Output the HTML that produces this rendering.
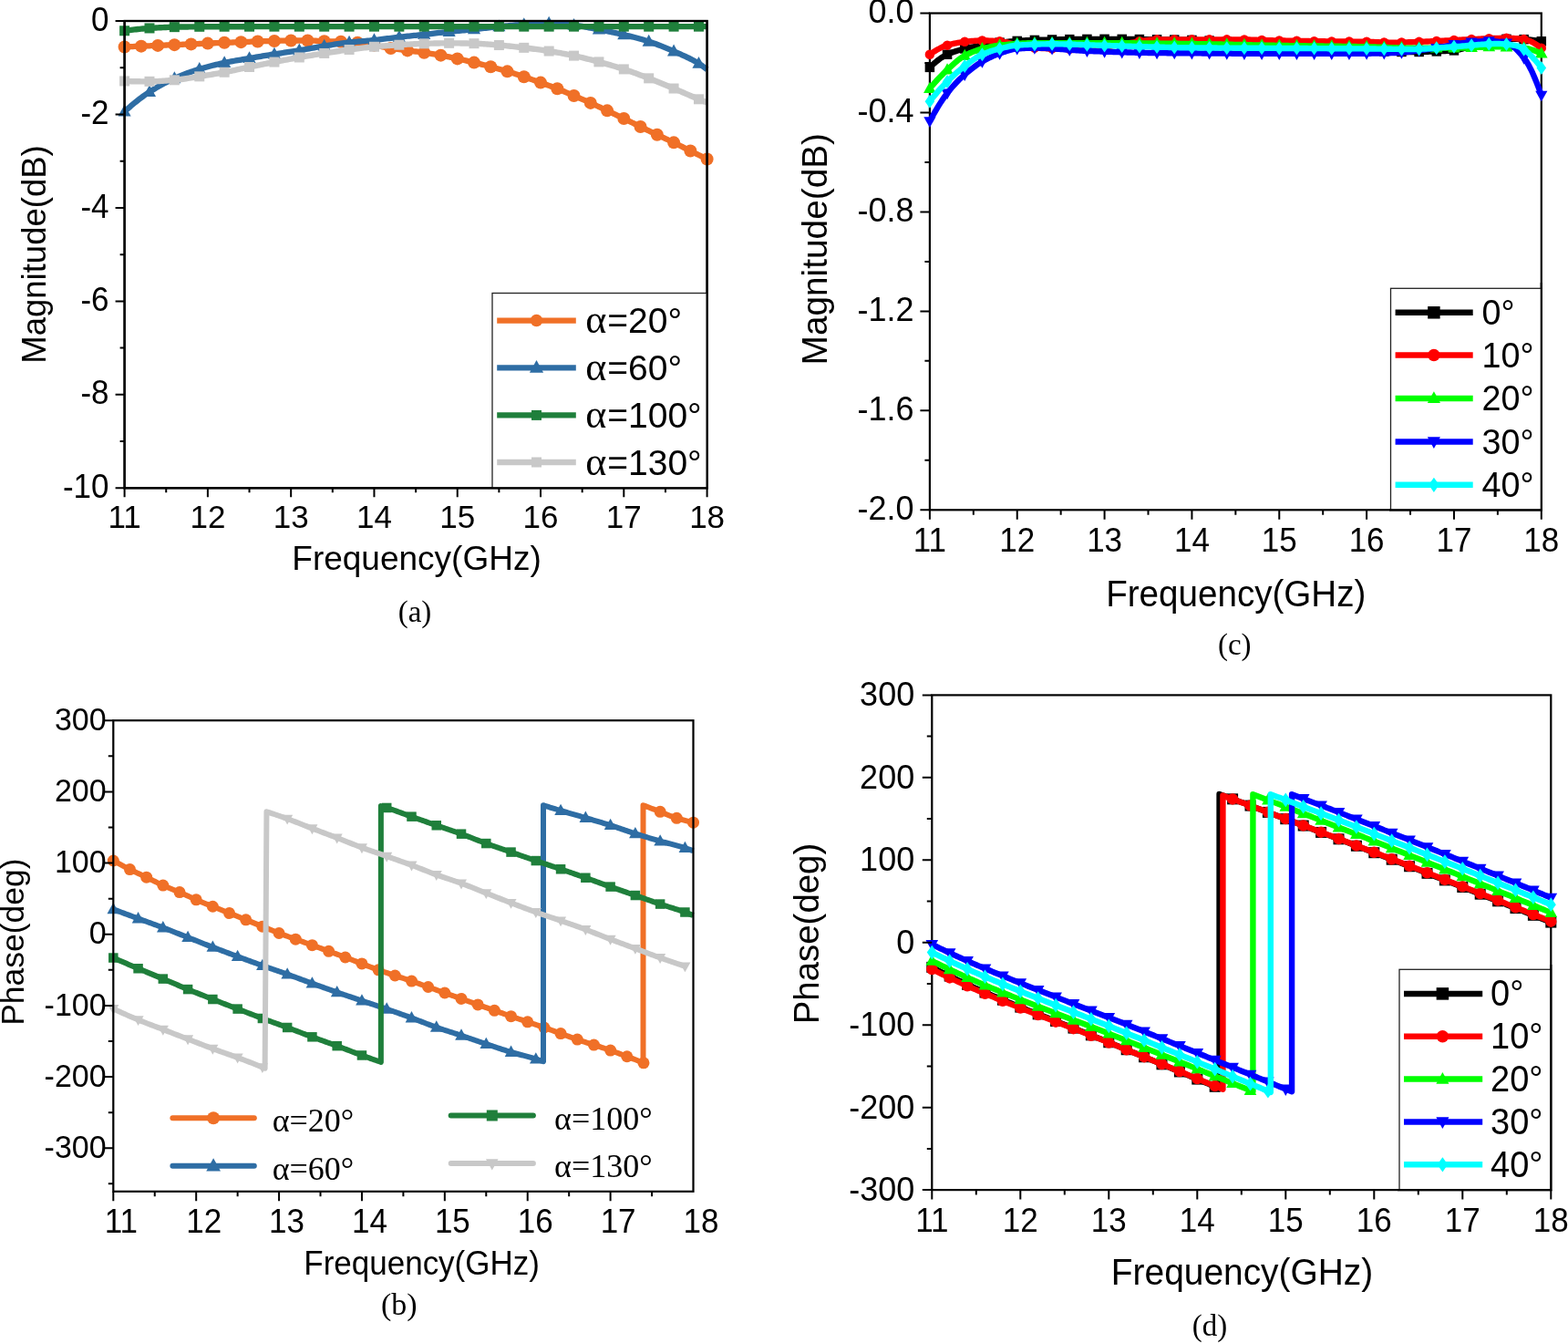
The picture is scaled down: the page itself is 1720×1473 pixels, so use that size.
<!DOCTYPE html>
<html><head><meta charset="utf-8"><title>Figure</title><style>html,body{margin:0;padding:0;background:#fff;}svg{display:block;}</style></head><body>
<svg width="1720" height="1473" viewBox="0 0 1720 1473">
<rect width="1720" height="1473" fill="#fff"/>
<path d="M136.6 51.43L138.43 51.36L140.25 51.28L142.08 51.2L143.9 51.13L145.73 51.05L147.55 50.97L149.38 50.89L151.21 50.82L153.03 50.74L154.86 50.66L156.68 50.59L158.51 50.51L160.33 50.43L162.16 50.36L163.99 50.28L165.81 50.2L167.64 50.13L169.46 50.05L171.29 49.97L173.11 49.9L174.94 49.82L176.77 49.74L178.59 49.66L180.42 49.59L182.24 49.51L184.07 49.43L185.89 49.35L187.72 49.28L189.55 49.2L191.37 49.13L193.2 49.05L195.02 48.98L196.85 48.91L198.67 48.84L200.5 48.77L202.33 48.7L204.15 48.63L205.98 48.56L207.8 48.49L209.63 48.41L211.45 48.33L213.28 48.25L215.11 48.17L216.93 48.09L218.76 48L220.58 47.92L222.41 47.84L224.23 47.75L226.06 47.67L227.89 47.59L229.71 47.51L231.54 47.43L233.36 47.35L235.19 47.27L237.01 47.2L238.84 47.12L240.67 47.04L242.49 46.97L244.32 46.89L246.14 46.82L247.97 46.75L249.79 46.68L251.62 46.62L253.45 46.55L255.27 46.49L257.1 46.42L258.92 46.36L260.75 46.29L262.57 46.22L264.4 46.16L266.23 46.09L268.05 46.01L269.88 45.94L271.7 45.86L273.53 45.79L275.35 45.71L277.18 45.64L279.01 45.57L280.83 45.5L282.66 45.44L284.48 45.38L286.31 45.32L288.13 45.27L289.96 45.22L291.79 45.16L293.61 45.11L295.44 45.07L297.26 45.02L299.09 44.97L300.91 44.93L302.74 44.88L304.57 44.83L306.39 44.77L308.22 44.72L310.04 44.66L311.87 44.62L313.69 44.58L315.52 44.54L317.35 44.52L319.17 44.52L321 44.52L322.82 44.52L324.65 44.52L326.47 44.52L328.3 44.52L330.13 44.52L331.95 44.52L333.78 44.52L335.6 44.52L337.43 44.52L339.25 44.53L341.08 44.56L342.91 44.61L344.73 44.68L346.56 44.75L348.38 44.83L350.21 44.91L352.03 44.99L353.86 45.07L355.69 45.13L357.51 45.19L359.34 45.24L361.16 45.29L362.99 45.34L364.81 45.39L366.64 45.44L368.47 45.5L370.29 45.56L372.12 45.62L373.94 45.69L375.77 45.77L377.59 45.86L379.42 45.95L381.25 46.05L383.07 46.15L384.9 46.27L386.72 46.39L388.55 46.52L390.37 46.67L392.2 46.82L394.03 47L395.85 47.22L397.68 47.47L399.5 47.75L401.33 48.05L403.15 48.36L404.98 48.68L406.81 49.01L408.63 49.33L410.46 49.64L412.28 49.95L414.11 50.29L415.93 50.63L417.76 50.98L419.59 51.34L421.41 51.69L423.24 52.03L425.06 52.36L426.89 52.68L428.71 52.97L430.54 53.24L432.37 53.5L434.19 53.75L436.02 53.99L437.84 54.23L439.67 54.46L441.49 54.69L443.32 54.91L445.15 55.14L446.97 55.38L448.8 55.61L450.62 55.84L452.45 56.06L454.27 56.28L456.1 56.5L457.93 56.72L459.75 56.95L461.58 57.19L463.4 57.43L465.23 57.68L467.05 57.95L468.88 58.22L470.71 58.5L472.53 58.78L474.36 59.08L476.18 59.38L478.01 59.69L479.83 60L481.66 60.33L483.49 60.65L485.31 60.99L487.14 61.34L488.96 61.7L490.79 62.07L492.61 62.44L494.44 62.83L496.27 63.21L498.09 63.6L499.92 64L501.74 64.39L503.57 64.79L505.39 65.2L507.22 65.61L509.05 66.02L510.87 66.44L512.7 66.86L514.52 67.29L516.35 67.72L518.17 68.16L520 68.59L521.83 69.04L523.65 69.48L525.48 69.93L527.3 70.38L529.13 70.84L530.95 71.31L532.78 71.77L534.61 72.25L536.43 72.72L538.26 73.21L540.08 73.69L541.91 74.18L543.73 74.68L545.56 75.18L547.39 75.69L549.21 76.2L551.04 76.72L552.86 77.25L554.69 77.78L556.51 78.33L558.34 78.88L560.17 79.45L561.99 80.02L563.82 80.6L565.64 81.19L567.47 81.79L569.29 82.39L571.12 83L572.95 83.61L574.77 84.22L576.6 84.84L578.42 85.46L580.25 86.09L582.07 86.73L583.9 87.37L585.73 88.02L587.55 88.67L589.38 89.32L591.2 89.97L593.03 90.62L594.85 91.27L596.68 91.92L598.51 92.57L600.33 93.22L602.16 93.88L603.98 94.54L605.81 95.21L607.63 95.89L609.46 96.58L611.29 97.28L613.11 98.01L614.94 98.75L616.76 99.5L618.59 100.27L620.41 101.04L622.24 101.82L624.07 102.61L625.89 103.4L627.72 104.18L629.54 104.97L631.37 105.75L633.19 106.53L635.02 107.32L636.85 108.1L638.67 108.89L640.5 109.68L642.32 110.48L644.15 111.28L645.97 112.09L647.8 112.91L649.63 113.73L651.45 114.56L653.28 115.4L655.1 116.24L656.93 117.09L658.75 117.94L660.58 118.79L662.41 119.65L664.23 120.5L666.06 121.36L667.88 122.22L669.71 123.08L671.53 123.95L673.36 124.81L675.19 125.68L677.01 126.56L678.84 127.43L680.66 128.31L682.49 129.19L684.31 130.07L686.14 130.96L687.97 131.85L689.79 132.75L691.62 133.65L693.44 134.55L695.27 135.45L697.09 136.35L698.92 137.25L700.75 138.15L702.57 139.04L704.4 139.92L706.22 140.8L708.05 141.69L709.87 142.56L711.7 143.44L713.53 144.32L715.35 145.19L717.18 146.06L719 146.93L720.83 147.8L722.65 148.66L724.48 149.51L726.31 150.36L728.13 151.2L729.96 152.05L731.78 152.9L733.61 153.75L735.43 154.61L737.26 155.47L739.09 156.35L740.91 157.24L742.74 158.15L744.56 159.06L746.39 159.99L748.21 160.91L750.04 161.84L751.87 162.77L753.69 163.69L755.52 164.61L757.34 165.52L759.17 166.42L760.99 167.32L762.82 168.22L764.65 169.12L766.47 170.01L768.3 170.9L770.12 171.79L771.95 172.67L773.77 173.56L775.6 174.44" fill="none" stroke="#f07027" stroke-width="6.3" stroke-linejoin="round" stroke-linecap="butt"/>
<circle cx="136.6" cy="51.43" r="7" fill="#f07027"/><circle cx="154.86" cy="50.66" r="7" fill="#f07027"/><circle cx="173.11" cy="49.9" r="7" fill="#f07027"/><circle cx="191.37" cy="49.13" r="7" fill="#f07027"/><circle cx="209.63" cy="48.41" r="7" fill="#f07027"/><circle cx="227.89" cy="47.59" r="7" fill="#f07027"/><circle cx="246.14" cy="46.82" r="7" fill="#f07027"/><circle cx="264.4" cy="46.16" r="7" fill="#f07027"/><circle cx="282.66" cy="45.44" r="7" fill="#f07027"/><circle cx="300.91" cy="44.93" r="7" fill="#f07027"/><circle cx="319.17" cy="44.52" r="7" fill="#f07027"/><circle cx="337.43" cy="44.52" r="7" fill="#f07027"/><circle cx="355.69" cy="45.13" r="7" fill="#f07027"/><circle cx="373.94" cy="45.69" r="7" fill="#f07027"/><circle cx="392.2" cy="46.82" r="7" fill="#f07027"/><circle cx="410.46" cy="49.64" r="7" fill="#f07027"/><circle cx="428.71" cy="52.97" r="7" fill="#f07027"/><circle cx="446.97" cy="55.38" r="7" fill="#f07027"/><circle cx="465.23" cy="57.68" r="7" fill="#f07027"/><circle cx="483.49" cy="60.65" r="7" fill="#f07027"/><circle cx="501.74" cy="64.39" r="7" fill="#f07027"/><circle cx="520" cy="68.59" r="7" fill="#f07027"/><circle cx="538.26" cy="73.21" r="7" fill="#f07027"/><circle cx="556.51" cy="78.33" r="7" fill="#f07027"/><circle cx="574.77" cy="84.22" r="7" fill="#f07027"/><circle cx="593.03" cy="90.62" r="7" fill="#f07027"/><circle cx="611.29" cy="97.28" r="7" fill="#f07027"/><circle cx="629.54" cy="104.97" r="7" fill="#f07027"/><circle cx="647.8" cy="112.91" r="7" fill="#f07027"/><circle cx="666.06" cy="121.36" r="7" fill="#f07027"/><circle cx="684.31" cy="130.07" r="7" fill="#f07027"/><circle cx="702.57" cy="139.04" r="7" fill="#f07027"/><circle cx="720.83" cy="147.8" r="7" fill="#f07027"/><circle cx="739.09" cy="156.35" r="7" fill="#f07027"/><circle cx="757.34" cy="165.52" r="7" fill="#f07027"/><circle cx="775.6" cy="174.44" r="7" fill="#f07027"/>
<path d="M136.6 122.39L138.43 120.74L140.25 119.12L142.08 117.53L143.9 115.97L145.73 114.43L147.55 112.92L149.38 111.45L151.21 110L153.03 108.59L154.86 107.21L156.68 105.87L158.51 104.56L160.33 103.29L162.16 102.06L163.99 100.87L165.81 99.71L167.64 98.57L169.46 97.46L171.29 96.38L173.11 95.31L174.94 94.27L176.77 93.26L178.59 92.27L180.42 91.3L182.24 90.36L184.07 89.44L185.89 88.55L187.72 87.68L189.55 86.83L191.37 86.01L193.2 85.21L195.02 84.43L196.85 83.66L198.67 82.91L200.5 82.17L202.33 81.45L204.15 80.75L205.98 80.07L207.8 79.4L209.63 78.75L211.45 78.12L213.28 77.5L215.11 76.9L216.93 76.33L218.76 75.77L220.58 75.22L222.41 74.69L224.23 74.17L226.06 73.67L227.89 73.17L229.71 72.69L231.54 72.22L233.36 71.76L235.19 71.32L237.01 70.88L238.84 70.45L240.67 70.04L242.49 69.63L244.32 69.24L246.14 68.85L247.97 68.48L249.79 68.12L251.62 67.76L253.45 67.42L255.27 67.09L257.1 66.77L258.92 66.45L260.75 66.14L262.57 65.83L264.4 65.52L266.23 65.22L268.05 64.91L269.88 64.61L271.7 64.3L273.53 63.98L275.35 63.67L277.18 63.35L279.01 63.04L280.83 62.72L282.66 62.41L284.48 62.1L286.31 61.78L288.13 61.47L289.96 61.17L291.79 60.86L293.61 60.56L295.44 60.26L297.26 59.96L299.09 59.66L300.91 59.37L302.74 59.09L304.57 58.81L306.39 58.53L308.22 58.26L310.04 58L311.87 57.73L313.69 57.47L315.52 57.21L317.35 56.94L319.17 56.68L321 56.41L322.82 56.13L324.65 55.85L326.47 55.57L328.3 55.27L330.13 54.97L331.95 54.66L333.78 54.34L335.6 54.01L337.43 53.67L339.25 53.33L341.08 52.99L342.91 52.65L344.73 52.31L346.56 51.98L348.38 51.65L350.21 51.32L352.03 51.01L353.86 50.7L355.69 50.41L357.51 50.12L359.34 49.84L361.16 49.56L362.99 49.28L364.81 49L366.64 48.73L368.47 48.47L370.29 48.2L372.12 47.95L373.94 47.7L375.77 47.46L377.59 47.22L379.42 46.99L381.25 46.78L383.07 46.57L384.9 46.37L386.72 46.18L388.55 46L390.37 45.83L392.2 45.66L394.03 45.5L395.85 45.34L397.68 45.18L399.5 45.03L401.33 44.87L403.15 44.71L404.98 44.54L406.81 44.37L408.63 44.19L410.46 44L412.28 43.81L414.11 43.6L415.93 43.39L417.76 43.16L419.59 42.94L421.41 42.71L423.24 42.48L425.06 42.24L426.89 42.01L428.71 41.78L430.54 41.55L432.37 41.32L434.19 41.1L436.02 40.88L437.84 40.67L439.67 40.47L441.49 40.28L443.32 40.08L445.15 39.9L446.97 39.71L448.8 39.53L450.62 39.34L452.45 39.16L454.27 38.98L456.1 38.8L457.93 38.61L459.75 38.43L461.58 38.24L463.4 38.05L465.23 37.86L467.05 37.66L468.88 37.46L470.71 37.25L472.53 37.04L474.36 36.83L476.18 36.62L478.01 36.41L479.83 36.2L481.66 35.99L483.49 35.78L485.31 35.57L487.14 35.37L488.96 35.17L490.79 34.97L492.61 34.78L494.44 34.6L496.27 34.42L498.09 34.25L499.92 34.08L501.74 33.91L503.57 33.75L505.39 33.58L507.22 33.42L509.05 33.26L510.87 33.09L512.7 32.93L514.52 32.76L516.35 32.58L518.17 32.4L520 32.22L521.83 32.03L523.65 31.83L525.48 31.63L527.3 31.42L529.13 31.21L530.95 30.99L532.78 30.77L534.61 30.56L536.43 30.34L538.26 30.13L540.08 29.92L541.91 29.72L543.73 29.52L545.56 29.33L547.39 29.15L549.21 28.97L551.04 28.8L552.86 28.62L554.69 28.45L556.51 28.28L558.34 28.11L560.17 27.95L561.99 27.79L563.82 27.64L565.64 27.49L567.47 27.35L569.29 27.21L571.12 27.08L572.95 26.96L574.77 26.84L576.6 26.73L578.42 26.62L580.25 26.5L582.07 26.38L583.9 26.27L585.73 26.15L587.55 26.05L589.38 25.95L591.2 25.85L593.03 25.77L594.85 25.7L596.68 25.64L598.51 25.6L600.33 25.57L602.16 25.56L603.98 25.58L605.81 25.62L607.63 25.68L609.46 25.77L611.29 25.88L613.11 26.01L614.94 26.15L616.76 26.31L618.59 26.47L620.41 26.65L622.24 26.84L624.07 27.03L625.89 27.22L627.72 27.42L629.54 27.61L631.37 27.82L633.19 28.06L635.02 28.32L636.85 28.61L638.67 28.91L640.5 29.24L642.32 29.58L644.15 29.93L645.97 30.29L647.8 30.66L649.63 31.03L651.45 31.4L653.28 31.76L655.1 32.12L656.93 32.48L658.75 32.83L660.58 33.18L662.41 33.53L664.23 33.88L666.06 34.24L667.88 34.6L669.71 34.96L671.53 35.33L673.36 35.71L675.19 36.09L677.01 36.48L678.84 36.87L680.66 37.28L682.49 37.69L684.31 38.11L686.14 38.54L687.97 38.98L689.79 39.42L691.62 39.88L693.44 40.34L695.27 40.81L697.09 41.29L698.92 41.78L700.75 42.28L702.57 42.79L704.4 43.31L706.22 43.85L708.05 44.4L709.87 44.96L711.7 45.54L713.53 46.14L715.35 46.76L717.18 47.4L719 48.07L720.83 48.75L722.65 49.45L724.48 50.17L726.31 50.9L728.13 51.64L729.96 52.4L731.78 53.16L733.61 53.94L735.43 54.72L737.26 55.51L739.09 56.3L740.91 57.09L742.74 57.88L744.56 58.68L746.39 59.48L748.21 60.29L750.04 61.11L751.87 61.95L753.69 62.81L755.52 63.69L757.34 64.6L759.17 65.53L760.99 66.5L762.82 67.5L764.65 68.54L766.47 69.62L768.3 70.79L770.12 72.06L771.95 73.43L773.77 74.84L775.6 76.28" fill="none" stroke="#2e6da4" stroke-width="6.3" stroke-linejoin="round" stroke-linecap="butt"/>
<path d="M136.6 114.69L143.69 127.52L129.51 127.52Z" fill="#2e6da4"/><path d="M163.99 93.17L171.07 106L156.9 106Z" fill="#2e6da4"/><path d="M191.37 78.32L198.46 91.14L184.28 91.14Z" fill="#2e6da4"/><path d="M218.76 68.07L225.84 80.9L211.67 80.9Z" fill="#2e6da4"/><path d="M246.14 61.16L253.23 73.98L239.06 73.98Z" fill="#2e6da4"/><path d="M273.53 56.29L280.62 69.11L266.44 69.11Z" fill="#2e6da4"/><path d="M300.91 51.68L308 64.5L293.83 64.5Z" fill="#2e6da4"/><path d="M328.3 47.58L335.39 60.4L321.21 60.4Z" fill="#2e6da4"/><path d="M355.69 42.71L362.77 55.54L348.6 55.54Z" fill="#2e6da4"/><path d="M383.07 38.87L390.16 51.7L375.98 51.7Z" fill="#2e6da4"/><path d="M410.46 36.31L417.54 49.13L403.37 49.13Z" fill="#2e6da4"/><path d="M437.84 32.98L444.93 45.8L430.76 45.8Z" fill="#2e6da4"/><path d="M465.23 30.16L472.32 42.99L458.14 42.99Z" fill="#2e6da4"/><path d="M492.61 27.09L499.7 39.91L485.53 39.91Z" fill="#2e6da4"/><path d="M520 24.53L527.09 37.35L512.91 37.35Z" fill="#2e6da4"/><path d="M547.39 21.45L554.47 34.28L540.3 34.28Z" fill="#2e6da4"/><path d="M574.77 19.15L581.86 31.97L567.68 31.97Z" fill="#2e6da4"/><path d="M602.16 17.87L609.24 30.69L595.07 30.69Z" fill="#2e6da4"/><path d="M629.54 19.92L636.63 32.74L622.46 32.74Z" fill="#2e6da4"/><path d="M656.93 24.78L664.02 37.61L649.84 37.61Z" fill="#2e6da4"/><path d="M684.31 30.42L691.4 43.24L677.23 43.24Z" fill="#2e6da4"/><path d="M711.7 37.85L718.79 50.67L704.61 50.67Z" fill="#2e6da4"/><path d="M739.09 48.6L746.17 61.43L732 61.43Z" fill="#2e6da4"/><path d="M766.47 61.92L773.56 74.75L759.38 74.75Z" fill="#2e6da4"/>
<path d="M136.6 33.76L138.43 33.52L140.25 33.29L142.08 33.06L143.9 32.84L145.73 32.63L147.55 32.42L149.38 32.22L151.21 32.03L153.03 31.84L154.86 31.67L156.68 31.5L158.51 31.34L160.33 31.2L162.16 31.06L163.99 30.94L165.81 30.82L167.64 30.71L169.46 30.6L171.29 30.49L173.11 30.39L174.94 30.29L176.77 30.19L178.59 30.1L180.42 30.02L182.24 29.94L184.07 29.87L185.89 29.8L187.72 29.75L189.55 29.7L191.37 29.66L193.2 29.63L195.02 29.59L196.85 29.56L198.67 29.53L200.5 29.5L202.33 29.48L204.15 29.45L205.98 29.43L207.8 29.4L209.63 29.38L211.45 29.36L213.28 29.34L215.11 29.32L216.93 29.31L218.76 29.29L220.58 29.28L222.41 29.27L224.23 29.26L226.06 29.26L227.89 29.25L229.71 29.25L231.54 29.24L233.36 29.24L235.19 29.23L237.01 29.23L238.84 29.23L240.67 29.22L242.49 29.22L244.32 29.22L246.14 29.21L247.97 29.21L249.79 29.21L251.62 29.2L253.45 29.2L255.27 29.2L257.1 29.19L258.92 29.19L260.75 29.19L262.57 29.19L264.4 29.18L266.23 29.18L268.05 29.18L269.88 29.18L271.7 29.17L273.53 29.17L275.35 29.17L277.18 29.17L279.01 29.17L280.83 29.17L282.66 29.16L284.48 29.16L286.31 29.16L288.13 29.16L289.96 29.16L291.79 29.16L293.61 29.16L295.44 29.15L297.26 29.15L299.09 29.15L300.91 29.15L302.74 29.15L304.57 29.15L306.39 29.15L308.22 29.15L310.04 29.15L311.87 29.15L313.69 29.15L315.52 29.15L317.35 29.15L319.17 29.15L321 29.15L322.82 29.15L324.65 29.15L326.47 29.15L328.3 29.15L330.13 29.15L331.95 29.15L333.78 29.15L335.6 29.15L337.43 29.15L339.25 29.15L341.08 29.15L342.91 29.15L344.73 29.15L346.56 29.15L348.38 29.15L350.21 29.15L352.03 29.15L353.86 29.15L355.69 29.15L357.51 29.15L359.34 29.15L361.16 29.15L362.99 29.15L364.81 29.15L366.64 29.15L368.47 29.15L370.29 29.15L372.12 29.15L373.94 29.15L375.77 29.15L377.59 29.15L379.42 29.15L381.25 29.15L383.07 29.15L384.9 29.15L386.72 29.15L388.55 29.15L390.37 29.15L392.2 29.15L394.03 29.15L395.85 29.15L397.68 29.15L399.5 29.15L401.33 29.15L403.15 29.15L404.98 29.15L406.81 29.15L408.63 29.15L410.46 29.15L412.28 29.15L414.11 29.15L415.93 29.15L417.76 29.15L419.59 29.15L421.41 29.15L423.24 29.15L425.06 29.15L426.89 29.15L428.71 29.15L430.54 29.15L432.37 29.15L434.19 29.15L436.02 29.15L437.84 29.15L439.67 29.15L441.49 29.15L443.32 29.15L445.15 29.15L446.97 29.15L448.8 29.15L450.62 29.15L452.45 29.15L454.27 29.15L456.1 29.15L457.93 29.15L459.75 29.15L461.58 29.15L463.4 29.15L465.23 29.15L467.05 29.15L468.88 29.15L470.71 29.15L472.53 29.15L474.36 29.15L476.18 29.15L478.01 29.15L479.83 29.15L481.66 29.15L483.49 29.15L485.31 29.15L487.14 29.15L488.96 29.15L490.79 29.15L492.61 29.15L494.44 29.15L496.27 29.15L498.09 29.15L499.92 29.15L501.74 29.15L503.57 29.15L505.39 29.15L507.22 29.15L509.05 29.15L510.87 29.15L512.7 29.15L514.52 29.15L516.35 29.15L518.17 29.15L520 29.15L521.83 29.15L523.65 29.15L525.48 29.15L527.3 29.15L529.13 29.15L530.95 29.15L532.78 29.15L534.61 29.15L536.43 29.15L538.26 29.15L540.08 29.15L541.91 29.15L543.73 29.15L545.56 29.15L547.39 29.15L549.21 29.15L551.04 29.15L552.86 29.15L554.69 29.15L556.51 29.15L558.34 29.15L560.17 29.15L561.99 29.15L563.82 29.15L565.64 29.15L567.47 29.15L569.29 29.15L571.12 29.15L572.95 29.15L574.77 29.15L576.6 29.15L578.42 29.15L580.25 29.15L582.07 29.15L583.9 29.15L585.73 29.15L587.55 29.15L589.38 29.15L591.2 29.15L593.03 29.15L594.85 29.15L596.68 29.15L598.51 29.15L600.33 29.15L602.16 29.15L603.98 29.15L605.81 29.15L607.63 29.15L609.46 29.15L611.29 29.15L613.11 29.15L614.94 29.15L616.76 29.15L618.59 29.15L620.41 29.15L622.24 29.15L624.07 29.15L625.89 29.15L627.72 29.15L629.54 29.15L631.37 29.15L633.19 29.15L635.02 29.15L636.85 29.15L638.67 29.15L640.5 29.15L642.32 29.15L644.15 29.15L645.97 29.15L647.8 29.15L649.63 29.15L651.45 29.15L653.28 29.15L655.1 29.15L656.93 29.15L658.75 29.15L660.58 29.15L662.41 29.15L664.23 29.15L666.06 29.15L667.88 29.15L669.71 29.15L671.53 29.15L673.36 29.15L675.19 29.15L677.01 29.15L678.84 29.15L680.66 29.15L682.49 29.15L684.31 29.15L686.14 29.15L687.97 29.15L689.79 29.15L691.62 29.15L693.44 29.15L695.27 29.15L697.09 29.15L698.92 29.15L700.75 29.15L702.57 29.15L704.4 29.15L706.22 29.15L708.05 29.15L709.87 29.15L711.7 29.15L713.53 29.15L715.35 29.15L717.18 29.15L719 29.15L720.83 29.15L722.65 29.15L724.48 29.15L726.31 29.15L728.13 29.15L729.96 29.15L731.78 29.15L733.61 29.15L735.43 29.15L737.26 29.15L739.09 29.15L740.91 29.15L742.74 29.15L744.56 29.15L746.39 29.15L748.21 29.15L750.04 29.15L751.87 29.15L753.69 29.15L755.52 29.15L757.34 29.15L759.17 29.15L760.99 29.15L762.82 29.15L764.65 29.15L766.47 29.15L768.3 29.15L770.12 29.15L771.95 29.15L773.77 29.15L775.6 29.15" fill="none" stroke="#1f7f3b" stroke-width="6.4" stroke-linejoin="round" stroke-linecap="butt"/>
<rect x="131.1" y="28.26" width="11" height="11" fill="#1f7f3b"/><rect x="158.49" y="25.44" width="11" height="11" fill="#1f7f3b"/><rect x="185.87" y="24.16" width="11" height="11" fill="#1f7f3b"/><rect x="213.26" y="23.79" width="11" height="11" fill="#1f7f3b"/><rect x="240.64" y="23.71" width="11" height="11" fill="#1f7f3b"/><rect x="268.03" y="23.67" width="11" height="11" fill="#1f7f3b"/><rect x="295.41" y="23.65" width="11" height="11" fill="#1f7f3b"/><rect x="322.8" y="23.65" width="11" height="11" fill="#1f7f3b"/><rect x="350.19" y="23.65" width="11" height="11" fill="#1f7f3b"/><rect x="377.57" y="23.65" width="11" height="11" fill="#1f7f3b"/><rect x="404.96" y="23.65" width="11" height="11" fill="#1f7f3b"/><rect x="432.34" y="23.65" width="11" height="11" fill="#1f7f3b"/><rect x="459.73" y="23.65" width="11" height="11" fill="#1f7f3b"/><rect x="487.11" y="23.65" width="11" height="11" fill="#1f7f3b"/><rect x="514.5" y="23.65" width="11" height="11" fill="#1f7f3b"/><rect x="541.89" y="23.65" width="11" height="11" fill="#1f7f3b"/><rect x="569.27" y="23.65" width="11" height="11" fill="#1f7f3b"/><rect x="596.66" y="23.65" width="11" height="11" fill="#1f7f3b"/><rect x="624.04" y="23.65" width="11" height="11" fill="#1f7f3b"/><rect x="651.43" y="23.65" width="11" height="11" fill="#1f7f3b"/><rect x="678.81" y="23.65" width="11" height="11" fill="#1f7f3b"/><rect x="706.2" y="23.65" width="11" height="11" fill="#1f7f3b"/><rect x="733.59" y="23.65" width="11" height="11" fill="#1f7f3b"/><rect x="760.97" y="23.65" width="11" height="11" fill="#1f7f3b"/>
<path d="M136.6 88.93L138.43 89.01L140.25 89.08L142.08 89.13L143.9 89.18L145.73 89.22L147.55 89.25L149.38 89.28L151.21 89.3L153.03 89.32L154.86 89.33L156.68 89.34L158.51 89.34L160.33 89.34L162.16 89.34L163.99 89.34L165.81 89.33L167.64 89.3L169.46 89.25L171.29 89.19L173.11 89.11L174.94 89.01L176.77 88.91L178.59 88.79L180.42 88.67L182.24 88.53L184.07 88.39L185.89 88.25L187.72 88.1L189.55 87.95L191.37 87.81L193.2 87.64L195.02 87.46L196.85 87.25L198.67 87.02L200.5 86.77L202.33 86.51L204.15 86.23L205.98 85.94L207.8 85.65L209.63 85.35L211.45 85.05L213.28 84.74L215.11 84.44L216.93 84.15L218.76 83.86L220.58 83.58L222.41 83.29L224.23 83L226.06 82.71L227.89 82.41L229.71 82.12L231.54 81.82L233.36 81.51L235.19 81.2L237.01 80.89L238.84 80.57L240.67 80.25L242.49 79.92L244.32 79.59L246.14 79.25L247.97 78.9L249.79 78.55L251.62 78.18L253.45 77.8L255.27 77.42L257.1 77.03L258.92 76.64L260.75 76.24L262.57 75.85L264.4 75.45L266.23 75.05L268.05 74.66L269.88 74.27L271.7 73.89L273.53 73.51L275.35 73.14L277.18 72.77L279.01 72.4L280.83 72.03L282.66 71.67L284.48 71.3L286.31 70.94L288.13 70.58L289.96 70.22L291.79 69.86L293.61 69.5L295.44 69.14L297.26 68.79L299.09 68.43L300.91 68.08L302.74 67.73L304.57 67.38L306.39 67.03L308.22 66.68L310.04 66.33L311.87 65.98L313.69 65.63L315.52 65.29L317.35 64.95L319.17 64.61L321 64.27L322.82 63.94L324.65 63.61L326.47 63.28L328.3 62.96L330.13 62.64L331.95 62.33L333.78 62.01L335.6 61.7L337.43 61.39L339.25 61.09L341.08 60.79L342.91 60.49L344.73 60.19L346.56 59.89L348.38 59.6L350.21 59.31L352.03 59.02L353.86 58.73L355.69 58.45L357.51 58.17L359.34 57.89L361.16 57.61L362.99 57.33L364.81 57.05L366.64 56.77L368.47 56.5L370.29 56.23L372.12 55.96L373.94 55.7L375.77 55.44L377.59 55.19L379.42 54.94L381.25 54.69L383.07 54.46L384.9 54.22L386.72 53.98L388.55 53.75L390.37 53.52L392.2 53.29L394.03 53.07L395.85 52.85L397.68 52.63L399.5 52.42L401.33 52.21L403.15 52.01L404.98 51.81L406.81 51.63L408.63 51.45L410.46 51.28L412.28 51.12L414.11 50.96L415.93 50.8L417.76 50.65L419.59 50.5L421.41 50.36L423.24 50.22L425.06 50.08L426.89 49.95L428.71 49.82L430.54 49.7L432.37 49.57L434.19 49.46L436.02 49.34L437.84 49.23L439.67 49.12L441.49 49.01L443.32 48.9L445.15 48.79L446.97 48.68L448.8 48.58L450.62 48.47L452.45 48.38L454.27 48.28L456.1 48.19L457.93 48.11L459.75 48.03L461.58 47.96L463.4 47.9L465.23 47.85L467.05 47.8L468.88 47.75L470.71 47.7L472.53 47.65L474.36 47.6L476.18 47.56L478.01 47.52L479.83 47.48L481.66 47.44L483.49 47.41L485.31 47.39L487.14 47.36L488.96 47.35L490.79 47.34L492.61 47.33L494.44 47.34L496.27 47.34L498.09 47.35L499.92 47.37L501.74 47.38L503.57 47.4L505.39 47.43L507.22 47.45L509.05 47.48L510.87 47.51L512.7 47.54L514.52 47.58L516.35 47.62L518.17 47.65L520 47.69L521.83 47.74L523.65 47.81L525.48 47.89L527.3 47.99L529.13 48.09L530.95 48.21L532.78 48.34L534.61 48.48L536.43 48.62L538.26 48.77L540.08 48.93L541.91 49.08L543.73 49.23L545.56 49.39L547.39 49.54L549.21 49.69L551.04 49.85L552.86 50.01L554.69 50.18L556.51 50.36L558.34 50.54L560.17 50.73L561.99 50.92L563.82 51.12L565.64 51.32L567.47 51.52L569.29 51.72L571.12 51.93L572.95 52.14L574.77 52.35L576.6 52.57L578.42 52.79L580.25 53.01L582.07 53.24L583.9 53.47L585.73 53.7L587.55 53.94L589.38 54.19L591.2 54.44L593.03 54.69L594.85 54.95L596.68 55.22L598.51 55.49L600.33 55.76L602.16 56.04L603.98 56.33L605.81 56.63L607.63 56.93L609.46 57.24L611.29 57.56L613.11 57.89L614.94 58.22L616.76 58.56L618.59 58.91L620.41 59.26L622.24 59.62L624.07 59.98L625.89 60.35L627.72 60.73L629.54 61.12L631.37 61.51L633.19 61.91L635.02 62.33L636.85 62.75L638.67 63.18L640.5 63.62L642.32 64.07L644.15 64.53L645.97 65L647.8 65.47L649.63 65.94L651.45 66.42L653.28 66.9L655.1 67.39L656.93 67.88L658.75 68.37L660.58 68.87L662.41 69.37L664.23 69.88L666.06 70.39L667.88 70.91L669.71 71.44L671.53 71.97L673.36 72.51L675.19 73.06L677.01 73.62L678.84 74.18L680.66 74.75L682.49 75.33L684.31 75.92L686.14 76.52L687.97 77.13L689.79 77.76L691.62 78.39L693.44 79.04L695.27 79.69L697.09 80.35L698.92 81.02L700.75 81.7L702.57 82.38L704.4 83.07L706.22 83.76L708.05 84.46L709.87 85.16L711.7 85.86L713.53 86.56L715.35 87.28L717.18 88L719 88.73L720.83 89.46L722.65 90.2L724.48 90.95L726.31 91.7L728.13 92.45L729.96 93.21L731.78 93.97L733.61 94.73L735.43 95.5L737.26 96.26L739.09 97.03L740.91 97.8L742.74 98.58L744.56 99.36L746.39 100.16L748.21 100.95L750.04 101.75L751.87 102.56L753.69 103.36L755.52 104.16L757.34 104.95L759.17 105.74L760.99 106.52L762.82 107.3L764.65 108.06L766.47 108.81L768.3 109.55L770.12 110.27L771.95 110.99L773.77 111.69L775.6 112.4" fill="none" stroke="#c8c8c8" stroke-width="6.4" stroke-linejoin="round" stroke-linecap="butt"/>
<rect x="131.1" y="83.43" width="11" height="11" fill="#c8c8c8"/><rect x="158.49" y="83.84" width="11" height="11" fill="#c8c8c8"/><rect x="185.87" y="82.31" width="11" height="11" fill="#c8c8c8"/><rect x="213.26" y="78.36" width="11" height="11" fill="#c8c8c8"/><rect x="240.64" y="73.75" width="11" height="11" fill="#c8c8c8"/><rect x="268.03" y="68.01" width="11" height="11" fill="#c8c8c8"/><rect x="295.41" y="62.58" width="11" height="11" fill="#c8c8c8"/><rect x="322.8" y="57.46" width="11" height="11" fill="#c8c8c8"/><rect x="350.19" y="52.95" width="11" height="11" fill="#c8c8c8"/><rect x="377.57" y="48.96" width="11" height="11" fill="#c8c8c8"/><rect x="404.96" y="45.78" width="11" height="11" fill="#c8c8c8"/><rect x="432.34" y="43.73" width="11" height="11" fill="#c8c8c8"/><rect x="459.73" y="42.35" width="11" height="11" fill="#c8c8c8"/><rect x="487.11" y="41.83" width="11" height="11" fill="#c8c8c8"/><rect x="514.5" y="42.19" width="11" height="11" fill="#c8c8c8"/><rect x="541.89" y="44.04" width="11" height="11" fill="#c8c8c8"/><rect x="569.27" y="46.85" width="11" height="11" fill="#c8c8c8"/><rect x="596.66" y="50.54" width="11" height="11" fill="#c8c8c8"/><rect x="624.04" y="55.62" width="11" height="11" fill="#c8c8c8"/><rect x="651.43" y="62.38" width="11" height="11" fill="#c8c8c8"/><rect x="678.81" y="70.42" width="11" height="11" fill="#c8c8c8"/><rect x="706.2" y="80.36" width="11" height="11" fill="#c8c8c8"/><rect x="733.59" y="91.53" width="11" height="11" fill="#c8c8c8"/><rect x="760.97" y="103.31" width="11" height="11" fill="#c8c8c8"/>
<rect x="136.6" y="23" width="639" height="512.3" fill="none" stroke="#000" stroke-width="2.2"/>
<path d="M136.6 535.3v10M227.89 535.3v10M319.17 535.3v10M410.46 535.3v10M501.74 535.3v10M593.03 535.3v10M684.31 535.3v10M775.6 535.3v10M182.24 535.3v5M273.53 535.3v5M364.81 535.3v5M456.1 535.3v5M547.39 535.3v5M638.67 535.3v5M729.96 535.3v5M136.6 535.3h-10M136.6 432.84h-10M136.6 330.38h-10M136.6 227.92h-10M136.6 125.46h-10M136.6 23h-10M136.6 484.07h-5M136.6 381.61h-5M136.6 279.15h-5M136.6 176.69h-5M136.6 74.23h-5" stroke="#000" stroke-width="2.0" fill="none"/>
<text transform="translate(119.5 33.6) scale(1 1.03)" font-family="'Liberation Sans', Arial, sans-serif" font-size="35" text-anchor="end" >0</text>
<text transform="translate(119.5 136.06) scale(1 1.03)" font-family="'Liberation Sans', Arial, sans-serif" font-size="35" text-anchor="end" >-2</text>
<text transform="translate(119.5 238.52) scale(1 1.03)" font-family="'Liberation Sans', Arial, sans-serif" font-size="35" text-anchor="end" >-4</text>
<text transform="translate(119.5 340.98) scale(1 1.03)" font-family="'Liberation Sans', Arial, sans-serif" font-size="35" text-anchor="end" >-6</text>
<text transform="translate(119.5 443.44) scale(1 1.03)" font-family="'Liberation Sans', Arial, sans-serif" font-size="35" text-anchor="end" >-8</text>
<text transform="translate(119.5 545.9) scale(1 1.03)" font-family="'Liberation Sans', Arial, sans-serif" font-size="35" text-anchor="end" >-10</text>
<text transform="translate(136.6 579.3) scale(1 1.02)" font-family="'Liberation Sans', Arial, sans-serif" font-size="35" text-anchor="middle" >11</text>
<text transform="translate(227.89 579.3) scale(1 1.02)" font-family="'Liberation Sans', Arial, sans-serif" font-size="35" text-anchor="middle" >12</text>
<text transform="translate(319.17 579.3) scale(1 1.02)" font-family="'Liberation Sans', Arial, sans-serif" font-size="35" text-anchor="middle" >13</text>
<text transform="translate(410.46 579.3) scale(1 1.02)" font-family="'Liberation Sans', Arial, sans-serif" font-size="35" text-anchor="middle" >14</text>
<text transform="translate(501.74 579.3) scale(1 1.02)" font-family="'Liberation Sans', Arial, sans-serif" font-size="35" text-anchor="middle" >15</text>
<text transform="translate(593.03 579.3) scale(1 1.02)" font-family="'Liberation Sans', Arial, sans-serif" font-size="35" text-anchor="middle" >16</text>
<text transform="translate(684.31 579.3) scale(1 1.02)" font-family="'Liberation Sans', Arial, sans-serif" font-size="35" text-anchor="middle" >17</text>
<text transform="translate(775.6 579.3) scale(1 1.02)" font-family="'Liberation Sans', Arial, sans-serif" font-size="35" text-anchor="middle" >18</text>
<text transform="translate(457 625.3)" font-family="'Liberation Sans', Arial, sans-serif" font-size="37" text-anchor="middle" >Frequency(GHz)</text>
<text transform="translate(50.4 279) rotate(-90)" font-family="'Liberation Sans', Arial, sans-serif" font-size="36.5" text-anchor="middle">Magnitude(dB)</text>
<text transform="translate(455 682)" font-family="'Liberation Serif', 'Times New Roman', serif" font-size="33" text-anchor="middle" >(a)</text>
<rect x="540" y="321.5" width="235.6" height="213.8" fill="#fff" stroke="#222" stroke-width="1.3"/>
<path d="M545.2 351.6H631.8" stroke="#f07027" stroke-width="6.3"/>
<circle cx="588.5" cy="351.6" r="6.75" fill="#f07027"/>
<text transform="translate(642.2 365.1)" font-family="'Liberation Sans', Arial, sans-serif" font-size="39"><tspan font-family="'Liberation Serif', 'Times New Roman', serif" font-size="44">α</tspan><tspan dx="1">=20°</tspan></text>
<path d="M545.2 403.3H631.8" stroke="#2e6da4" stroke-width="6.3"/>
<path d="M588.5 395.04L596.11 408.81L580.89 408.81Z" fill="#2e6da4"/>
<text transform="translate(642.2 416.8)" font-family="'Liberation Sans', Arial, sans-serif" font-size="39"><tspan font-family="'Liberation Serif', 'Times New Roman', serif" font-size="44">α</tspan><tspan dx="1">=60°</tspan></text>
<path d="M545.2 455.4H631.8" stroke="#1f7f3b" stroke-width="6.3"/>
<rect x="583" y="449.9" width="11" height="11" fill="#1f7f3b"/>
<text transform="translate(642.2 468.9)" font-family="'Liberation Sans', Arial, sans-serif" font-size="39"><tspan font-family="'Liberation Serif', 'Times New Roman', serif" font-size="44">α</tspan><tspan dx="1">=100°</tspan></text>
<path d="M545.2 507H631.8" stroke="#c8c8c8" stroke-width="6.3"/>
<rect x="583" y="501.5" width="11" height="11" fill="#c8c8c8"/>
<text transform="translate(642.2 520.5)" font-family="'Liberation Sans', Arial, sans-serif" font-size="39"><tspan font-family="'Liberation Serif', 'Times New Roman', serif" font-size="44">α</tspan><tspan dx="1">=130°</tspan></text>
<rect x="136.6" y="23" width="639" height="512.3" fill="none" stroke="#000" stroke-width="2.2"/>
<path d="M124.3 943.98L126.12 944.99L127.94 945.99L129.77 946.98L131.59 947.96L133.41 948.93L135.23 949.89L137.05 950.83L138.88 951.77L140.7 952.7L142.52 953.61L144.34 954.51L146.16 955.39L147.99 956.26L149.81 957.11L151.63 957.96L153.45 958.81L155.27 959.65L157.1 960.5L158.92 961.36L160.74 962.23L162.56 963.12L164.38 964.03L166.21 964.94L168.03 965.86L169.85 966.78L171.67 967.69L173.49 968.59L175.32 969.47L177.14 970.33L178.96 971.16L180.78 971.96L182.6 972.73L184.43 973.49L186.25 974.22L188.07 974.95L189.89 975.68L191.71 976.41L193.54 977.15L195.36 977.91L197.18 978.68L199 979.48L200.82 980.3L202.65 981.13L204.47 981.97L206.29 982.81L208.11 983.65L209.93 984.48L211.76 985.31L213.58 986.12L215.4 986.91L217.22 987.68L219.04 988.45L220.87 989.2L222.69 989.94L224.51 990.68L226.33 991.42L228.15 992.15L229.98 992.88L231.8 993.61L233.62 994.35L235.44 995.08L237.26 995.82L239.09 996.55L240.91 997.28L242.73 998.01L244.55 998.74L246.37 999.47L248.2 1000.19L250.02 1000.92L251.84 1001.65L253.66 1002.37L255.48 1003.1L257.31 1003.82L259.13 1004.55L260.95 1005.28L262.77 1006L264.59 1006.73L266.42 1007.46L268.24 1008.19L270.06 1008.92L271.88 1009.66L273.7 1010.4L275.52 1011.14L277.35 1011.89L279.17 1012.63L280.99 1013.38L282.81 1014.13L284.63 1014.88L286.46 1015.63L288.28 1016.38L290.1 1017.13L291.92 1017.87L293.74 1018.61L295.57 1019.35L297.39 1020.08L299.21 1020.8L301.03 1021.53L302.85 1022.24L304.68 1022.95L306.5 1023.65L308.32 1024.34L310.14 1025.02L311.96 1025.7L313.79 1026.38L315.61 1027.05L317.43 1027.71L319.25 1028.37L321.07 1029.03L322.9 1029.69L324.72 1030.34L326.54 1030.99L328.36 1031.64L330.18 1032.29L332.01 1032.94L333.83 1033.6L335.65 1034.25L337.47 1034.9L339.29 1035.56L341.12 1036.22L342.94 1036.88L344.76 1037.55L346.58 1038.21L348.4 1038.87L350.23 1039.53L352.05 1040.19L353.87 1040.86L355.69 1041.52L357.51 1042.18L359.34 1042.84L361.16 1043.5L362.98 1044.17L364.8 1044.83L366.62 1045.5L368.45 1046.17L370.27 1046.84L372.09 1047.51L373.91 1048.18L375.73 1048.85L377.56 1049.53L379.38 1050.21L381.2 1050.89L383.02 1051.58L384.84 1052.28L386.67 1052.98L388.49 1053.68L390.31 1054.39L392.13 1055.1L393.95 1055.81L395.78 1056.51L397.6 1057.22L399.42 1057.93L401.24 1058.63L403.06 1059.33L404.89 1060.03L406.71 1060.72L408.53 1061.4L410.35 1062.08L412.17 1062.75L414 1063.41L415.82 1064.07L417.64 1064.71L419.46 1065.35L421.28 1065.98L423.11 1066.6L424.93 1067.21L426.75 1067.83L428.57 1068.44L430.39 1069.04L432.22 1069.64L434.04 1070.25L435.86 1070.85L437.68 1071.45L439.5 1072.05L441.33 1072.65L443.15 1073.26L444.97 1073.87L446.79 1074.49L448.61 1075.11L450.44 1075.73L452.26 1076.37L454.08 1077L455.9 1077.64L457.72 1078.28L459.55 1078.92L461.37 1079.56L463.19 1080.21L465.01 1080.86L466.83 1081.51L468.66 1082.16L470.48 1082.81L472.3 1083.46L474.12 1084.11L475.94 1084.76L477.77 1085.42L479.59 1086.07L481.41 1086.72L483.23 1087.37L485.05 1088.02L486.88 1088.66L488.7 1089.31L490.52 1089.96L492.34 1090.6L494.16 1091.25L495.99 1091.9L497.81 1092.54L499.63 1093.19L501.45 1093.84L503.27 1094.49L505.1 1095.13L506.92 1095.78L508.74 1096.43L510.56 1097.07L512.38 1097.72L514.21 1098.36L516.03 1099.01L517.85 1099.65L519.67 1100.3L521.49 1100.94L523.32 1101.58L525.14 1102.23L526.96 1102.87L528.78 1103.51L530.6 1104.16L532.43 1104.8L534.25 1105.44L536.07 1106.08L537.89 1106.73L539.71 1107.37L541.54 1108.01L543.36 1108.65L545.18 1109.29L547 1109.93L548.82 1110.57L550.65 1111.2L552.47 1111.84L554.29 1112.47L556.11 1113.11L557.93 1113.74L559.76 1114.37L561.58 1114.99L563.4 1115.61L565.22 1116.23L567.04 1116.85L568.87 1117.47L570.69 1118.08L572.51 1118.69L574.33 1119.31L576.15 1119.92L577.97 1120.53L579.8 1121.14L581.62 1121.75L583.44 1122.37L585.26 1122.99L587.08 1123.6L588.91 1124.23L590.73 1124.85L592.55 1125.48L594.37 1126.11L596.19 1126.74L598.02 1127.38L599.84 1128.03L601.66 1128.68L603.48 1129.34L605.3 1130L607.13 1130.67L608.95 1131.33L610.77 1132L612.59 1132.68L614.41 1133.35L616.24 1134.02L618.06 1134.69L619.88 1135.36L621.7 1136.02L623.52 1136.68L625.35 1137.34L627.17 1137.99L628.99 1138.64L630.81 1139.28L632.63 1139.91L634.46 1140.53L636.28 1141.15L638.1 1141.75L639.92 1142.35L641.74 1142.95L643.57 1143.54L645.39 1144.12L647.21 1144.71L649.03 1145.29L650.85 1145.87L652.68 1146.46L654.5 1147.04L656.32 1147.63L658.14 1148.22L659.96 1148.81L661.79 1149.41L663.61 1150.02L665.43 1150.64L667.25 1151.26L669.07 1151.9L670.9 1152.54L672.72 1153.19L674.54 1153.84L676.36 1154.5L678.18 1155.16L680.01 1155.83L681.83 1156.51L683.65 1157.19L685.47 1157.87L687.29 1158.56L689.12 1159.25L690.94 1159.95L692.76 1160.65L694.58 1161.36L696.4 1162.07L698.23 1162.78L700.05 1163.5L701.87 1164.23L703.69 1164.96L705.51 1165.69L705.51 883.23L707.35 883.92L709.18 884.6L711.01 885.29L712.85 885.98L714.68 886.68L716.51 887.37L718.34 888.07L720.18 888.78L722.01 889.48L723.84 890.19L725.68 890.92L727.51 891.68L729.34 892.44L731.17 893.21L733.01 893.96L734.84 894.7L736.67 895.41L738.51 896.08L740.34 896.7L742.17 897.29L744 897.86L745.84 898.41L747.67 898.95L749.5 899.47L751.34 899.98L753.17 900.46L755 900.92L756.83 901.35L758.67 901.76L760.5 902.15" fill="none" stroke="#f07027" stroke-width="6" stroke-linejoin="round" stroke-linecap="butt"/>
<circle cx="124.3" cy="943.98" r="6.5" fill="#f07027"/><circle cx="142.48" cy="953.59" r="6.5" fill="#f07027"/><circle cx="160.65" cy="962.19" r="6.5" fill="#f07027"/><circle cx="178.83" cy="971.1" r="6.5" fill="#f07027"/><circle cx="197.01" cy="978.61" r="6.5" fill="#f07027"/><circle cx="215.19" cy="986.82" r="6.5" fill="#f07027"/><circle cx="233.36" cy="994.24" r="6.5" fill="#f07027"/><circle cx="251.54" cy="1001.53" r="6.5" fill="#f07027"/><circle cx="269.72" cy="1008.79" r="6.5" fill="#f07027"/><circle cx="287.89" cy="1016.22" r="6.5" fill="#f07027"/><circle cx="306.07" cy="1023.48" r="6.5" fill="#f07027"/><circle cx="324.25" cy="1030.17" r="6.5" fill="#f07027"/><circle cx="342.43" cy="1036.7" r="6.5" fill="#f07027"/><circle cx="360.6" cy="1043.3" r="6.5" fill="#f07027"/><circle cx="378.78" cy="1049.99" r="6.5" fill="#f07027"/><circle cx="396.96" cy="1056.97" r="6.5" fill="#f07027"/><circle cx="415.13" cy="1063.82" r="6.5" fill="#f07027"/><circle cx="433.31" cy="1070.01" r="6.5" fill="#f07027"/><circle cx="451.49" cy="1076.1" r="6.5" fill="#f07027"/><circle cx="469.67" cy="1082.52" r="6.5" fill="#f07027"/><circle cx="487.84" cy="1089.01" r="6.5" fill="#f07027"/><circle cx="506.02" cy="1095.46" r="6.5" fill="#f07027"/><circle cx="524.2" cy="1101.9" r="6.5" fill="#f07027"/><circle cx="542.37" cy="1108.31" r="6.5" fill="#f07027"/><circle cx="560.55" cy="1114.64" r="6.5" fill="#f07027"/><circle cx="578.73" cy="1120.78" r="6.5" fill="#f07027"/><circle cx="596.91" cy="1126.99" r="6.5" fill="#f07027"/><circle cx="615.08" cy="1133.59" r="6.5" fill="#f07027"/><circle cx="633.26" cy="1140.12" r="6.5" fill="#f07027"/><circle cx="651.44" cy="1146.06" r="6.5" fill="#f07027"/><circle cx="669.61" cy="1152.09" r="6.5" fill="#f07027"/><circle cx="687.79" cy="1158.75" r="6.5" fill="#f07027"/><circle cx="705.97" cy="1165.87" r="6.5" fill="#f07027"/><circle cx="724.15" cy="890.31" r="6.5" fill="#f07027"/><circle cx="742.32" cy="897.33" r="6.5" fill="#f07027"/><circle cx="760.5" cy="902.15" r="6.5" fill="#f07027"/>
<path d="M124.3 997.29L126.12 997.98L127.94 998.66L129.76 999.34L131.58 1000.02L133.41 1000.71L135.23 1001.39L137.05 1002.06L138.87 1002.74L140.69 1003.42L142.51 1004.1L144.33 1004.78L146.15 1005.45L147.98 1006.13L149.8 1006.8L151.62 1007.48L153.44 1008.15L155.26 1008.82L157.08 1009.48L158.9 1010.14L160.72 1010.8L162.55 1011.46L164.37 1012.13L166.19 1012.79L168.01 1013.45L169.83 1014.12L171.65 1014.78L173.47 1015.46L175.29 1016.13L177.12 1016.82L178.94 1017.5L180.76 1018.2L182.58 1018.9L184.4 1019.6L186.22 1020.31L188.04 1021.03L189.86 1021.74L191.69 1022.46L193.51 1023.19L195.33 1023.91L197.15 1024.63L198.97 1025.36L200.79 1026.08L202.61 1026.8L204.43 1027.52L206.26 1028.24L208.08 1028.95L209.9 1029.67L211.72 1030.39L213.54 1031.11L215.36 1031.83L217.18 1032.55L219 1033.27L220.82 1033.99L222.65 1034.71L224.47 1035.43L226.29 1036.14L228.11 1036.85L229.93 1037.56L231.75 1038.26L233.57 1038.96L235.39 1039.66L237.22 1040.36L239.04 1041.05L240.86 1041.74L242.68 1042.43L244.5 1043.12L246.32 1043.8L248.14 1044.48L249.96 1045.16L251.79 1045.84L253.61 1046.52L255.43 1047.2L257.25 1047.87L259.07 1048.55L260.89 1049.22L262.71 1049.9L264.53 1050.57L266.36 1051.24L268.18 1051.91L270 1052.58L271.82 1053.24L273.64 1053.91L275.46 1054.57L277.28 1055.23L279.1 1055.89L280.93 1056.55L282.75 1057.21L284.57 1057.86L286.39 1058.52L288.21 1059.17L290.03 1059.81L291.85 1060.45L293.67 1061.09L295.49 1061.73L297.32 1062.36L299.14 1062.99L300.96 1063.62L302.78 1064.25L304.6 1064.88L306.42 1065.51L308.24 1066.15L310.06 1066.79L311.89 1067.43L313.71 1068.07L315.53 1068.72L317.35 1069.38L319.17 1070.04L320.99 1070.71L322.81 1071.37L324.63 1072.05L326.46 1072.72L328.28 1073.39L330.1 1074.07L331.92 1074.74L333.74 1075.42L335.56 1076.09L337.38 1076.76L339.2 1077.43L341.03 1078.09L342.85 1078.75L344.67 1079.41L346.49 1080.06L348.31 1080.72L350.13 1081.37L351.95 1082.02L353.77 1082.68L355.6 1083.32L357.42 1083.97L359.24 1084.62L361.06 1085.26L362.88 1085.91L364.7 1086.55L366.52 1087.19L368.34 1087.82L370.17 1088.46L371.99 1089.09L373.81 1089.72L375.63 1090.35L377.45 1090.97L379.27 1091.6L381.09 1092.22L382.91 1092.84L384.73 1093.46L386.56 1094.08L388.38 1094.69L390.2 1095.31L392.02 1095.93L393.84 1096.54L395.66 1097.16L397.48 1097.77L399.3 1098.39L401.13 1099L402.95 1099.61L404.77 1100.21L406.59 1100.82L408.41 1101.42L410.23 1102.03L412.05 1102.63L413.87 1103.24L415.7 1103.85L417.52 1104.46L419.34 1105.07L421.16 1105.69L422.98 1106.31L424.8 1106.94L426.62 1107.57L428.44 1108.21L430.27 1108.84L432.09 1109.48L433.91 1110.12L435.73 1110.76L437.55 1111.41L439.37 1112.06L441.19 1112.71L443.01 1113.36L444.84 1114.02L446.66 1114.68L448.48 1115.34L450.3 1116L452.12 1116.67L453.94 1117.35L455.76 1118.03L457.58 1118.73L459.41 1119.43L461.23 1120.13L463.05 1120.84L464.87 1121.55L466.69 1122.25L468.51 1122.95L470.33 1123.65L472.15 1124.34L473.97 1125.02L475.8 1125.69L477.62 1126.35L479.44 1127L481.26 1127.63L483.08 1128.25L484.9 1128.86L486.72 1129.47L488.54 1130.06L490.37 1130.66L492.19 1131.24L494.01 1131.83L495.83 1132.42L497.65 1133L499.47 1133.59L501.29 1134.19L503.11 1134.78L504.94 1135.38L506.76 1135.99L508.58 1136.61L510.4 1137.23L512.22 1137.85L514.04 1138.47L515.86 1139.1L517.68 1139.73L519.51 1140.35L521.33 1140.98L523.15 1141.61L524.97 1142.23L526.79 1142.85L528.61 1143.47L530.43 1144.09L532.25 1144.7L534.08 1145.31L535.9 1145.92L537.72 1146.54L539.54 1147.15L541.36 1147.76L543.18 1148.37L545 1148.98L546.82 1149.59L548.65 1150.19L550.47 1150.79L552.29 1151.38L554.11 1151.96L555.93 1152.54L557.75 1153.11L559.57 1153.67L561.39 1154.21L563.21 1154.74L565.04 1155.26L566.86 1155.76L568.68 1156.26L570.5 1156.75L572.32 1157.23L574.14 1157.71L575.96 1158.2L577.78 1158.68L579.61 1159.18L581.43 1159.68L583.25 1160.19L585.07 1160.72L586.89 1161.26L588.71 1161.83L590.53 1162.41L592.35 1163.03L594.18 1163.65L596 1164.28L596 883.23L597.82 883.8L599.65 884.38L601.48 884.95L603.31 885.51L605.14 886.08L606.96 886.64L608.79 887.2L610.62 887.75L612.45 888.3L614.27 888.85L616.1 889.39L617.93 889.93L619.76 890.47L621.59 891L623.41 891.53L625.24 892.06L627.07 892.59L628.9 893.12L630.73 893.64L632.55 894.17L634.38 894.7L636.21 895.23L638.04 895.76L639.86 896.29L641.69 896.83L643.52 897.37L645.35 897.9L647.18 898.44L649 898.97L650.83 899.51L652.66 900.04L654.49 900.58L656.31 901.12L658.14 901.66L659.97 902.2L661.8 902.76L663.63 903.31L665.45 903.87L667.28 904.44L669.11 905.01L670.94 905.6L672.76 906.2L674.59 906.81L676.42 907.42L678.25 908.04L680.08 908.67L681.9 909.3L683.73 909.93L685.56 910.56L687.39 911.18L689.22 911.81L691.04 912.42L692.87 913.03L694.7 913.63L696.53 914.21L698.35 914.79L700.18 915.37L702.01 915.94L703.84 916.51L705.67 917.08L707.49 917.64L709.32 918.2L711.15 918.75L712.98 919.3L714.8 919.85L716.63 920.39L718.46 920.93L720.29 921.47L722.12 922L723.94 922.52L725.77 923.03L727.6 923.53L729.43 924.02L731.25 924.5L733.08 924.97L734.91 925.44L736.74 925.91L738.57 926.39L740.39 926.87L742.22 927.35L744.05 927.85L745.88 928.37L747.71 928.9L749.53 929.45L751.36 930.02L753.19 930.63L755.02 931.26L756.84 931.92L758.67 932.59L760.5 933.27" fill="none" stroke="#2e6da4" stroke-width="6" stroke-linejoin="round" stroke-linecap="butt"/>
<path d="M124.3 989.88L131.12 1002.23L117.47 1002.23Z" fill="#2e6da4"/><path d="M151.57 1000.05L158.39 1012.4L144.74 1012.4Z" fill="#2e6da4"/><path d="M178.83 1010.05L185.66 1022.4L172.01 1022.4Z" fill="#2e6da4"/><path d="M206.1 1020.76L212.92 1033.11L199.27 1033.11Z" fill="#2e6da4"/><path d="M233.36 1031.47L240.19 1043.82L226.54 1043.82Z" fill="#2e6da4"/><path d="M260.63 1041.72L267.45 1054.07L253.8 1054.07Z" fill="#2e6da4"/><path d="M287.89 1051.64L294.72 1063.99L281.07 1063.99Z" fill="#2e6da4"/><path d="M315.16 1061.18L321.98 1073.53L308.33 1073.53Z" fill="#2e6da4"/><path d="M342.43 1071.19L349.25 1083.54L335.6 1083.54Z" fill="#2e6da4"/><path d="M369.69 1080.88L376.52 1093.23L362.87 1093.23Z" fill="#2e6da4"/><path d="M396.96 1090.19L403.78 1102.54L390.13 1102.54Z" fill="#2e6da4"/><path d="M424.22 1099.33L431.05 1111.68L417.4 1111.68Z" fill="#2e6da4"/><path d="M451.49 1109.03L458.31 1121.38L444.66 1121.38Z" fill="#2e6da4"/><path d="M478.75 1119.35L485.58 1131.7L471.93 1131.7Z" fill="#2e6da4"/><path d="M506.02 1128.34L512.85 1140.69L499.19 1140.69Z" fill="#2e6da4"/><path d="M533.29 1137.64L540.11 1149.99L526.46 1149.99Z" fill="#2e6da4"/><path d="M560.55 1146.55L567.38 1158.9L553.73 1158.9Z" fill="#2e6da4"/><path d="M587.82 1154.14L594.64 1166.49L580.99 1166.49Z" fill="#2e6da4"/><path d="M615.08 881.68L621.91 894.03L608.26 894.03Z" fill="#2e6da4"/><path d="M642.35 889.61L649.17 901.96L635.52 901.96Z" fill="#2e6da4"/><path d="M669.61 897.77L676.44 910.12L662.79 910.12Z" fill="#2e6da4"/><path d="M696.88 906.91L703.71 919.26L690.06 919.26Z" fill="#2e6da4"/><path d="M724.15 915.17L730.97 927.52L717.32 927.52Z" fill="#2e6da4"/><path d="M751.41 922.63L758.24 934.98L744.59 934.98Z" fill="#2e6da4"/>
<path d="M124.3 1050.53L126.12 1051.33L127.95 1052.12L129.77 1052.92L131.59 1053.71L133.42 1054.5L135.24 1055.29L137.06 1056.07L138.89 1056.86L140.71 1057.64L142.53 1058.42L144.36 1059.2L146.18 1059.97L148 1060.75L149.83 1061.52L151.65 1062.3L153.47 1063.06L155.3 1063.83L157.12 1064.59L158.94 1065.35L160.77 1066.11L162.59 1066.86L164.41 1067.62L166.24 1068.37L168.06 1069.12L169.88 1069.88L171.71 1070.63L173.53 1071.39L175.35 1072.14L177.18 1072.9L179 1073.67L180.82 1074.43L182.65 1075.2L184.47 1075.97L186.29 1076.74L188.12 1077.52L189.94 1078.29L191.76 1079.07L193.59 1079.84L195.41 1080.62L197.23 1081.39L199.06 1082.16L200.88 1082.92L202.7 1083.68L204.53 1084.44L206.35 1085.19L208.17 1085.94L210 1086.68L211.82 1087.43L213.64 1088.17L215.47 1088.9L217.29 1089.64L219.11 1090.37L220.94 1091.1L222.76 1091.83L224.58 1092.56L226.41 1093.28L228.23 1094L230.05 1094.73L231.88 1095.45L233.7 1096.17L235.52 1096.88L237.35 1097.6L239.17 1098.31L240.99 1099.02L242.82 1099.73L244.64 1100.43L246.47 1101.14L248.29 1101.84L250.11 1102.54L251.94 1103.25L253.76 1103.95L255.58 1104.65L257.41 1105.35L259.23 1106.05L261.05 1106.75L262.88 1107.45L264.7 1108.15L266.52 1108.85L268.35 1109.55L270.17 1110.25L271.99 1110.95L273.82 1111.65L275.64 1112.35L277.46 1113.04L279.29 1113.74L281.11 1114.43L282.93 1115.12L284.76 1115.81L286.58 1116.49L288.4 1117.17L290.23 1117.85L292.05 1118.53L293.87 1119.2L295.7 1119.87L297.52 1120.53L299.34 1121.2L301.17 1121.86L302.99 1122.52L304.81 1123.19L306.64 1123.85L308.46 1124.52L310.28 1125.19L312.11 1125.86L313.93 1126.53L315.75 1127.21L317.58 1127.9L319.4 1128.58L321.22 1129.27L323.05 1129.97L324.87 1130.66L326.69 1131.36L328.52 1132.05L330.34 1132.75L332.16 1133.45L333.99 1134.14L335.81 1134.83L337.63 1135.52L339.46 1136.21L341.28 1136.89L343.1 1137.56L344.93 1138.23L346.75 1138.89L348.57 1139.55L350.4 1140.21L352.22 1140.86L354.04 1141.52L355.87 1142.17L357.69 1142.82L359.51 1143.47L361.34 1144.12L363.16 1144.78L364.98 1145.44L366.81 1146.1L368.63 1146.77L370.45 1147.44L372.28 1148.12L374.1 1148.81L375.92 1149.5L377.75 1150.2L379.57 1150.89L381.39 1151.59L383.22 1152.29L385.04 1152.99L386.86 1153.69L388.69 1154.38L390.51 1155.08L392.33 1155.76L394.16 1156.45L395.98 1157.12L397.8 1157.79L399.63 1158.45L401.45 1159.11L403.27 1159.77L405.1 1160.42L406.92 1161.07L408.74 1161.72L410.57 1162.36L412.39 1163L414.21 1163.64L416.04 1164.28L417.86 1164.91L417.86 884.01L419.68 884.56L421.51 885.11L423.33 885.68L425.15 886.27L426.97 886.88L428.8 887.5L430.62 888.13L432.44 888.78L434.26 889.43L436.09 890.08L437.91 890.75L439.73 891.41L441.55 892.08L443.38 892.75L445.2 893.41L447.02 894.07L448.84 894.73L450.67 895.38L452.49 896.03L454.31 896.67L456.13 897.32L457.96 897.96L459.78 898.61L461.6 899.25L463.42 899.9L465.25 900.54L467.07 901.19L468.89 901.83L470.71 902.47L472.54 903.11L474.36 903.75L476.18 904.39L478 905.02L479.83 905.65L481.65 906.28L483.47 906.9L485.3 907.52L487.12 908.14L488.94 908.75L490.76 909.37L492.59 909.99L494.41 910.6L496.23 911.23L498.05 911.86L499.88 912.49L501.7 913.13L503.52 913.77L505.34 914.43L507.17 915.1L508.99 915.78L510.81 916.47L512.63 917.16L514.46 917.87L516.28 918.57L518.1 919.28L519.92 920L521.75 920.71L523.57 921.41L525.39 922.12L527.21 922.82L529.04 923.51L530.86 924.19L532.68 924.86L534.5 925.52L536.33 926.17L538.15 926.82L539.97 927.46L541.79 928.1L543.62 928.74L545.44 929.37L547.26 930L549.08 930.63L550.91 931.26L552.73 931.89L554.55 932.52L556.37 933.15L558.2 933.78L560.02 934.41L561.84 935.05L563.66 935.68L565.49 936.32L567.31 936.95L569.13 937.59L570.95 938.22L572.78 938.86L574.6 939.49L576.42 940.12L578.25 940.76L580.07 941.39L581.89 942.02L583.71 942.64L585.54 943.27L587.36 943.9L589.18 944.52L591 945.14L592.83 945.75L594.65 946.37L596.47 946.98L598.29 947.6L600.12 948.21L601.94 948.82L603.76 949.44L605.58 950.05L607.41 950.67L609.23 951.28L611.05 951.9L612.87 952.52L614.7 953.15L616.52 953.77L618.34 954.4L620.16 955.02L621.99 955.65L623.81 956.28L625.63 956.91L627.45 957.54L629.28 958.17L631.1 958.8L632.92 959.43L634.74 960.07L636.57 960.71L638.39 961.35L640.21 961.99L642.03 962.64L643.86 963.29L645.68 963.94L647.5 964.6L649.32 965.26L651.15 965.92L652.97 966.58L654.79 967.25L656.61 967.91L658.44 968.58L660.26 969.24L662.08 969.9L663.9 970.56L665.73 971.22L667.55 971.87L669.37 972.51L671.2 973.15L673.02 973.79L674.84 974.43L676.66 975.06L678.49 975.69L680.31 976.32L682.13 976.95L683.95 977.58L685.78 978.21L687.6 978.84L689.42 979.47L691.24 980.1L693.07 980.73L694.89 981.36L696.71 981.99L698.53 982.63L700.36 983.27L702.18 983.91L704 984.56L705.82 985.2L707.65 985.85L709.47 986.49L711.29 987.13L713.11 987.78L714.94 988.41L716.76 989.05L718.58 989.68L720.4 990.31L722.23 990.93L724.05 991.55L725.87 992.15L727.69 992.75L729.52 993.33L731.34 993.91L733.16 994.49L734.98 995.06L736.81 995.63L738.63 996.21L740.45 996.79L742.27 997.38L744.1 997.97L745.92 998.58L747.74 999.2L749.56 999.84L751.39 1000.49L753.21 1001.17L755.03 1001.88L756.85 1002.6L758.68 1003.35L760.5 1004.09" fill="none" stroke="#1f7f3b" stroke-width="6" stroke-linejoin="round" stroke-linecap="butt"/>
<rect x="119.05" y="1045.28" width="10.5" height="10.5" fill="#1f7f3b"/><rect x="146.32" y="1057.01" width="10.5" height="10.5" fill="#1f7f3b"/><rect x="173.58" y="1068.35" width="10.5" height="10.5" fill="#1f7f3b"/><rect x="200.85" y="1079.84" width="10.5" height="10.5" fill="#1f7f3b"/><rect x="228.11" y="1090.78" width="10.5" height="10.5" fill="#1f7f3b"/><rect x="255.38" y="1101.34" width="10.5" height="10.5" fill="#1f7f3b"/><rect x="282.64" y="1111.73" width="10.5" height="10.5" fill="#1f7f3b"/><rect x="309.91" y="1121.74" width="10.5" height="10.5" fill="#1f7f3b"/><rect x="337.18" y="1132.06" width="10.5" height="10.5" fill="#1f7f3b"/><rect x="364.44" y="1141.91" width="10.5" height="10.5" fill="#1f7f3b"/><rect x="391.71" y="1152.23" width="10.5" height="10.5" fill="#1f7f3b"/><rect x="418.97" y="880.72" width="10.5" height="10.5" fill="#1f7f3b"/><rect x="446.24" y="890.42" width="10.5" height="10.5" fill="#1f7f3b"/><rect x="473.5" y="900.03" width="10.5" height="10.5" fill="#1f7f3b"/><rect x="500.77" y="909.43" width="10.5" height="10.5" fill="#1f7f3b"/><rect x="528.04" y="919.83" width="10.5" height="10.5" fill="#1f7f3b"/><rect x="555.3" y="929.35" width="10.5" height="10.5" fill="#1f7f3b"/><rect x="582.57" y="938.8" width="10.5" height="10.5" fill="#1f7f3b"/><rect x="609.83" y="948.03" width="10.5" height="10.5" fill="#1f7f3b"/><rect x="637.1" y="957.5" width="10.5" height="10.5" fill="#1f7f3b"/><rect x="664.36" y="967.35" width="10.5" height="10.5" fill="#1f7f3b"/><rect x="691.63" y="976.8" width="10.5" height="10.5" fill="#1f7f3b"/><rect x="718.9" y="986.33" width="10.5" height="10.5" fill="#1f7f3b"/><rect x="746.16" y="995.25" width="10.5" height="10.5" fill="#1f7f3b"/>
<path d="M124.3 1106.43L126.13 1107.29L127.96 1108.15L129.78 1108.99L131.61 1109.84L133.44 1110.67L135.27 1111.5L137.09 1112.32L138.92 1113.13L140.75 1113.94L142.58 1114.73L144.4 1115.52L146.23 1116.31L148.06 1117.08L149.89 1117.85L151.72 1118.61L153.54 1119.36L155.37 1120.1L157.2 1120.82L159.03 1121.54L160.85 1122.25L162.68 1122.95L164.51 1123.65L166.34 1124.35L168.16 1125.04L169.99 1125.73L171.82 1126.42L173.65 1127.12L175.48 1127.81L177.3 1128.51L179.13 1129.22L180.96 1129.92L182.79 1130.63L184.61 1131.34L186.44 1132.05L188.27 1132.75L190.1 1133.46L191.92 1134.17L193.75 1134.88L195.58 1135.58L197.41 1136.29L199.24 1137L201.06 1137.71L202.89 1138.41L204.72 1139.12L206.55 1139.83L208.37 1140.54L210.2 1141.25L212.03 1141.97L213.86 1142.68L215.69 1143.4L217.51 1144.12L219.34 1144.83L221.17 1145.54L223 1146.26L224.82 1146.96L226.65 1147.67L228.48 1148.37L230.31 1149.06L232.13 1149.75L233.96 1150.43L235.79 1151.1L237.62 1151.77L239.45 1152.43L241.27 1153.08L243.1 1153.72L244.93 1154.37L246.76 1155.01L248.58 1155.65L250.41 1156.3L252.24 1156.94L254.07 1157.59L255.89 1158.25L257.72 1158.91L259.55 1159.58L261.38 1160.26L263.21 1160.94L265.03 1161.62L266.86 1162.31L268.69 1163L270.52 1163.69L272.34 1164.38L274.17 1165.08L276 1165.79L277.83 1166.5L279.65 1167.21L281.48 1167.94L283.31 1168.67L285.14 1169.41L286.97 1170.15L288.79 1170.91L290.62 1171.71L292.44 890.27L294.26 890.85L296.08 891.45L297.9 892.04L299.72 892.65L301.55 893.26L303.37 893.88L305.19 894.5L307.01 895.13L308.83 895.76L310.65 896.41L312.47 897.06L314.29 897.71L316.12 898.38L317.94 899.05L319.76 899.74L321.58 900.44L323.4 901.14L325.22 901.85L327.04 902.57L328.86 903.28L330.69 904L332.51 904.72L334.33 905.44L336.15 906.16L337.97 906.88L339.79 907.58L341.61 908.29L343.44 908.98L345.26 909.68L347.08 910.37L348.9 911.06L350.72 911.75L352.54 912.44L354.36 913.13L356.18 913.82L358.01 914.51L359.83 915.2L361.65 915.89L363.47 916.58L365.29 917.27L367.11 917.97L368.93 918.67L370.76 919.37L372.58 920.08L374.4 920.79L376.22 921.51L378.04 922.23L379.86 922.96L381.68 923.68L383.5 924.4L385.33 925.12L387.15 925.84L388.97 926.55L390.79 927.26L392.61 927.96L394.43 928.65L396.25 929.33L398.08 930L399.9 930.66L401.72 931.32L403.54 931.96L405.36 932.6L407.18 933.23L409 933.86L410.82 934.49L412.65 935.12L414.47 935.74L416.29 936.37L418.11 937L419.93 937.63L421.75 938.26L423.57 938.9L425.39 939.54L427.22 940.19L429.04 940.83L430.86 941.47L432.68 942.12L434.5 942.76L436.32 943.41L438.14 944.06L439.97 944.71L441.79 945.36L443.61 946.01L445.43 946.67L447.25 947.34L449.07 948.01L450.89 948.68L452.71 949.36L454.54 950.05L456.36 950.75L458.18 951.46L460 952.18L461.82 952.9L463.64 953.62L465.46 954.34L467.29 955.06L469.11 955.78L470.93 956.49L472.75 957.2L474.57 957.9L476.39 958.58L478.21 959.26L480.03 959.92L481.86 960.56L483.68 961.2L485.5 961.82L487.32 962.44L489.14 963.05L490.96 963.66L492.78 964.27L494.61 964.88L496.43 965.49L498.25 966.1L500.07 966.73L501.89 967.36L503.71 968L505.53 968.66L507.35 969.33L509.18 970.01L511 970.7L512.82 971.41L514.64 972.12L516.46 972.83L518.28 973.55L520.1 974.28L521.92 975.01L523.75 975.74L525.57 976.47L527.39 977.2L529.21 977.93L531.03 978.66L532.85 979.38L534.67 980.09L536.5 980.82L538.32 981.54L540.14 982.26L541.96 982.99L543.78 983.71L545.6 984.44L547.42 985.16L549.24 985.88L551.07 986.6L552.89 987.32L554.71 988.03L556.53 988.74L558.35 989.45L560.17 990.15L561.99 990.84L563.82 991.54L565.64 992.23L567.46 992.92L569.28 993.61L571.1 994.3L572.92 994.98L574.74 995.66L576.56 996.34L578.39 997.01L580.21 997.68L582.03 998.35L583.85 999.01L585.67 999.66L587.49 1000.32L589.31 1000.96L591.14 1001.6L592.96 1002.23L594.78 1002.86L596.6 1003.49L598.42 1004.11L600.24 1004.73L602.06 1005.35L603.88 1005.97L605.71 1006.58L607.53 1007.2L609.35 1007.82L611.17 1008.45L612.99 1009.08L614.81 1009.71L616.63 1010.34L618.46 1010.97L620.28 1011.61L622.1 1012.24L623.92 1012.87L625.74 1013.5L627.56 1014.13L629.38 1014.77L631.2 1015.41L633.03 1016.05L634.85 1016.7L636.67 1017.36L638.49 1018.02L640.31 1018.69L642.13 1019.36L643.95 1020.05L645.77 1020.75L647.6 1021.46L649.42 1022.17L651.24 1022.89L653.06 1023.62L654.88 1024.35L656.7 1025.08L658.52 1025.81L660.35 1026.54L662.17 1027.26L663.99 1027.98L665.81 1028.7L667.63 1029.4L669.45 1030.1L671.27 1030.79L673.09 1031.48L674.92 1032.17L676.74 1032.85L678.56 1033.53L680.38 1034.2L682.2 1034.88L684.02 1035.55L685.84 1036.23L687.67 1036.9L689.49 1037.57L691.31 1038.25L693.13 1038.92L694.95 1039.6L696.77 1040.28L698.59 1040.96L700.41 1041.64L702.24 1042.33L704.06 1043.02L705.88 1043.71L707.7 1044.4L709.52 1045.08L711.34 1045.77L713.16 1046.45L714.99 1047.13L716.81 1047.81L718.63 1048.48L720.45 1049.14L722.27 1049.8L724.09 1050.45L725.91 1051.09L727.73 1051.73L729.56 1052.37L731.38 1053.01L733.2 1053.64L735.02 1054.27L736.84 1054.89L738.66 1055.52L740.48 1056.13L742.3 1056.75L744.13 1057.36L745.95 1057.96L747.77 1058.56L749.59 1059.16L751.41 1059.76" fill="none" stroke="#c8c8c8" stroke-width="6" stroke-linejoin="round" stroke-linecap="butt"/>
<path d="M124.3 1112.98L130.34 1102.06L118.26 1102.06Z" fill="#c8c8c8"/><path d="M151.57 1125.1L157.6 1114.18L145.53 1114.18Z" fill="#c8c8c8"/><path d="M178.83 1135.66L184.87 1124.73L172.79 1124.73Z" fill="#c8c8c8"/><path d="M206.1 1146.21L212.13 1135.29L200.06 1135.29Z" fill="#c8c8c8"/><path d="M233.36 1156.76L239.4 1145.84L227.33 1145.84Z" fill="#c8c8c8"/><path d="M260.63 1166.54L266.67 1155.61L254.59 1155.61Z" fill="#c8c8c8"/><path d="M287.89 1177.09L293.93 1166.17L281.86 1166.17Z" fill="#c8c8c8"/><path d="M315.16 904.58L321.2 893.65L309.12 893.65Z" fill="#c8c8c8"/><path d="M342.43 915.15L348.46 904.23L336.39 904.23Z" fill="#c8c8c8"/><path d="M369.69 925.51L375.73 914.59L363.65 914.59Z" fill="#c8c8c8"/><path d="M396.96 936.15L402.99 925.22L390.92 925.22Z" fill="#c8c8c8"/><path d="M424.22 945.68L430.26 934.76L418.19 934.76Z" fill="#c8c8c8"/><path d="M451.49 955.46L457.53 944.53L445.45 944.53Z" fill="#c8c8c8"/><path d="M478.75 966.01L484.79 955.09L472.72 955.09Z" fill="#c8c8c8"/><path d="M506.02 975.39L512.06 964.47L499.98 964.47Z" fill="#c8c8c8"/><path d="M533.29 986.1L539.32 975.18L527.25 975.18Z" fill="#c8c8c8"/><path d="M560.55 996.85L566.59 985.92L554.51 985.92Z" fill="#c8c8c8"/><path d="M587.82 1006.99L593.85 996.06L581.78 996.06Z" fill="#c8c8c8"/><path d="M615.08 1016.36L621.12 1005.44L609.05 1005.44Z" fill="#c8c8c8"/><path d="M642.35 1026L648.39 1015.07L636.31 1015.07Z" fill="#c8c8c8"/><path d="M669.61 1036.72L675.65 1025.79L663.58 1025.79Z" fill="#c8c8c8"/><path d="M696.88 1046.87L702.92 1035.95L690.84 1035.95Z" fill="#c8c8c8"/><path d="M724.15 1057.02L730.18 1046.1L718.11 1046.1Z" fill="#c8c8c8"/><path d="M751.41 1066.31L757.45 1055.39L745.37 1055.39Z" fill="#c8c8c8"/>
<rect x="124.3" y="790.2" width="636.2" height="516.6" fill="none" stroke="#000" stroke-width="2.2"/>
<path d="M124.3 1306.8v10.5M215.19 1306.8v10.5M306.07 1306.8v10.5M396.96 1306.8v10.5M487.84 1306.8v10.5M578.73 1306.8v10.5M669.61 1306.8v10.5M169.74 1306.8v5.5M260.63 1306.8v5.5M351.51 1306.8v5.5M442.4 1306.8v5.5M533.29 1306.8v5.5M624.17 1306.8v5.5M715.06 1306.8v5.5M124.3 1259.27h-10.5M124.3 1181.09h-10.5M124.3 1102.91h-10.5M124.3 1024.73h-10.5M124.3 946.56h-10.5M124.3 868.38h-10.5M124.3 790.2h-10.5M124.3 1298.36h-5.5M124.3 1220.18h-5.5M124.3 1142h-5.5M124.3 1063.82h-5.5M124.3 985.64h-5.5M124.3 907.47h-5.5M124.3 829.29h-5.5" stroke="#000" stroke-width="2.0" fill="none"/>
<text transform="translate(116.6 1269.87) scale(1 1.055)" font-family="'Liberation Sans', Arial, sans-serif" font-size="34" text-anchor="end" >-300</text>
<text transform="translate(116.6 1191.69) scale(1 1.055)" font-family="'Liberation Sans', Arial, sans-serif" font-size="34" text-anchor="end" >-200</text>
<text transform="translate(116.6 1113.51) scale(1 1.055)" font-family="'Liberation Sans', Arial, sans-serif" font-size="34" text-anchor="end" >-100</text>
<text transform="translate(116.6 1035.33) scale(1 1.055)" font-family="'Liberation Sans', Arial, sans-serif" font-size="34" text-anchor="end" >0</text>
<text transform="translate(116.6 957.16) scale(1 1.055)" font-family="'Liberation Sans', Arial, sans-serif" font-size="34" text-anchor="end" >100</text>
<text transform="translate(116.6 878.98) scale(1 1.055)" font-family="'Liberation Sans', Arial, sans-serif" font-size="34" text-anchor="end" >200</text>
<text transform="translate(116.6 800.8) scale(1 1.055)" font-family="'Liberation Sans', Arial, sans-serif" font-size="34" text-anchor="end" >300</text>
<text transform="translate(132.8 1351.9) scale(1 1.03)" font-family="'Liberation Sans', Arial, sans-serif" font-size="35" text-anchor="middle" >11</text>
<text transform="translate(223.69 1351.9) scale(1 1.03)" font-family="'Liberation Sans', Arial, sans-serif" font-size="35" text-anchor="middle" >12</text>
<text transform="translate(314.57 1351.9) scale(1 1.03)" font-family="'Liberation Sans', Arial, sans-serif" font-size="35" text-anchor="middle" >13</text>
<text transform="translate(405.46 1351.9) scale(1 1.03)" font-family="'Liberation Sans', Arial, sans-serif" font-size="35" text-anchor="middle" >14</text>
<text transform="translate(496.34 1351.9) scale(1 1.03)" font-family="'Liberation Sans', Arial, sans-serif" font-size="35" text-anchor="middle" >15</text>
<text transform="translate(587.23 1351.9) scale(1 1.03)" font-family="'Liberation Sans', Arial, sans-serif" font-size="35" text-anchor="middle" >16</text>
<text transform="translate(678.11 1351.9) scale(1 1.03)" font-family="'Liberation Sans', Arial, sans-serif" font-size="35" text-anchor="middle" >17</text>
<text transform="translate(769 1351.9) scale(1 1.03)" font-family="'Liberation Sans', Arial, sans-serif" font-size="35" text-anchor="middle" >18</text>
<text transform="translate(462.6 1398.1) scale(1 1.04)" font-family="'Liberation Sans', Arial, sans-serif" font-size="35" text-anchor="middle" >Frequency(GHz)</text>
<text transform="translate(25.7 1033.1) rotate(-90)" font-family="'Liberation Sans', Arial, sans-serif" font-size="35.5" text-anchor="middle">Phase(deg)</text>
<text transform="translate(437.8 1442)" font-family="'Liberation Serif', 'Times New Roman', serif" font-size="34" text-anchor="middle" >(b)</text>
<path d="M189.4 1226.2H278.8" stroke="#f07027" stroke-width="6" stroke-linecap="round"/>
<circle cx="234.1" cy="1226.2" r="7" fill="#f07027"/>
<text transform="translate(298.7 1241.2)" font-family="'Liberation Serif', 'Times New Roman', serif" font-size="36">α=20°</text>
<path d="M189.4 1278.8H278.8" stroke="#2e6da4" stroke-width="6" stroke-linecap="round"/>
<path d="M234.1 1270.25L241.98 1284.5L226.23 1284.5Z" fill="#2e6da4"/>
<text transform="translate(298.7 1293.8)" font-family="'Liberation Serif', 'Times New Roman', serif" font-size="36">α=60°</text>
<path d="M494.7 1223.5H584.9" stroke="#1f7f3b" stroke-width="6" stroke-linecap="round"/>
<rect x="533.8" y="1217.5" width="12" height="12" fill="#1f7f3b"/>
<text transform="translate(608.1 1238.5)" font-family="'Liberation Serif', 'Times New Roman', serif" font-size="36">α=100°</text>
<path d="M494.7 1276.1H584.9" stroke="#c8c8c8" stroke-width="6" stroke-linecap="round"/>
<path d="M539.8 1283.51L546.62 1271.16L532.97 1271.16Z" fill="#c8c8c8"/>
<text transform="translate(608.1 1291.1)" font-family="'Liberation Serif', 'Times New Roman', serif" font-size="36">α=130°</text>
<rect x="1019.9" y="14.5" width="670.9" height="544.8" fill="none" stroke="#000" stroke-width="2.2"/>
<path d="M1019.9 73.88L1021.82 72.1L1023.73 70.37L1025.65 68.71L1027.57 67.12L1029.48 65.62L1031.4 64.22L1033.32 62.91L1035.23 61.72L1037.15 60.66L1039.07 59.72L1040.99 58.88L1042.9 58.11L1044.82 57.39L1046.74 56.72L1048.65 56.09L1050.57 55.51L1052.49 54.96L1054.4 54.43L1056.32 53.93L1058.24 53.45L1060.15 52.99L1062.07 52.56L1063.99 52.14L1065.9 51.75L1067.82 51.37L1069.74 51.01L1071.66 50.66L1073.57 50.31L1075.49 49.98L1077.41 49.64L1079.32 49.3L1081.24 48.96L1083.16 48.62L1085.07 48.29L1086.99 47.97L1088.91 47.66L1090.82 47.37L1092.74 47.1L1094.66 46.86L1096.57 46.64L1098.49 46.45L1100.41 46.26L1102.32 46.07L1104.24 45.89L1106.16 45.71L1108.08 45.54L1109.99 45.38L1111.91 45.22L1113.83 45.06L1115.74 44.92L1117.66 44.78L1119.58 44.64L1121.49 44.52L1123.41 44.41L1125.33 44.3L1127.24 44.2L1129.16 44.12L1131.08 44.04L1132.99 43.97L1134.91 43.92L1136.83 43.87L1138.75 43.82L1140.66 43.78L1142.58 43.73L1144.5 43.68L1146.41 43.64L1148.33 43.6L1150.25 43.55L1152.16 43.51L1154.08 43.47L1156 43.43L1157.91 43.4L1159.83 43.36L1161.75 43.32L1163.66 43.29L1165.58 43.25L1167.5 43.22L1169.41 43.19L1171.33 43.16L1173.25 43.13L1175.17 43.1L1177.08 43.07L1179 43.05L1180.92 43.02L1182.83 43L1184.75 42.98L1186.67 42.96L1188.58 42.94L1190.5 42.92L1192.42 42.91L1194.33 42.89L1196.25 42.88L1198.17 42.87L1200.08 42.86L1202 42.85L1203.92 42.84L1205.84 42.84L1207.75 42.83L1209.67 42.83L1211.59 42.83L1213.5 42.83L1215.42 42.83L1217.34 42.83L1219.25 42.84L1221.17 42.84L1223.09 42.85L1225 42.86L1226.92 42.86L1228.84 42.87L1230.75 42.88L1232.67 42.89L1234.59 42.91L1236.5 42.92L1238.42 42.93L1240.34 42.95L1242.26 42.96L1244.17 42.98L1246.09 43L1248.01 43.02L1249.92 43.04L1251.84 43.06L1253.76 43.08L1255.67 43.1L1257.59 43.12L1259.51 43.14L1261.42 43.17L1263.34 43.19L1265.26 43.22L1267.17 43.24L1269.09 43.27L1271.01 43.3L1272.93 43.33L1274.84 43.35L1276.76 43.38L1278.68 43.41L1280.59 43.44L1282.51 43.47L1284.43 43.51L1286.34 43.54L1288.26 43.57L1290.18 43.6L1292.09 43.64L1294.01 43.67L1295.93 43.7L1297.84 43.74L1299.76 43.77L1301.68 43.81L1303.59 43.85L1305.51 43.88L1307.43 43.92L1309.35 43.96L1311.26 44.01L1313.18 44.06L1315.1 44.12L1317.01 44.18L1318.93 44.25L1320.85 44.33L1322.76 44.41L1324.68 44.5L1326.6 44.59L1328.51 44.68L1330.43 44.78L1332.35 44.89L1334.26 44.99L1336.18 45.11L1338.1 45.22L1340.02 45.34L1341.93 45.46L1343.85 45.59L1345.77 45.72L1347.68 45.85L1349.6 45.98L1351.52 46.12L1353.43 46.26L1355.35 46.4L1357.27 46.54L1359.18 46.68L1361.1 46.83L1363.02 46.97L1364.93 47.12L1366.85 47.26L1368.77 47.41L1370.68 47.56L1372.6 47.71L1374.52 47.85L1376.44 48L1378.35 48.15L1380.27 48.29L1382.19 48.44L1384.1 48.58L1386.02 48.72L1387.94 48.86L1389.85 49L1391.77 49.14L1393.69 49.28L1395.6 49.41L1397.52 49.54L1399.44 49.67L1401.35 49.79L1403.27 49.91L1405.19 50.03L1407.11 50.16L1409.02 50.28L1410.94 50.41L1412.86 50.54L1414.77 50.67L1416.69 50.8L1418.61 50.93L1420.52 51.07L1422.44 51.21L1424.36 51.34L1426.27 51.48L1428.19 51.62L1430.11 51.76L1432.02 51.9L1433.94 52.04L1435.86 52.17L1437.77 52.31L1439.69 52.45L1441.61 52.59L1443.53 52.73L1445.44 52.87L1447.36 53.01L1449.28 53.14L1451.19 53.28L1453.11 53.41L1455.03 53.54L1456.94 53.68L1458.86 53.81L1460.78 53.93L1462.69 54.06L1464.61 54.18L1466.53 54.3L1468.44 54.42L1470.36 54.54L1472.28 54.66L1474.2 54.77L1476.11 54.88L1478.03 54.98L1479.95 55.08L1481.86 55.18L1483.78 55.28L1485.7 55.37L1487.61 55.46L1489.53 55.54L1491.45 55.63L1493.36 55.7L1495.28 55.77L1497.2 55.84L1499.11 55.9L1501.03 55.97L1502.95 56.03L1504.86 56.09L1506.78 56.15L1508.7 56.21L1510.62 56.27L1512.53 56.33L1514.45 56.39L1516.37 56.45L1518.28 56.51L1520.2 56.56L1522.12 56.61L1524.03 56.66L1525.95 56.71L1527.87 56.76L1529.78 56.8L1531.7 56.84L1533.62 56.87L1535.53 56.9L1537.45 56.93L1539.37 56.95L1541.29 56.97L1543.2 56.98L1545.12 56.99L1547.04 56.99L1548.95 56.99L1550.87 56.98L1552.79 56.97L1554.7 56.95L1556.62 56.92L1558.54 56.89L1560.45 56.86L1562.37 56.82L1564.29 56.77L1566.2 56.72L1568.12 56.66L1570.04 56.6L1571.95 56.53L1573.87 56.46L1575.79 56.39L1577.71 56.3L1579.62 56.22L1581.54 56.13L1583.46 56.03L1585.37 55.93L1587.29 55.82L1589.21 55.72L1591.12 55.6L1593.04 55.48L1594.96 55.36L1596.87 55.17L1598.79 54.86L1600.71 54.45L1602.62 53.95L1604.54 53.38L1606.46 52.76L1608.38 52.09L1610.29 51.4L1612.21 50.7L1614.13 50.01L1616.04 49.34L1617.96 48.71L1619.88 48.13L1621.79 47.61L1623.71 47.19L1625.63 46.8L1627.54 46.41L1629.46 46.01L1631.38 45.61L1633.29 45.22L1635.21 44.84L1637.13 44.47L1639.04 44.13L1640.96 43.82L1642.88 43.54L1644.8 43.3L1646.71 43.1L1648.63 42.95L1650.55 42.86L1652.46 42.83L1654.38 42.83L1656.3 42.83L1658.21 42.84L1660.13 42.86L1662.05 42.88L1663.96 42.91L1665.88 42.95L1667.8 43L1669.71 43.07L1671.63 43.16L1673.55 43.26L1675.47 43.39L1677.38 43.53L1679.3 43.7L1681.22 43.89L1683.13 44.11L1685.05 44.35L1686.97 44.63L1688.88 44.94L1690.8 45.28" fill="none" stroke="#000000" stroke-width="6.4" stroke-linejoin="round" stroke-linecap="butt"/>
<rect x="1014.65" y="68.63" width="10.5" height="10.5" fill="#000000"/><rect x="1033.82" y="54.47" width="10.5" height="10.5" fill="#000000"/><rect x="1052.99" y="48.2" width="10.5" height="10.5" fill="#000000"/><rect x="1072.16" y="44.39" width="10.5" height="10.5" fill="#000000"/><rect x="1091.32" y="41.39" width="10.5" height="10.5" fill="#000000"/><rect x="1110.49" y="39.67" width="10.5" height="10.5" fill="#000000"/><rect x="1129.66" y="38.67" width="10.5" height="10.5" fill="#000000"/><rect x="1148.83" y="38.22" width="10.5" height="10.5" fill="#000000"/><rect x="1168" y="37.88" width="10.5" height="10.5" fill="#000000"/><rect x="1187.17" y="37.66" width="10.5" height="10.5" fill="#000000"/><rect x="1206.34" y="37.58" width="10.5" height="10.5" fill="#000000"/><rect x="1225.5" y="37.63" width="10.5" height="10.5" fill="#000000"/><rect x="1244.67" y="37.79" width="10.5" height="10.5" fill="#000000"/><rect x="1263.84" y="38.02" width="10.5" height="10.5" fill="#000000"/><rect x="1283.01" y="38.32" width="10.5" height="10.5" fill="#000000"/><rect x="1302.18" y="38.67" width="10.5" height="10.5" fill="#000000"/><rect x="1321.35" y="39.34" width="10.5" height="10.5" fill="#000000"/><rect x="1340.52" y="40.47" width="10.5" height="10.5" fill="#000000"/><rect x="1359.68" y="41.87" width="10.5" height="10.5" fill="#000000"/><rect x="1378.85" y="43.33" width="10.5" height="10.5" fill="#000000"/><rect x="1398.02" y="44.66" width="10.5" height="10.5" fill="#000000"/><rect x="1417.19" y="45.96" width="10.5" height="10.5" fill="#000000"/><rect x="1436.36" y="47.34" width="10.5" height="10.5" fill="#000000"/><rect x="1455.53" y="48.68" width="10.5" height="10.5" fill="#000000"/><rect x="1474.7" y="49.83" width="10.5" height="10.5" fill="#000000"/><rect x="1493.86" y="50.65" width="10.5" height="10.5" fill="#000000"/><rect x="1513.03" y="51.26" width="10.5" height="10.5" fill="#000000"/><rect x="1532.2" y="51.68" width="10.5" height="10.5" fill="#000000"/><rect x="1551.37" y="51.67" width="10.5" height="10.5" fill="#000000"/><rect x="1570.54" y="51.14" width="10.5" height="10.5" fill="#000000"/><rect x="1589.71" y="50.11" width="10.5" height="10.5" fill="#000000"/><rect x="1608.88" y="44.76" width="10.5" height="10.5" fill="#000000"/><rect x="1628.04" y="39.97" width="10.5" height="10.5" fill="#000000"/><rect x="1647.21" y="37.58" width="10.5" height="10.5" fill="#000000"/><rect x="1666.38" y="37.91" width="10.5" height="10.5" fill="#000000"/><rect x="1685.55" y="40.03" width="10.5" height="10.5" fill="#000000"/>
<path d="M1019.9 59.72L1021.82 58.42L1023.73 57.16L1025.65 55.95L1027.57 54.8L1029.48 53.72L1031.4 52.72L1033.32 51.8L1035.23 50.97L1037.15 50.25L1039.07 49.64L1040.99 49.1L1042.9 48.6L1044.82 48.13L1046.74 47.69L1048.65 47.29L1050.57 46.93L1052.49 46.6L1054.4 46.3L1056.32 46.05L1058.24 45.83L1060.15 45.63L1062.07 45.43L1063.99 45.24L1065.9 45.06L1067.82 44.89L1069.74 44.75L1071.66 44.63L1073.57 44.54L1075.49 44.48L1077.41 44.46L1079.32 44.47L1081.24 44.51L1083.16 44.56L1085.07 44.62L1086.99 44.7L1088.91 44.8L1090.82 44.91L1092.74 45.02L1094.66 45.15L1096.57 45.28L1098.49 45.46L1100.41 45.73L1102.32 46.07L1104.24 46.46L1106.16 46.9L1108.08 47.35L1109.99 47.82L1111.91 48.27L1113.83 48.7L1115.74 49.09L1117.66 49.48L1119.58 49.9L1121.49 50.34L1123.41 50.78L1125.33 51.21L1127.24 51.61L1129.16 51.97L1131.08 52.27L1132.99 52.5L1134.91 52.64L1136.83 52.73L1138.75 52.81L1140.66 52.9L1142.58 52.98L1144.5 53.06L1146.41 53.13L1148.33 53.2L1150.25 53.27L1152.16 53.34L1154.08 53.4L1156 53.46L1157.91 53.51L1159.83 53.57L1161.75 53.62L1163.66 53.66L1165.58 53.71L1167.5 53.75L1169.41 53.78L1171.33 53.82L1173.25 53.85L1175.17 53.88L1177.08 53.9L1179 53.93L1180.92 53.95L1182.83 53.96L1184.75 53.97L1186.67 53.98L1188.58 53.99L1190.5 54L1192.42 54L1194.33 53.97L1196.25 53.89L1198.17 53.77L1200.08 53.6L1202 53.4L1203.92 53.16L1205.84 52.89L1207.75 52.59L1209.67 52.27L1211.59 51.94L1213.5 51.59L1215.42 51.23L1217.34 50.87L1219.25 50.51L1221.17 50.15L1223.09 49.8L1225 49.46L1226.92 49.13L1228.84 48.83L1230.75 48.55L1232.67 48.27L1234.59 47.98L1236.5 47.66L1238.42 47.33L1240.34 46.99L1242.26 46.65L1244.17 46.31L1246.09 45.96L1248.01 45.63L1249.92 45.3L1251.84 44.98L1253.76 44.69L1255.67 44.41L1257.59 44.16L1259.51 43.93L1261.42 43.74L1263.34 43.59L1265.26 43.47L1267.17 43.4L1269.09 43.37L1271.01 43.37L1272.93 43.37L1274.84 43.37L1276.76 43.37L1278.68 43.37L1280.59 43.37L1282.51 43.37L1284.43 43.37L1286.34 43.37L1288.26 43.37L1290.18 43.37L1292.09 43.37L1294.01 43.37L1295.93 43.37L1297.84 43.37L1299.76 43.37L1301.68 43.37L1303.59 43.37L1305.51 43.37L1307.43 43.37L1309.35 43.37L1311.26 43.37L1313.18 43.37L1315.1 43.37L1317.01 43.37L1318.93 43.37L1320.85 43.37L1322.76 43.37L1324.68 43.37L1326.6 43.37L1328.51 43.37L1330.43 43.37L1332.35 43.37L1334.26 43.37L1336.18 43.37L1338.1 43.37L1340.02 43.37L1341.93 43.37L1343.85 43.37L1345.77 43.37L1347.68 43.37L1349.6 43.37L1351.52 43.37L1353.43 43.37L1355.35 43.37L1357.27 43.38L1359.18 43.39L1361.1 43.41L1363.02 43.43L1364.93 43.46L1366.85 43.49L1368.77 43.53L1370.68 43.57L1372.6 43.62L1374.52 43.67L1376.44 43.72L1378.35 43.77L1380.27 43.83L1382.19 43.89L1384.1 43.95L1386.02 44L1387.94 44.06L1389.85 44.12L1391.77 44.18L1393.69 44.23L1395.6 44.28L1397.52 44.33L1399.44 44.38L1401.35 44.42L1403.27 44.46L1405.19 44.5L1407.11 44.54L1409.02 44.57L1410.94 44.61L1412.86 44.65L1414.77 44.68L1416.69 44.72L1418.61 44.75L1420.52 44.79L1422.44 44.82L1424.36 44.86L1426.27 44.89L1428.19 44.92L1430.11 44.96L1432.02 44.99L1433.94 45.02L1435.86 45.05L1437.77 45.08L1439.69 45.11L1441.61 45.14L1443.53 45.17L1445.44 45.2L1447.36 45.23L1449.28 45.25L1451.19 45.28L1453.11 45.31L1455.03 45.33L1456.94 45.35L1458.86 45.38L1460.78 45.4L1462.69 45.42L1464.61 45.43L1466.53 45.45L1468.44 45.47L1470.36 45.49L1472.28 45.51L1474.2 45.53L1476.11 45.54L1478.03 45.56L1479.95 45.58L1481.86 45.6L1483.78 45.62L1485.7 45.64L1487.61 45.66L1489.53 45.69L1491.45 45.71L1493.36 45.74L1495.28 45.77L1497.2 45.79L1499.11 45.83L1501.03 45.86L1502.95 45.91L1504.86 45.97L1506.78 46.04L1508.7 46.11L1510.62 46.18L1512.53 46.26L1514.45 46.33L1516.37 46.4L1518.28 46.47L1520.2 46.53L1522.12 46.57L1524.03 46.61L1525.95 46.63L1527.87 46.64L1529.78 46.64L1531.7 46.62L1533.62 46.6L1535.53 46.57L1537.45 46.54L1539.37 46.49L1541.29 46.44L1543.2 46.38L1545.12 46.32L1547.04 46.26L1548.95 46.18L1550.87 46.11L1552.79 46.03L1554.7 45.95L1556.62 45.87L1558.54 45.78L1560.45 45.69L1562.37 45.6L1564.29 45.52L1566.2 45.43L1568.12 45.34L1570.04 45.26L1571.95 45.17L1573.87 45.09L1575.79 45.01L1577.71 44.93L1579.62 44.84L1581.54 44.75L1583.46 44.66L1585.37 44.57L1587.29 44.47L1589.21 44.37L1591.12 44.27L1593.04 44.16L1594.96 44.06L1596.87 43.96L1598.79 43.85L1600.71 43.75L1602.62 43.65L1604.54 43.55L1606.46 43.45L1608.38 43.36L1610.29 43.27L1612.21 43.18L1614.13 43.1L1616.04 43.02L1617.96 42.94L1619.88 42.85L1621.79 42.76L1623.71 42.67L1625.63 42.57L1627.54 42.48L1629.46 42.39L1631.38 42.31L1633.29 42.22L1635.21 42.14L1637.13 42.07L1639.04 42L1640.96 41.93L1642.88 41.88L1644.8 41.83L1646.71 41.79L1648.63 41.76L1650.55 41.75L1652.46 41.74L1654.38 41.76L1656.3 41.81L1658.21 41.88L1660.13 41.99L1662.05 42.12L1663.96 42.28L1665.88 42.46L1667.8 42.66L1669.71 42.87L1671.63 43.1L1673.55 43.44L1675.47 43.96L1677.38 44.65L1679.3 45.49L1681.22 46.46L1683.13 47.55L1685.05 48.72L1686.97 49.98L1688.88 51.29L1690.8 52.64" fill="none" stroke="#ff0000" stroke-width="6.4" stroke-linejoin="round" stroke-linecap="butt"/>
<circle cx="1019.9" cy="59.72" r="5.25" fill="#ff0000"/><circle cx="1039.07" cy="49.64" r="5.25" fill="#ff0000"/><circle cx="1058.24" cy="45.83" r="5.25" fill="#ff0000"/><circle cx="1077.41" cy="44.46" r="5.25" fill="#ff0000"/><circle cx="1096.57" cy="45.28" r="5.25" fill="#ff0000"/><circle cx="1115.74" cy="49.09" r="5.25" fill="#ff0000"/><circle cx="1134.91" cy="52.64" r="5.25" fill="#ff0000"/><circle cx="1154.08" cy="53.4" r="5.25" fill="#ff0000"/><circle cx="1173.25" cy="53.85" r="5.25" fill="#ff0000"/><circle cx="1192.42" cy="54" r="5.25" fill="#ff0000"/><circle cx="1211.59" cy="51.94" r="5.25" fill="#ff0000"/><circle cx="1230.75" cy="48.55" r="5.25" fill="#ff0000"/><circle cx="1249.92" cy="45.3" r="5.25" fill="#ff0000"/><circle cx="1269.09" cy="43.37" r="5.25" fill="#ff0000"/><circle cx="1288.26" cy="43.37" r="5.25" fill="#ff0000"/><circle cx="1307.43" cy="43.37" r="5.25" fill="#ff0000"/><circle cx="1326.6" cy="43.37" r="5.25" fill="#ff0000"/><circle cx="1345.77" cy="43.37" r="5.25" fill="#ff0000"/><circle cx="1364.93" cy="43.46" r="5.25" fill="#ff0000"/><circle cx="1384.1" cy="43.95" r="5.25" fill="#ff0000"/><circle cx="1403.27" cy="44.46" r="5.25" fill="#ff0000"/><circle cx="1422.44" cy="44.82" r="5.25" fill="#ff0000"/><circle cx="1441.61" cy="45.14" r="5.25" fill="#ff0000"/><circle cx="1460.78" cy="45.4" r="5.25" fill="#ff0000"/><circle cx="1479.95" cy="45.58" r="5.25" fill="#ff0000"/><circle cx="1499.11" cy="45.83" r="5.25" fill="#ff0000"/><circle cx="1518.28" cy="46.47" r="5.25" fill="#ff0000"/><circle cx="1537.45" cy="46.54" r="5.25" fill="#ff0000"/><circle cx="1556.62" cy="45.87" r="5.25" fill="#ff0000"/><circle cx="1575.79" cy="45.01" r="5.25" fill="#ff0000"/><circle cx="1594.96" cy="44.06" r="5.25" fill="#ff0000"/><circle cx="1614.13" cy="43.1" r="5.25" fill="#ff0000"/><circle cx="1633.29" cy="42.22" r="5.25" fill="#ff0000"/><circle cx="1652.46" cy="41.74" r="5.25" fill="#ff0000"/><circle cx="1671.63" cy="43.1" r="5.25" fill="#ff0000"/><circle cx="1690.8" cy="52.64" r="5.25" fill="#ff0000"/>
<path d="M1019.9 97.04L1021.82 94.77L1023.73 92.55L1025.65 90.37L1027.57 88.24L1029.48 86.17L1031.4 84.14L1033.32 82.17L1035.23 80.26L1037.15 78.4L1039.07 76.61L1040.99 74.84L1042.9 73.06L1044.82 71.3L1046.74 69.58L1048.65 67.92L1050.57 66.33L1052.49 64.83L1054.4 63.44L1056.32 62.18L1058.24 61.08L1060.15 60.08L1062.07 59.14L1063.99 58.25L1065.9 57.41L1067.82 56.62L1069.74 55.89L1071.66 55.2L1073.57 54.57L1075.49 53.99L1077.41 53.45L1079.32 52.95L1081.24 52.47L1083.16 52.01L1085.07 51.57L1086.99 51.16L1088.91 50.78L1090.82 50.43L1092.74 50.13L1094.66 49.86L1096.57 49.64L1098.49 49.44L1100.41 49.25L1102.32 49.06L1104.24 48.88L1106.16 48.7L1108.08 48.53L1109.99 48.37L1111.91 48.21L1113.83 48.06L1115.74 47.92L1117.66 47.79L1119.58 47.67L1121.49 47.57L1123.41 47.47L1125.33 47.39L1127.24 47.32L1129.16 47.26L1131.08 47.22L1132.99 47.2L1134.91 47.19L1136.83 47.19L1138.75 47.19L1140.66 47.19L1142.58 47.19L1144.5 47.19L1146.41 47.19L1148.33 47.19L1150.25 47.19L1152.16 47.19L1154.08 47.19L1156 47.19L1157.91 47.19L1159.83 47.19L1161.75 47.19L1163.66 47.19L1165.58 47.19L1167.5 47.19L1169.41 47.19L1171.33 47.19L1173.25 47.19L1175.17 47.19L1177.08 47.19L1179 47.19L1180.92 47.19L1182.83 47.19L1184.75 47.19L1186.67 47.19L1188.58 47.19L1190.5 47.19L1192.42 47.19L1194.33 47.19L1196.25 47.19L1198.17 47.19L1200.08 47.19L1202 47.19L1203.92 47.19L1205.84 47.19L1207.75 47.19L1209.67 47.19L1211.59 47.19L1213.5 47.19L1215.42 47.19L1217.34 47.19L1219.25 47.2L1221.17 47.2L1223.09 47.21L1225 47.21L1226.92 47.22L1228.84 47.23L1230.75 47.24L1232.67 47.25L1234.59 47.26L1236.5 47.27L1238.42 47.28L1240.34 47.29L1242.26 47.31L1244.17 47.32L1246.09 47.33L1248.01 47.35L1249.92 47.37L1251.84 47.38L1253.76 47.4L1255.67 47.42L1257.59 47.44L1259.51 47.45L1261.42 47.47L1263.34 47.49L1265.26 47.51L1267.17 47.53L1269.09 47.55L1271.01 47.57L1272.93 47.6L1274.84 47.62L1276.76 47.64L1278.68 47.66L1280.59 47.68L1282.51 47.71L1284.43 47.73L1286.34 47.75L1288.26 47.77L1290.18 47.8L1292.09 47.82L1294.01 47.84L1295.93 47.87L1297.84 47.89L1299.76 47.91L1301.68 47.94L1303.59 47.96L1305.51 47.98L1307.43 48.01L1309.35 48.03L1311.26 48.05L1313.18 48.08L1315.1 48.11L1317.01 48.14L1318.93 48.17L1320.85 48.2L1322.76 48.23L1324.68 48.26L1326.6 48.3L1328.51 48.33L1330.43 48.37L1332.35 48.41L1334.26 48.45L1336.18 48.49L1338.1 48.52L1340.02 48.56L1341.93 48.61L1343.85 48.65L1345.77 48.69L1347.68 48.73L1349.6 48.77L1351.52 48.82L1353.43 48.86L1355.35 48.9L1357.27 48.95L1359.18 48.99L1361.1 49.03L1363.02 49.08L1364.93 49.12L1366.85 49.17L1368.77 49.21L1370.68 49.25L1372.6 49.3L1374.52 49.34L1376.44 49.38L1378.35 49.42L1380.27 49.47L1382.19 49.51L1384.1 49.55L1386.02 49.59L1387.94 49.63L1389.85 49.67L1391.77 49.7L1393.69 49.74L1395.6 49.78L1397.52 49.81L1399.44 49.85L1401.35 49.88L1403.27 49.91L1405.19 49.94L1407.11 49.97L1409.02 50L1410.94 50.03L1412.86 50.06L1414.77 50.09L1416.69 50.12L1418.61 50.14L1420.52 50.17L1422.44 50.2L1424.36 50.22L1426.27 50.25L1428.19 50.27L1430.11 50.3L1432.02 50.32L1433.94 50.34L1435.86 50.37L1437.77 50.39L1439.69 50.42L1441.61 50.44L1443.53 50.46L1445.44 50.49L1447.36 50.51L1449.28 50.53L1451.19 50.56L1453.11 50.58L1455.03 50.6L1456.94 50.63L1458.86 50.65L1460.78 50.68L1462.69 50.7L1464.61 50.73L1466.53 50.75L1468.44 50.78L1470.36 50.8L1472.28 50.83L1474.2 50.86L1476.11 50.88L1478.03 50.91L1479.95 50.94L1481.86 50.97L1483.78 51L1485.7 51.03L1487.61 51.06L1489.53 51.1L1491.45 51.13L1493.36 51.17L1495.28 51.2L1497.2 51.24L1499.11 51.27L1501.03 51.32L1502.95 51.36L1504.86 51.42L1506.78 51.47L1508.7 51.54L1510.62 51.6L1512.53 51.67L1514.45 51.74L1516.37 51.82L1518.28 51.89L1520.2 51.96L1522.12 52.04L1524.03 52.11L1525.95 52.18L1527.87 52.25L1529.78 52.31L1531.7 52.37L1533.62 52.43L1535.53 52.48L1537.45 52.52L1539.37 52.56L1541.29 52.59L1543.2 52.62L1545.12 52.63L1547.04 52.64L1548.95 52.64L1550.87 52.64L1552.79 52.64L1554.7 52.64L1556.62 52.64L1558.54 52.64L1560.45 52.64L1562.37 52.64L1564.29 52.64L1566.2 52.64L1568.12 52.64L1570.04 52.64L1571.95 52.64L1573.87 52.64L1575.79 52.64L1577.71 52.64L1579.62 52.64L1581.54 52.64L1583.46 52.64L1585.37 52.64L1587.29 52.64L1589.21 52.64L1591.12 52.64L1593.04 52.64L1594.96 52.64L1596.87 52.63L1598.79 52.61L1600.71 52.58L1602.62 52.54L1604.54 52.49L1606.46 52.44L1608.38 52.38L1610.29 52.31L1612.21 52.23L1614.13 52.16L1616.04 52.08L1617.96 52L1619.88 51.91L1621.79 51.83L1623.71 51.75L1625.63 51.68L1627.54 51.6L1629.46 51.53L1631.38 51.47L1633.29 51.42L1635.21 51.37L1637.13 51.33L1639.04 51.3L1640.96 51.28L1642.88 51.27L1644.8 51.28L1646.71 51.3L1648.63 51.34L1650.55 51.38L1652.46 51.44L1654.38 51.51L1656.3 51.6L1658.21 51.69L1660.13 51.8L1662.05 51.91L1663.96 52.04L1665.88 52.18L1667.8 52.32L1669.71 52.47L1671.63 52.64L1673.55 52.87L1675.47 53.21L1677.38 53.67L1679.3 54.21L1681.22 54.84L1683.13 55.52L1685.05 56.26L1686.97 57.03L1688.88 57.83L1690.8 58.63" fill="none" stroke="#00ff00" stroke-width="6.4" stroke-linejoin="round" stroke-linecap="butt"/>
<path d="M1019.9 89.63L1026.72 101.98L1013.07 101.98Z" fill="#00ff00"/><path d="M1039.07 69.2L1045.89 81.55L1032.24 81.55Z" fill="#00ff00"/><path d="M1058.24 53.67L1065.06 66.02L1051.41 66.02Z" fill="#00ff00"/><path d="M1077.41 46.04L1084.23 58.39L1070.58 58.39Z" fill="#00ff00"/><path d="M1096.57 42.23L1103.4 54.58L1089.75 54.58Z" fill="#00ff00"/><path d="M1115.74 40.51L1122.57 52.86L1108.92 52.86Z" fill="#00ff00"/><path d="M1134.91 39.78L1141.74 52.13L1128.09 52.13Z" fill="#00ff00"/><path d="M1154.08 39.78L1160.9 52.13L1147.25 52.13Z" fill="#00ff00"/><path d="M1173.25 39.78L1180.07 52.13L1166.42 52.13Z" fill="#00ff00"/><path d="M1192.42 39.78L1199.24 52.13L1185.59 52.13Z" fill="#00ff00"/><path d="M1211.59 39.78L1218.41 52.13L1204.76 52.13Z" fill="#00ff00"/><path d="M1230.75 39.83L1237.58 52.18L1223.93 52.18Z" fill="#00ff00"/><path d="M1249.92 39.96L1256.75 52.31L1243.1 52.31Z" fill="#00ff00"/><path d="M1269.09 40.14L1275.92 52.49L1262.27 52.49Z" fill="#00ff00"/><path d="M1288.26 40.36L1295.09 52.71L1281.43 52.71Z" fill="#00ff00"/><path d="M1307.43 40.6L1314.25 52.95L1300.6 52.95Z" fill="#00ff00"/><path d="M1326.6 40.89L1333.42 53.24L1319.77 53.24Z" fill="#00ff00"/><path d="M1345.77 41.28L1352.59 53.63L1338.94 53.63Z" fill="#00ff00"/><path d="M1364.93 41.71L1371.76 54.06L1358.11 54.06Z" fill="#00ff00"/><path d="M1384.1 42.14L1390.93 54.49L1377.28 54.49Z" fill="#00ff00"/><path d="M1403.27 42.5L1410.1 54.85L1396.45 54.85Z" fill="#00ff00"/><path d="M1422.44 42.79L1429.26 55.14L1415.61 55.14Z" fill="#00ff00"/><path d="M1441.61 43.03L1448.43 55.38L1434.78 55.38Z" fill="#00ff00"/><path d="M1460.78 43.27L1467.6 55.62L1453.95 55.62Z" fill="#00ff00"/><path d="M1479.95 43.53L1486.77 55.88L1473.12 55.88Z" fill="#00ff00"/><path d="M1499.11 43.86L1505.94 56.21L1492.29 56.21Z" fill="#00ff00"/><path d="M1518.28 44.48L1525.11 56.83L1511.46 56.83Z" fill="#00ff00"/><path d="M1537.45 45.11L1544.28 57.46L1530.63 57.46Z" fill="#00ff00"/><path d="M1556.62 45.23L1563.45 57.58L1549.8 57.58Z" fill="#00ff00"/><path d="M1575.79 45.23L1582.61 57.58L1568.96 57.58Z" fill="#00ff00"/><path d="M1594.96 45.23L1601.78 57.58L1588.13 57.58Z" fill="#00ff00"/><path d="M1614.13 44.75L1620.95 57.1L1607.3 57.1Z" fill="#00ff00"/><path d="M1633.29 44.01L1640.12 56.36L1626.47 56.36Z" fill="#00ff00"/><path d="M1652.46 44.03L1659.29 56.38L1645.64 56.38Z" fill="#00ff00"/><path d="M1671.63 45.23L1678.46 57.58L1664.81 57.58Z" fill="#00ff00"/><path d="M1690.8 51.22L1697.62 63.57L1683.97 63.57Z" fill="#00ff00"/>
<path d="M1019.9 132.99L1021.82 129.44L1023.73 125.98L1025.65 122.61L1027.57 119.34L1029.48 116.18L1031.4 113.13L1033.32 110.21L1035.23 107.41L1037.15 104.74L1039.07 102.21L1040.99 99.8L1042.9 97.48L1044.82 95.24L1046.74 93.09L1048.65 91.02L1050.57 89.03L1052.49 87.11L1054.4 85.26L1056.32 83.49L1058.24 81.78L1060.15 80.13L1062.07 78.52L1063.99 76.96L1065.9 75.44L1067.82 73.98L1069.74 72.58L1071.66 71.24L1073.57 69.96L1075.49 68.75L1077.41 67.62L1079.32 66.53L1081.24 65.49L1083.16 64.47L1085.07 63.5L1086.99 62.57L1088.91 61.68L1090.82 60.84L1092.74 60.05L1094.66 59.31L1096.57 58.63L1098.49 57.96L1100.41 57.29L1102.32 56.63L1104.24 56L1106.16 55.4L1108.08 54.85L1109.99 54.36L1111.91 53.96L1113.83 53.65L1115.74 53.45L1117.66 53.32L1119.58 53.19L1121.49 53.07L1123.41 52.96L1125.33 52.87L1127.24 52.79L1129.16 52.72L1131.08 52.68L1132.99 52.65L1134.91 52.64L1136.83 52.64L1138.75 52.67L1140.66 52.71L1142.58 52.76L1144.5 52.83L1146.41 52.91L1148.33 52.99L1150.25 53.09L1152.16 53.2L1154.08 53.32L1156 53.44L1157.91 53.57L1159.83 53.71L1161.75 53.85L1163.66 53.99L1165.58 54.14L1167.5 54.29L1169.41 54.44L1171.33 54.58L1173.25 54.73L1175.17 54.87L1177.08 55.01L1179 55.15L1180.92 55.28L1182.83 55.41L1184.75 55.52L1186.67 55.63L1188.58 55.73L1190.5 55.83L1192.42 55.9L1194.33 55.98L1196.25 56.05L1198.17 56.12L1200.08 56.2L1202 56.27L1203.92 56.34L1205.84 56.41L1207.75 56.48L1209.67 56.55L1211.59 56.62L1213.5 56.69L1215.42 56.76L1217.34 56.82L1219.25 56.89L1221.17 56.95L1223.09 57.02L1225 57.08L1226.92 57.14L1228.84 57.2L1230.75 57.26L1232.67 57.32L1234.59 57.37L1236.5 57.43L1238.42 57.48L1240.34 57.53L1242.26 57.58L1244.17 57.63L1246.09 57.68L1248.01 57.72L1249.92 57.77L1251.84 57.81L1253.76 57.85L1255.67 57.88L1257.59 57.92L1259.51 57.95L1261.42 57.98L1263.34 58.01L1265.26 58.04L1267.17 58.06L1269.09 58.08L1271.01 58.1L1272.93 58.12L1274.84 58.14L1276.76 58.16L1278.68 58.17L1280.59 58.19L1282.51 58.2L1284.43 58.22L1286.34 58.23L1288.26 58.24L1290.18 58.25L1292.09 58.26L1294.01 58.28L1295.93 58.29L1297.84 58.3L1299.76 58.31L1301.68 58.32L1303.59 58.33L1305.51 58.34L1307.43 58.36L1309.35 58.37L1311.26 58.38L1313.18 58.39L1315.1 58.41L1317.01 58.42L1318.93 58.44L1320.85 58.45L1322.76 58.46L1324.68 58.48L1326.6 58.49L1328.51 58.51L1330.43 58.52L1332.35 58.54L1334.26 58.55L1336.18 58.56L1338.1 58.58L1340.02 58.59L1341.93 58.61L1343.85 58.62L1345.77 58.64L1347.68 58.65L1349.6 58.66L1351.52 58.68L1353.43 58.69L1355.35 58.71L1357.27 58.72L1359.18 58.73L1361.1 58.74L1363.02 58.76L1364.93 58.77L1366.85 58.78L1368.77 58.79L1370.68 58.8L1372.6 58.81L1374.52 58.82L1376.44 58.83L1378.35 58.84L1380.27 58.85L1382.19 58.86L1384.1 58.86L1386.02 58.87L1387.94 58.88L1389.85 58.88L1391.77 58.89L1393.69 58.89L1395.6 58.89L1397.52 58.9L1399.44 58.9L1401.35 58.9L1403.27 58.9L1405.19 58.9L1407.11 58.9L1409.02 58.9L1410.94 58.9L1412.86 58.9L1414.77 58.9L1416.69 58.9L1418.61 58.9L1420.52 58.9L1422.44 58.9L1424.36 58.9L1426.27 58.9L1428.19 58.9L1430.11 58.9L1432.02 58.9L1433.94 58.9L1435.86 58.9L1437.77 58.9L1439.69 58.9L1441.61 58.9L1443.53 58.9L1445.44 58.9L1447.36 58.9L1449.28 58.9L1451.19 58.9L1453.11 58.9L1455.03 58.9L1456.94 58.9L1458.86 58.9L1460.78 58.9L1462.69 58.9L1464.61 58.9L1466.53 58.9L1468.44 58.9L1470.36 58.9L1472.28 58.9L1474.2 58.9L1476.11 58.9L1478.03 58.9L1479.95 58.9L1481.86 58.9L1483.78 58.89L1485.7 58.89L1487.61 58.88L1489.53 58.86L1491.45 58.84L1493.36 58.83L1495.28 58.8L1497.2 58.78L1499.11 58.75L1501.03 58.72L1502.95 58.69L1504.86 58.65L1506.78 58.62L1508.7 58.58L1510.62 58.54L1512.53 58.49L1514.45 58.45L1516.37 58.4L1518.28 58.35L1520.2 58.3L1522.12 58.25L1524.03 58.2L1525.95 58.14L1527.87 58.08L1529.78 58.02L1531.7 57.93L1533.62 57.82L1535.53 57.7L1537.45 57.56L1539.37 57.4L1541.29 57.23L1543.2 57.04L1545.12 56.84L1547.04 56.63L1548.95 56.41L1550.87 56.17L1552.79 55.93L1554.7 55.68L1556.62 55.42L1558.54 55.15L1560.45 54.88L1562.37 54.61L1564.29 54.33L1566.2 54.05L1568.12 53.76L1570.04 53.48L1571.95 53.2L1573.87 52.92L1575.79 52.64L1577.71 52.34L1579.62 52L1581.54 51.63L1583.46 51.24L1585.37 50.84L1587.29 50.42L1589.21 49.99L1591.12 49.57L1593.04 49.15L1594.96 48.75L1596.87 48.37L1598.79 48.02L1600.71 47.7L1602.62 47.42L1604.54 47.19L1606.46 46.98L1608.38 46.77L1610.29 46.56L1612.21 46.36L1614.13 46.16L1616.04 45.97L1617.96 45.79L1619.88 45.63L1621.79 45.48L1623.71 45.34L1625.63 45.23L1627.54 45.14L1629.46 45.07L1631.38 45.02L1633.29 45.01L1635.21 45.04L1637.13 45.11L1639.04 45.24L1640.96 45.41L1642.88 45.62L1644.8 45.87L1646.71 46.15L1648.63 46.47L1650.55 46.82L1652.46 47.19L1654.38 47.75L1656.3 48.63L1658.21 49.81L1660.13 51.25L1662.05 52.92L1663.96 54.79L1665.88 56.81L1667.8 58.97L1669.71 61.22L1671.63 63.53L1673.55 66.09L1675.47 69.07L1677.38 72.44L1679.3 76.18L1681.22 80.24L1683.13 84.6L1685.05 89.23L1686.97 94.09L1688.88 99.16L1690.8 104.39" fill="none" stroke="#0000ff" stroke-width="6.4" stroke-linejoin="round" stroke-linecap="butt"/>
<path d="M1019.9 140.12L1026.46 128.24L1013.34 128.24Z" fill="#0000ff"/><path d="M1039.07 109.34L1045.63 97.46L1032.51 97.46Z" fill="#0000ff"/><path d="M1058.24 88.91L1064.8 77.03L1051.67 77.03Z" fill="#0000ff"/><path d="M1077.41 74.74L1083.97 62.87L1070.84 62.87Z" fill="#0000ff"/><path d="M1096.57 65.75L1103.14 53.88L1090.01 53.88Z" fill="#0000ff"/><path d="M1115.74 60.58L1122.31 48.7L1109.18 48.7Z" fill="#0000ff"/><path d="M1134.91 59.76L1141.47 47.89L1128.35 47.89Z" fill="#0000ff"/><path d="M1154.08 60.44L1160.64 48.57L1147.52 48.57Z" fill="#0000ff"/><path d="M1173.25 61.85L1179.81 49.98L1166.69 49.98Z" fill="#0000ff"/><path d="M1192.42 63.03L1198.98 51.15L1185.85 51.15Z" fill="#0000ff"/><path d="M1211.59 63.75L1218.15 51.87L1205.02 51.87Z" fill="#0000ff"/><path d="M1230.75 64.39L1237.32 52.51L1224.19 52.51Z" fill="#0000ff"/><path d="M1249.92 64.89L1256.49 53.02L1243.36 53.02Z" fill="#0000ff"/><path d="M1269.09 65.21L1275.65 53.33L1262.53 53.33Z" fill="#0000ff"/><path d="M1288.26 65.37L1294.82 53.49L1281.7 53.49Z" fill="#0000ff"/><path d="M1307.43 65.48L1313.99 53.61L1300.87 53.61Z" fill="#0000ff"/><path d="M1326.6 65.62L1333.16 53.74L1320.03 53.74Z" fill="#0000ff"/><path d="M1345.77 65.76L1352.33 53.89L1339.2 53.89Z" fill="#0000ff"/><path d="M1364.93 65.89L1371.5 54.02L1358.37 54.02Z" fill="#0000ff"/><path d="M1384.1 65.99L1390.67 54.11L1377.54 54.11Z" fill="#0000ff"/><path d="M1403.27 66.03L1409.83 54.15L1396.71 54.15Z" fill="#0000ff"/><path d="M1422.44 66.03L1429 54.15L1415.88 54.15Z" fill="#0000ff"/><path d="M1441.61 66.03L1448.17 54.15L1435.05 54.15Z" fill="#0000ff"/><path d="M1460.78 66.03L1467.34 54.15L1454.21 54.15Z" fill="#0000ff"/><path d="M1479.95 66.03L1486.51 54.15L1473.38 54.15Z" fill="#0000ff"/><path d="M1499.11 65.87L1505.68 54L1492.55 54Z" fill="#0000ff"/><path d="M1518.28 65.48L1524.85 53.6L1511.72 53.6Z" fill="#0000ff"/><path d="M1537.45 64.68L1544.01 52.81L1530.89 52.81Z" fill="#0000ff"/><path d="M1556.62 62.54L1563.18 50.67L1550.06 50.67Z" fill="#0000ff"/><path d="M1575.79 59.76L1582.35 47.89L1569.23 47.89Z" fill="#0000ff"/><path d="M1594.96 55.88L1601.52 44L1588.39 44Z" fill="#0000ff"/><path d="M1614.13 53.29L1620.69 41.41L1607.56 41.41Z" fill="#0000ff"/><path d="M1633.29 52.13L1639.86 40.26L1626.73 40.26Z" fill="#0000ff"/><path d="M1652.46 54.31L1659.03 42.44L1645.9 42.44Z" fill="#0000ff"/><path d="M1671.63 70.66L1678.19 58.78L1665.07 58.78Z" fill="#0000ff"/><path d="M1690.8 111.52L1697.36 99.64L1684.24 99.64Z" fill="#0000ff"/>
<path d="M1019.9 111.2L1021.82 108.8L1023.73 106.44L1025.65 104.13L1027.57 101.87L1029.48 99.65L1031.4 97.49L1033.32 95.39L1035.23 93.34L1037.15 91.34L1039.07 89.41L1040.99 87.53L1042.9 85.68L1044.82 83.88L1046.74 82.12L1048.65 80.41L1050.57 78.74L1052.49 77.11L1054.4 75.53L1056.32 74L1058.24 72.52L1060.15 71.06L1062.07 69.59L1063.99 68.14L1065.9 66.72L1067.82 65.35L1069.74 64.04L1071.66 62.8L1073.57 61.66L1075.49 60.63L1077.41 59.72L1079.32 58.9L1081.24 58.14L1083.16 57.43L1085.07 56.76L1086.99 56.13L1088.91 55.53L1090.82 54.97L1092.74 54.44L1094.66 53.94L1096.57 53.45L1098.49 52.97L1100.41 52.49L1102.32 52.01L1104.24 51.55L1106.16 51.11L1108.08 50.71L1109.99 50.35L1111.91 50.04L1113.83 49.81L1115.74 49.64L1117.66 49.52L1119.58 49.4L1121.49 49.29L1123.41 49.18L1125.33 49.07L1127.24 48.98L1129.16 48.89L1131.08 48.8L1132.99 48.72L1134.91 48.65L1136.83 48.58L1138.75 48.52L1140.66 48.46L1142.58 48.41L1144.5 48.37L1146.41 48.34L1148.33 48.31L1150.25 48.29L1152.16 48.28L1154.08 48.28L1156 48.28L1157.91 48.29L1159.83 48.31L1161.75 48.33L1163.66 48.36L1165.58 48.4L1167.5 48.44L1169.41 48.48L1171.33 48.53L1173.25 48.59L1175.17 48.64L1177.08 48.7L1179 48.77L1180.92 48.83L1182.83 48.9L1184.75 48.97L1186.67 49.04L1188.58 49.11L1190.5 49.19L1192.42 49.26L1194.33 49.33L1196.25 49.4L1198.17 49.47L1200.08 49.54L1202 49.61L1203.92 49.68L1205.84 49.74L1207.75 49.8L1209.67 49.86L1211.59 49.91L1213.5 49.96L1215.42 50.02L1217.34 50.07L1219.25 50.13L1221.17 50.18L1223.09 50.24L1225 50.3L1226.92 50.35L1228.84 50.41L1230.75 50.47L1232.67 50.53L1234.59 50.59L1236.5 50.65L1238.42 50.71L1240.34 50.77L1242.26 50.83L1244.17 50.89L1246.09 50.94L1248.01 51L1249.92 51.06L1251.84 51.12L1253.76 51.18L1255.67 51.24L1257.59 51.29L1259.51 51.35L1261.42 51.41L1263.34 51.46L1265.26 51.52L1267.17 51.57L1269.09 51.62L1271.01 51.67L1272.93 51.72L1274.84 51.77L1276.76 51.82L1278.68 51.87L1280.59 51.91L1282.51 51.96L1284.43 52L1286.34 52.04L1288.26 52.08L1290.18 52.11L1292.09 52.15L1294.01 52.18L1295.93 52.22L1297.84 52.25L1299.76 52.27L1301.68 52.3L1303.59 52.32L1305.51 52.34L1307.43 52.36L1309.35 52.38L1311.26 52.4L1313.18 52.41L1315.1 52.43L1317.01 52.45L1318.93 52.46L1320.85 52.48L1322.76 52.49L1324.68 52.5L1326.6 52.52L1328.51 52.53L1330.43 52.54L1332.35 52.55L1334.26 52.57L1336.18 52.58L1338.1 52.59L1340.02 52.6L1341.93 52.61L1343.85 52.62L1345.77 52.63L1347.68 52.64L1349.6 52.65L1351.52 52.66L1353.43 52.67L1355.35 52.68L1357.27 52.69L1359.18 52.7L1361.1 52.71L1363.02 52.72L1364.93 52.72L1366.85 52.73L1368.77 52.74L1370.68 52.75L1372.6 52.76L1374.52 52.77L1376.44 52.78L1378.35 52.78L1380.27 52.79L1382.19 52.8L1384.1 52.81L1386.02 52.82L1387.94 52.83L1389.85 52.84L1391.77 52.85L1393.69 52.86L1395.6 52.87L1397.52 52.88L1399.44 52.89L1401.35 52.9L1403.27 52.91L1405.19 52.92L1407.11 52.93L1409.02 52.94L1410.94 52.95L1412.86 52.96L1414.77 52.97L1416.69 52.98L1418.61 52.99L1420.52 53L1422.44 53.01L1424.36 53.02L1426.27 53.03L1428.19 53.04L1430.11 53.05L1432.02 53.06L1433.94 53.07L1435.86 53.08L1437.77 53.09L1439.69 53.1L1441.61 53.11L1443.53 53.12L1445.44 53.13L1447.36 53.14L1449.28 53.14L1451.19 53.15L1453.11 53.16L1455.03 53.17L1456.94 53.18L1458.86 53.19L1460.78 53.21L1462.69 53.22L1464.61 53.23L1466.53 53.24L1468.44 53.25L1470.36 53.26L1472.28 53.27L1474.2 53.28L1476.11 53.29L1478.03 53.31L1479.95 53.32L1481.86 53.33L1483.78 53.34L1485.7 53.36L1487.61 53.37L1489.53 53.38L1491.45 53.4L1493.36 53.41L1495.28 53.42L1497.2 53.44L1499.11 53.45L1501.03 53.47L1502.95 53.49L1504.86 53.51L1506.78 53.53L1508.7 53.56L1510.62 53.58L1512.53 53.61L1514.45 53.64L1516.37 53.67L1518.28 53.7L1520.2 53.73L1522.12 53.76L1524.03 53.79L1525.95 53.82L1527.87 53.84L1529.78 53.87L1531.7 53.89L1533.62 53.92L1535.53 53.94L1537.45 53.95L1539.37 53.97L1541.29 53.98L1543.2 53.99L1545.12 54L1547.04 54L1548.95 53.99L1550.87 53.97L1552.79 53.93L1554.7 53.88L1556.62 53.81L1558.54 53.73L1560.45 53.64L1562.37 53.55L1564.29 53.44L1566.2 53.32L1568.12 53.2L1570.04 53.07L1571.95 52.94L1573.87 52.8L1575.79 52.66L1577.71 52.52L1579.62 52.37L1581.54 52.23L1583.46 52.08L1585.37 51.94L1587.29 51.8L1589.21 51.66L1591.12 51.52L1593.04 51.4L1594.96 51.27L1596.87 51.15L1598.79 51.01L1600.71 50.87L1602.62 50.71L1604.54 50.55L1606.46 50.39L1608.38 50.22L1610.29 50.04L1612.21 49.87L1614.13 49.7L1616.04 49.52L1617.96 49.35L1619.88 49.19L1621.79 49.02L1623.71 48.87L1625.63 48.72L1627.54 48.59L1629.46 48.46L1631.38 48.35L1633.29 48.25L1635.21 48.17L1637.13 48.1L1639.04 48.05L1640.96 48.02L1642.88 48.01L1644.8 48.03L1646.71 48.1L1648.63 48.21L1650.55 48.36L1652.46 48.55L1654.38 48.77L1656.3 49.02L1658.21 49.3L1660.13 49.6L1662.05 49.91L1663.96 50.35L1665.88 51.01L1667.8 51.88L1669.71 52.95L1671.63 54.21L1673.55 55.64L1675.47 57.24L1677.38 58.98L1679.3 60.86L1681.22 62.88L1683.13 65L1685.05 67.23L1686.97 69.56L1688.88 71.96L1690.8 74.43" fill="none" stroke="#00ffff" stroke-width="6.4" stroke-linejoin="round" stroke-linecap="butt"/>
<path d="M1019.9 103.7L1025.21 111.2L1019.9 118.7L1014.59 111.2Z" fill="#00ffff"/><path d="M1039.07 81.91L1044.38 89.41L1039.07 96.91L1033.76 89.41Z" fill="#00ffff"/><path d="M1058.24 65.02L1063.55 72.52L1058.24 80.02L1052.92 72.52Z" fill="#00ffff"/><path d="M1077.41 52.22L1082.72 59.72L1077.41 67.22L1072.09 59.72Z" fill="#00ffff"/><path d="M1096.57 45.95L1101.89 53.45L1096.57 60.95L1091.26 53.45Z" fill="#00ffff"/><path d="M1115.74 42.14L1121.06 49.64L1115.74 57.14L1110.43 49.64Z" fill="#00ffff"/><path d="M1134.91 41.15L1140.22 48.65L1134.91 56.15L1129.6 48.65Z" fill="#00ffff"/><path d="M1154.08 40.78L1159.39 48.28L1154.08 55.78L1148.77 48.28Z" fill="#00ffff"/><path d="M1173.25 41.09L1178.56 48.59L1173.25 56.09L1167.94 48.59Z" fill="#00ffff"/><path d="M1192.42 41.76L1197.73 49.26L1192.42 56.76L1187.1 49.26Z" fill="#00ffff"/><path d="M1211.59 42.41L1216.9 49.91L1211.59 57.41L1206.27 49.91Z" fill="#00ffff"/><path d="M1230.75 42.97L1236.07 50.47L1230.75 57.97L1225.44 50.47Z" fill="#00ffff"/><path d="M1249.92 43.56L1255.24 51.06L1249.92 58.56L1244.61 51.06Z" fill="#00ffff"/><path d="M1269.09 44.12L1274.4 51.62L1269.09 59.12L1263.78 51.62Z" fill="#00ffff"/><path d="M1288.26 44.58L1293.57 52.08L1288.26 59.58L1282.95 52.08Z" fill="#00ffff"/><path d="M1307.43 44.86L1312.74 52.36L1307.43 59.86L1302.12 52.36Z" fill="#00ffff"/><path d="M1326.6 45.02L1331.91 52.52L1326.6 60.02L1321.28 52.52Z" fill="#00ffff"/><path d="M1345.77 45.13L1351.08 52.63L1345.77 60.13L1340.45 52.63Z" fill="#00ffff"/><path d="M1364.93 45.22L1370.25 52.72L1364.93 60.22L1359.62 52.72Z" fill="#00ffff"/><path d="M1384.1 45.31L1389.42 52.81L1384.1 60.31L1378.79 52.81Z" fill="#00ffff"/><path d="M1403.27 45.41L1408.58 52.91L1403.27 60.41L1397.96 52.91Z" fill="#00ffff"/><path d="M1422.44 45.51L1427.75 53.01L1422.44 60.51L1417.13 53.01Z" fill="#00ffff"/><path d="M1441.61 45.61L1446.92 53.11L1441.61 60.61L1436.3 53.11Z" fill="#00ffff"/><path d="M1460.78 45.71L1466.09 53.21L1460.78 60.71L1455.46 53.21Z" fill="#00ffff"/><path d="M1479.95 45.82L1485.26 53.32L1479.95 60.82L1474.63 53.32Z" fill="#00ffff"/><path d="M1499.11 45.95L1504.43 53.45L1499.11 60.95L1493.8 53.45Z" fill="#00ffff"/><path d="M1518.28 46.2L1523.6 53.7L1518.28 61.2L1512.97 53.7Z" fill="#00ffff"/><path d="M1537.45 46.45L1542.76 53.95L1537.45 61.45L1532.14 53.95Z" fill="#00ffff"/><path d="M1556.62 46.31L1561.93 53.81L1556.62 61.31L1551.31 53.81Z" fill="#00ffff"/><path d="M1575.79 45.16L1581.1 52.66L1575.79 60.16L1570.48 52.66Z" fill="#00ffff"/><path d="M1594.96 43.77L1600.27 51.27L1594.96 58.77L1589.64 51.27Z" fill="#00ffff"/><path d="M1614.13 42.2L1619.44 49.7L1614.13 57.2L1608.81 49.7Z" fill="#00ffff"/><path d="M1633.29 40.75L1638.61 48.25L1633.29 55.75L1627.98 48.25Z" fill="#00ffff"/><path d="M1652.46 41.05L1657.78 48.55L1652.46 56.05L1647.15 48.55Z" fill="#00ffff"/><path d="M1671.63 46.71L1676.94 54.21L1671.63 61.71L1666.32 54.21Z" fill="#00ffff"/><path d="M1690.8 66.93L1696.11 74.43L1690.8 81.93L1685.49 74.43Z" fill="#00ffff"/>
<path d="M1019.9 559.3v10.5M1115.74 559.3v10.5M1211.59 559.3v10.5M1307.43 559.3v10.5M1403.27 559.3v10.5M1499.11 559.3v10.5M1594.96 559.3v10.5M1690.8 559.3v10.5M1067.82 559.3v5.5M1163.66 559.3v5.5M1259.51 559.3v5.5M1355.35 559.3v5.5M1451.19 559.3v5.5M1547.04 559.3v5.5M1642.88 559.3v5.5M1019.9 14.5h-10.5M1019.9 123.46h-10.5M1019.9 232.42h-10.5M1019.9 341.38h-10.5M1019.9 450.34h-10.5M1019.9 559.3h-10.5M1019.9 68.98h-5.5M1019.9 177.94h-5.5M1019.9 286.9h-5.5M1019.9 395.86h-5.5M1019.9 504.82h-5.5" stroke="#000" stroke-width="2.0" fill="none"/>
<text transform="translate(1002.6 25.2) scale(1 1.02)" font-family="'Liberation Sans', Arial, sans-serif" font-size="36" text-anchor="end" >0.0</text>
<text transform="translate(1002.6 134.16) scale(1 1.02)" font-family="'Liberation Sans', Arial, sans-serif" font-size="36" text-anchor="end" >-0.4</text>
<text transform="translate(1002.6 243.12) scale(1 1.02)" font-family="'Liberation Sans', Arial, sans-serif" font-size="36" text-anchor="end" >-0.8</text>
<text transform="translate(1002.6 352.08) scale(1 1.02)" font-family="'Liberation Sans', Arial, sans-serif" font-size="36" text-anchor="end" >-1.2</text>
<text transform="translate(1002.6 461.04) scale(1 1.02)" font-family="'Liberation Sans', Arial, sans-serif" font-size="36" text-anchor="end" >-1.6</text>
<text transform="translate(1002.6 570) scale(1 1.02)" font-family="'Liberation Sans', Arial, sans-serif" font-size="36" text-anchor="end" >-2.0</text>
<text transform="translate(1019.9 605.3) scale(1 1.03)" font-family="'Liberation Sans', Arial, sans-serif" font-size="35" text-anchor="middle" >11</text>
<text transform="translate(1115.74 605.3) scale(1 1.03)" font-family="'Liberation Sans', Arial, sans-serif" font-size="35" text-anchor="middle" >12</text>
<text transform="translate(1211.59 605.3) scale(1 1.03)" font-family="'Liberation Sans', Arial, sans-serif" font-size="35" text-anchor="middle" >13</text>
<text transform="translate(1307.43 605.3) scale(1 1.03)" font-family="'Liberation Sans', Arial, sans-serif" font-size="35" text-anchor="middle" >14</text>
<text transform="translate(1403.27 605.3) scale(1 1.03)" font-family="'Liberation Sans', Arial, sans-serif" font-size="35" text-anchor="middle" >15</text>
<text transform="translate(1499.11 605.3) scale(1 1.03)" font-family="'Liberation Sans', Arial, sans-serif" font-size="35" text-anchor="middle" >16</text>
<text transform="translate(1594.96 605.3) scale(1 1.03)" font-family="'Liberation Sans', Arial, sans-serif" font-size="35" text-anchor="middle" >17</text>
<text transform="translate(1690.8 605.3) scale(1 1.03)" font-family="'Liberation Sans', Arial, sans-serif" font-size="35" text-anchor="middle" >18</text>
<text transform="translate(1355.75 665) scale(1 1.03)" font-family="'Liberation Sans', Arial, sans-serif" font-size="38.6" text-anchor="middle" >Frequency(GHz)</text>
<text transform="translate(907.2 273.2) rotate(-90)" font-family="'Liberation Sans', Arial, sans-serif" font-size="38.8" text-anchor="middle">Magnitude(dB)</text>
<text transform="translate(1354.2 718)" font-family="'Liberation Serif', 'Times New Roman', serif" font-size="33" text-anchor="middle" >(c)</text>
<rect x="1525.5" y="316.3" width="165.3" height="243" fill="#fff" stroke="#222" stroke-width="1.3"/>
<path d="M1530.6 342.8H1615.7" stroke="#000000" stroke-width="6.5"/>
<rect x="1566.15" y="336.05" width="13.5" height="13.5" fill="#000000"/>
<text transform="translate(1625.5 356.2) scale(1 1.05)" font-family="'Liberation Sans', Arial, sans-serif" font-size="37.7" text-anchor="start" >0°</text>
<path d="M1530.6 389.6H1615.7" stroke="#ff0000" stroke-width="6.5"/>
<circle cx="1572.9" cy="389.6" r="6.75" fill="#ff0000"/>
<text transform="translate(1625.5 403) scale(1 1.05)" font-family="'Liberation Sans', Arial, sans-serif" font-size="37.7" text-anchor="start" >10°</text>
<path d="M1530.6 436.9H1615.7" stroke="#00ff00" stroke-width="6.5"/>
<path d="M1572.9 429.2L1579.99 442.03L1565.81 442.03Z" fill="#00ff00"/>
<text transform="translate(1625.5 450.3) scale(1 1.05)" font-family="'Liberation Sans', Arial, sans-serif" font-size="37.7" text-anchor="start" >20°</text>
<path d="M1530.6 484.4H1615.7" stroke="#0000ff" stroke-width="6.5"/>
<path d="M1572.9 492.09L1579.99 479.27L1565.81 479.27Z" fill="#0000ff"/>
<text transform="translate(1625.5 497.8) scale(1 1.05)" font-family="'Liberation Sans', Arial, sans-serif" font-size="37.7" text-anchor="start" >30°</text>
<path d="M1530.6 531.8H1615.7" stroke="#00ffff" stroke-width="6.5"/>
<path d="M1572.9 523.7L1578.64 531.8L1572.9 539.9L1567.16 531.8Z" fill="#00ffff"/>
<text transform="translate(1625.5 545.2) scale(1 1.05)" font-family="'Liberation Sans', Arial, sans-serif" font-size="37.7" text-anchor="start" >40°</text>
<path d="M1524 559.3H1690.8V310" fill="none" stroke="#000" stroke-width="2.2"/>
<rect x="1022.3" y="762.4" width="679" height="542.7" fill="none" stroke="#000" stroke-width="2.2"/>
<path d="M1022.3 1060.88L1024.25 1061.88L1026.19 1062.87L1028.14 1063.85L1030.08 1064.83L1032.03 1065.81L1033.98 1066.78L1035.92 1067.74L1037.87 1068.7L1039.81 1069.65L1041.76 1070.6L1043.71 1071.55L1045.65 1072.49L1047.6 1073.42L1049.54 1074.35L1051.49 1075.27L1053.44 1076.19L1055.38 1077.11L1057.33 1078.02L1059.27 1078.92L1061.22 1079.83L1063.17 1080.72L1065.11 1081.62L1067.06 1082.5L1069 1083.38L1070.95 1084.26L1072.9 1085.13L1074.84 1085.99L1076.79 1086.85L1078.73 1087.7L1080.68 1088.55L1082.63 1089.39L1084.57 1090.23L1086.52 1091.06L1088.46 1091.89L1090.41 1092.71L1092.36 1093.54L1094.3 1094.35L1096.25 1095.17L1098.19 1095.98L1100.14 1096.79L1102.09 1097.6L1104.03 1098.4L1105.98 1099.2L1107.92 1100L1109.87 1100.79L1111.82 1101.59L1113.76 1102.38L1115.71 1103.17L1117.65 1103.95L1119.6 1104.74L1121.55 1105.52L1123.49 1106.3L1125.44 1107.08L1127.38 1107.85L1129.33 1108.63L1131.28 1109.4L1133.22 1110.18L1135.17 1110.95L1137.11 1111.72L1139.06 1112.49L1141.01 1113.25L1142.95 1114.02L1144.9 1114.79L1146.84 1115.55L1148.79 1116.32L1150.74 1117.08L1152.68 1117.85L1154.63 1118.61L1156.57 1119.38L1158.52 1120.14L1160.47 1120.9L1162.41 1121.67L1164.36 1122.43L1166.3 1123.2L1168.25 1123.96L1170.2 1124.73L1172.14 1125.49L1174.09 1126.26L1176.03 1127.03L1177.98 1127.79L1179.92 1128.56L1181.87 1129.33L1183.82 1130.11L1185.76 1130.88L1187.71 1131.65L1189.65 1132.43L1191.6 1133.21L1193.55 1133.99L1195.49 1134.77L1197.44 1135.55L1199.38 1136.33L1201.33 1137.12L1203.28 1137.91L1205.22 1138.7L1207.17 1139.5L1209.11 1140.29L1211.06 1141.09L1213.01 1141.89L1214.95 1142.69L1216.9 1143.49L1218.84 1144.28L1220.79 1145.08L1222.74 1145.88L1224.68 1146.69L1226.63 1147.49L1228.57 1148.29L1230.52 1149.09L1232.47 1149.89L1234.41 1150.7L1236.36 1151.5L1238.3 1152.3L1240.25 1153.11L1242.2 1153.91L1244.14 1154.72L1246.09 1155.52L1248.03 1156.33L1249.98 1157.13L1251.93 1157.94L1253.87 1158.75L1255.82 1159.55L1257.76 1160.36L1259.71 1161.17L1261.66 1161.98L1263.6 1162.79L1265.55 1163.6L1267.49 1164.41L1269.44 1165.22L1271.39 1166.03L1273.33 1166.84L1275.28 1167.65L1277.22 1168.47L1279.17 1169.28L1281.12 1170.09L1283.06 1170.9L1285.01 1171.72L1286.95 1172.53L1288.9 1173.35L1290.85 1174.16L1292.79 1174.98L1294.74 1175.79L1296.68 1176.61L1298.63 1177.43L1300.58 1178.24L1302.52 1179.06L1304.47 1179.88L1306.41 1180.7L1308.36 1181.52L1310.31 1182.33L1312.25 1183.15L1314.2 1183.97L1316.14 1184.79L1318.09 1185.62L1320.04 1186.44L1321.98 1187.26L1323.93 1188.08L1325.87 1188.9L1327.82 1189.73L1329.77 1190.55L1331.71 1191.37L1333.66 1192.2L1335.6 1193.02L1337.55 1193.85L1337.55 870.94L1339.5 871.66L1341.44 872.39L1343.39 873.11L1345.33 873.83L1347.28 874.56L1349.22 875.28L1351.17 876.01L1353.11 876.74L1355.06 877.46L1357 878.19L1358.95 878.91L1360.89 879.64L1362.84 880.37L1364.78 881.09L1366.73 881.82L1368.67 882.55L1370.62 883.28L1372.56 884.01L1374.51 884.74L1376.45 885.47L1378.4 886.19L1380.34 886.92L1382.29 887.65L1384.23 888.39L1386.18 889.12L1388.12 889.85L1390.07 890.58L1392.02 891.31L1393.96 892.04L1395.91 892.77L1397.85 893.51L1399.8 894.24L1401.74 894.97L1403.69 895.71L1405.63 896.44L1407.58 897.18L1409.52 897.91L1411.47 898.65L1413.41 899.38L1415.36 900.12L1417.3 900.85L1419.25 901.59L1421.19 902.32L1423.14 903.06L1425.08 903.8L1427.03 904.53L1428.97 905.27L1430.92 906.01L1432.86 906.75L1434.81 907.49L1436.75 908.23L1438.7 908.97L1440.64 909.7L1442.59 910.44L1444.54 911.18L1446.48 911.92L1448.43 912.67L1450.37 913.41L1452.32 914.15L1454.26 914.89L1456.21 915.63L1458.15 916.37L1460.1 917.12L1462.04 917.86L1463.99 918.6L1465.93 919.35L1467.88 920.09L1469.82 920.83L1471.77 921.58L1473.71 922.32L1475.66 923.07L1477.6 923.81L1479.55 924.56L1481.49 925.3L1483.44 926.05L1485.38 926.8L1487.33 927.54L1489.27 928.29L1491.22 929.04L1493.16 929.79L1495.11 930.53L1497.06 931.28L1499 932.03L1500.95 932.78L1502.89 933.53L1504.84 934.28L1506.78 935.03L1508.73 935.78L1510.67 936.53L1512.62 937.28L1514.56 938.03L1516.51 938.78L1518.45 939.53L1520.4 940.28L1522.34 941.04L1524.29 941.79L1526.23 942.54L1528.18 943.29L1530.12 944.05L1532.07 944.8L1534.01 945.56L1535.96 946.31L1537.9 947.07L1539.85 947.82L1541.79 948.58L1543.74 949.33L1545.69 950.09L1547.63 950.84L1549.58 951.6L1551.52 952.36L1553.47 953.11L1555.41 953.87L1557.36 954.63L1559.3 955.39L1561.25 956.15L1563.19 956.91L1565.14 957.67L1567.08 958.42L1569.03 959.18L1570.97 959.94L1572.92 960.71L1574.86 961.47L1576.81 962.23L1578.75 962.99L1580.7 963.75L1582.64 964.51L1584.59 965.28L1586.53 966.04L1588.48 966.8L1590.42 967.56L1592.37 968.33L1594.31 969.09L1596.26 969.86L1598.21 970.62L1600.15 971.39L1602.1 972.15L1604.04 972.92L1605.99 973.68L1607.93 974.45L1609.88 975.21L1611.82 975.98L1613.77 976.75L1615.71 977.52L1617.66 978.28L1619.6 979.05L1621.55 979.82L1623.49 980.59L1625.44 981.36L1627.38 982.13L1629.33 982.9L1631.27 983.67L1633.22 984.44L1635.16 985.21L1637.11 985.98L1639.05 986.75L1641 987.52L1642.94 988.29L1644.89 989.06L1646.83 989.84L1648.78 990.61L1650.73 991.38L1652.67 992.16L1654.62 992.93L1656.56 993.7L1658.51 994.48L1660.45 995.25L1662.4 996.03L1664.34 996.8L1666.29 997.58L1668.23 998.35L1670.18 999.13L1672.12 999.91L1674.07 1000.68L1676.01 1001.46L1677.96 1002.24L1679.9 1003.02L1681.85 1003.79L1683.79 1004.57L1685.74 1005.35L1687.68 1006.13L1689.63 1006.91L1691.57 1007.69L1693.52 1008.47L1695.46 1009.25L1697.41 1010.03L1699.35 1010.81L1701.3 1011.59" fill="none" stroke="#000000" stroke-width="6.4" stroke-linejoin="round" stroke-linecap="butt"/>
<rect x="1016.3" y="1054.88" width="12" height="12" fill="#000000"/><rect x="1035.7" y="1064.57" width="12" height="12" fill="#000000"/><rect x="1055.1" y="1073.77" width="12" height="12" fill="#000000"/><rect x="1074.5" y="1082.47" width="12" height="12" fill="#000000"/><rect x="1093.9" y="1090.69" width="12" height="12" fill="#000000"/><rect x="1113.3" y="1098.62" width="12" height="12" fill="#000000"/><rect x="1132.7" y="1106.34" width="12" height="12" fill="#000000"/><rect x="1152.1" y="1113.97" width="12" height="12" fill="#000000"/><rect x="1171.5" y="1121.6" width="12" height="12" fill="#000000"/><rect x="1190.9" y="1129.33" width="12" height="12" fill="#000000"/><rect x="1210.3" y="1137.24" width="12" height="12" fill="#000000"/><rect x="1229.7" y="1145.23" width="12" height="12" fill="#000000"/><rect x="1249.1" y="1153.26" width="12" height="12" fill="#000000"/><rect x="1268.5" y="1161.33" width="12" height="12" fill="#000000"/><rect x="1287.9" y="1169.44" width="12" height="12" fill="#000000"/><rect x="1307.3" y="1177.6" width="12" height="12" fill="#000000"/><rect x="1326.7" y="1185.79" width="12" height="12" fill="#000000"/><rect x="1346.1" y="870.36" width="12" height="12" fill="#000000"/><rect x="1365.5" y="877.61" width="12" height="12" fill="#000000"/><rect x="1384.9" y="884.89" width="12" height="12" fill="#000000"/><rect x="1404.3" y="892.2" width="12" height="12" fill="#000000"/><rect x="1423.7" y="899.55" width="12" height="12" fill="#000000"/><rect x="1443.1" y="906.92" width="12" height="12" fill="#000000"/><rect x="1462.5" y="914.33" width="12" height="12" fill="#000000"/><rect x="1481.9" y="921.76" width="12" height="12" fill="#000000"/><rect x="1501.3" y="929.23" width="12" height="12" fill="#000000"/><rect x="1520.7" y="936.72" width="12" height="12" fill="#000000"/><rect x="1540.1" y="944.25" width="12" height="12" fill="#000000"/><rect x="1559.5" y="951.81" width="12" height="12" fill="#000000"/><rect x="1578.9" y="959.4" width="12" height="12" fill="#000000"/><rect x="1598.3" y="967.02" width="12" height="12" fill="#000000"/><rect x="1617.7" y="974.67" width="12" height="12" fill="#000000"/><rect x="1637.1" y="982.35" width="12" height="12" fill="#000000"/><rect x="1656.5" y="990.07" width="12" height="12" fill="#000000"/><rect x="1675.9" y="997.81" width="12" height="12" fill="#000000"/><rect x="1695.3" y="1005.59" width="12" height="12" fill="#000000"/>
<path d="M1022.3 1063.06L1024.25 1064.02L1026.19 1064.97L1028.14 1065.93L1030.08 1066.87L1032.03 1067.82L1033.98 1068.75L1035.92 1069.69L1037.87 1070.61L1039.81 1071.54L1041.76 1072.46L1043.71 1073.37L1045.65 1074.28L1047.6 1075.18L1049.54 1076.08L1051.49 1076.97L1053.43 1077.86L1055.38 1078.74L1057.33 1079.62L1059.27 1080.5L1061.22 1081.37L1063.16 1082.24L1065.11 1083.1L1067.06 1083.95L1069 1084.81L1070.95 1085.65L1072.89 1086.49L1074.84 1087.33L1076.79 1088.16L1078.73 1088.99L1080.68 1089.81L1082.62 1090.63L1084.57 1091.45L1086.52 1092.26L1088.46 1093.07L1090.41 1093.87L1092.35 1094.67L1094.3 1095.47L1096.24 1096.27L1098.19 1097.06L1100.14 1097.85L1102.08 1098.64L1104.03 1099.43L1105.97 1100.21L1107.92 1101L1109.87 1101.77L1111.81 1102.55L1113.76 1103.33L1115.7 1104.1L1117.65 1104.87L1119.6 1105.64L1121.54 1106.41L1123.49 1107.18L1125.43 1107.94L1127.38 1108.7L1129.33 1109.47L1131.27 1110.23L1133.22 1110.99L1135.16 1111.75L1137.11 1112.5L1139.05 1113.26L1141 1114.02L1142.95 1114.77L1144.89 1115.52L1146.84 1116.28L1148.78 1117.03L1150.73 1117.78L1152.68 1118.54L1154.62 1119.29L1156.57 1120.04L1158.51 1120.79L1160.46 1121.55L1162.41 1122.3L1164.35 1123.05L1166.3 1123.8L1168.24 1124.55L1170.19 1125.31L1172.14 1126.06L1174.08 1126.82L1176.03 1127.57L1177.97 1128.33L1179.92 1129.08L1181.86 1129.84L1183.81 1130.6L1185.76 1131.36L1187.7 1132.12L1189.65 1132.88L1191.59 1133.65L1193.54 1134.41L1195.49 1135.18L1197.43 1135.95L1199.38 1136.72L1201.32 1137.49L1203.27 1138.26L1205.22 1139.04L1207.16 1139.81L1209.11 1140.59L1211.05 1141.38L1213 1142.16L1214.95 1142.94L1216.89 1143.73L1218.84 1144.51L1220.78 1145.3L1222.73 1146.08L1224.68 1146.87L1226.62 1147.65L1228.57 1148.44L1230.51 1149.23L1232.46 1150.01L1234.4 1150.8L1236.35 1151.59L1238.3 1152.38L1240.24 1153.17L1242.19 1153.96L1244.13 1154.75L1246.08 1155.54L1248.03 1156.33L1249.97 1157.12L1251.92 1157.91L1253.86 1158.7L1255.81 1159.49L1257.76 1160.29L1259.7 1161.08L1261.65 1161.87L1263.59 1162.67L1265.54 1163.46L1267.49 1164.25L1269.43 1165.05L1271.38 1165.85L1273.32 1166.64L1275.27 1167.44L1277.21 1168.23L1279.16 1169.03L1281.11 1169.83L1283.05 1170.63L1285 1171.42L1286.94 1172.22L1288.89 1173.02L1290.84 1173.82L1292.78 1174.62L1294.73 1175.42L1296.67 1176.22L1298.62 1177.02L1300.57 1177.83L1302.51 1178.63L1304.46 1179.43L1306.4 1180.23L1308.35 1181.04L1310.3 1181.84L1312.24 1182.64L1314.19 1183.45L1316.13 1184.25L1318.08 1185.06L1320.02 1185.86L1321.97 1186.67L1323.92 1187.48L1325.86 1188.28L1327.81 1189.09L1329.75 1189.9L1331.7 1190.71L1333.65 1191.51L1335.59 1192.32L1337.54 1193.13L1339.48 1193.94L1341.43 1194.75L1341.43 872.48L1343.38 873.2L1345.32 873.91L1347.27 874.63L1349.21 875.35L1351.16 876.07L1353.1 876.79L1355.05 877.51L1356.99 878.23L1358.94 878.95L1360.88 879.67L1362.83 880.39L1364.77 881.11L1366.72 881.84L1368.66 882.56L1370.61 883.28L1372.55 884L1374.5 884.73L1376.44 885.45L1378.39 886.17L1380.33 886.9L1382.28 887.62L1384.23 888.35L1386.17 889.07L1388.12 889.8L1390.06 890.52L1392.01 891.25L1393.95 891.97L1395.9 892.7L1397.84 893.43L1399.79 894.15L1401.73 894.88L1403.68 895.61L1405.62 896.34L1407.57 897.07L1409.51 897.79L1411.46 898.52L1413.4 899.25L1415.35 899.98L1417.29 900.71L1419.24 901.44L1421.18 902.17L1423.13 902.91L1425.08 903.64L1427.02 904.37L1428.97 905.1L1430.91 905.83L1432.86 906.56L1434.8 907.3L1436.75 908.03L1438.69 908.76L1440.64 909.5L1442.58 910.23L1444.53 910.97L1446.47 911.7L1448.42 912.44L1450.36 913.17L1452.31 913.91L1454.25 914.64L1456.2 915.38L1458.14 916.12L1460.09 916.85L1462.04 917.59L1463.98 918.33L1465.93 919.07L1467.87 919.8L1469.82 920.54L1471.76 921.28L1473.71 922.02L1475.65 922.76L1477.6 923.5L1479.54 924.24L1481.49 924.98L1483.43 925.72L1485.38 926.46L1487.32 927.2L1489.27 927.94L1491.21 928.69L1493.16 929.43L1495.1 930.17L1497.05 930.91L1498.99 931.66L1500.94 932.4L1502.89 933.14L1504.83 933.89L1506.78 934.63L1508.72 935.38L1510.67 936.12L1512.61 936.87L1514.56 937.61L1516.5 938.36L1518.45 939.1L1520.39 939.85L1522.34 940.6L1524.28 941.35L1526.23 942.09L1528.17 942.84L1530.12 943.59L1532.06 944.34L1534.01 945.09L1535.95 945.83L1537.9 946.58L1539.84 947.33L1541.79 948.08L1543.74 948.83L1545.68 949.59L1547.63 950.34L1549.57 951.09L1551.52 951.84L1553.46 952.59L1555.41 953.34L1557.35 954.1L1559.3 954.85L1561.24 955.6L1563.19 956.36L1565.13 957.11L1567.08 957.86L1569.02 958.62L1570.97 959.37L1572.91 960.13L1574.86 960.89L1576.8 961.64L1578.75 962.4L1580.69 963.15L1582.64 963.91L1584.59 964.67L1586.53 965.43L1588.48 966.18L1590.42 966.94L1592.37 967.7L1594.31 968.46L1596.26 969.22L1598.2 969.98L1600.15 970.74L1602.09 971.5L1604.04 972.26L1605.98 973.02L1607.93 973.78L1609.87 974.54L1611.82 975.3L1613.76 976.06L1615.71 976.83L1617.65 977.59L1619.6 978.35L1621.55 979.12L1623.49 979.88L1625.44 980.64L1627.38 981.41L1629.33 982.17L1631.27 982.94L1633.22 983.7L1635.16 984.47L1637.11 985.23L1639.05 986L1641 986.77L1642.94 987.53L1644.89 988.3L1646.83 989.07L1648.78 989.84L1650.72 990.6L1652.67 991.37L1654.61 992.14L1656.56 992.91L1658.5 993.68L1660.45 994.45L1662.4 995.22L1664.34 995.99L1666.29 996.76L1668.23 997.53L1670.18 998.3L1672.12 999.07L1674.07 999.85L1676.01 1000.62L1677.96 1001.39L1679.9 1002.16L1681.85 1002.94L1683.79 1003.71L1685.74 1004.48L1687.68 1005.26L1689.63 1006.03L1691.57 1006.81L1693.52 1007.58L1695.46 1008.36L1697.41 1009.13L1699.35 1009.91L1701.3 1010.69" fill="none" stroke="#ff0000" stroke-width="6.4" stroke-linejoin="round" stroke-linecap="butt"/>
<circle cx="1022.3" cy="1063.06" r="6.25" fill="#ff0000"/><circle cx="1041.7" cy="1072.43" r="6.25" fill="#ff0000"/><circle cx="1061.1" cy="1081.32" r="6.25" fill="#ff0000"/><circle cx="1080.5" cy="1089.74" r="6.25" fill="#ff0000"/><circle cx="1099.9" cy="1097.76" r="6.25" fill="#ff0000"/><circle cx="1119.3" cy="1105.53" r="6.25" fill="#ff0000"/><circle cx="1138.7" cy="1113.12" r="6.25" fill="#ff0000"/><circle cx="1158.1" cy="1120.63" r="6.25" fill="#ff0000"/><circle cx="1177.5" cy="1128.14" r="6.25" fill="#ff0000"/><circle cx="1196.9" cy="1135.74" r="6.25" fill="#ff0000"/><circle cx="1216.3" cy="1143.49" r="6.25" fill="#ff0000"/><circle cx="1235.7" cy="1151.33" r="6.25" fill="#ff0000"/><circle cx="1255.1" cy="1159.2" r="6.25" fill="#ff0000"/><circle cx="1274.5" cy="1167.12" r="6.25" fill="#ff0000"/><circle cx="1293.9" cy="1175.08" r="6.25" fill="#ff0000"/><circle cx="1313.3" cy="1183.08" r="6.25" fill="#ff0000"/><circle cx="1332.7" cy="1191.12" r="6.25" fill="#ff0000"/><circle cx="1352.1" cy="876.42" r="6.25" fill="#ff0000"/><circle cx="1371.5" cy="883.61" r="6.25" fill="#ff0000"/><circle cx="1390.9" cy="890.83" r="6.25" fill="#ff0000"/><circle cx="1410.3" cy="898.09" r="6.25" fill="#ff0000"/><circle cx="1429.7" cy="905.38" r="6.25" fill="#ff0000"/><circle cx="1449.1" cy="912.69" r="6.25" fill="#ff0000"/><circle cx="1468.5" cy="920.04" r="6.25" fill="#ff0000"/><circle cx="1487.9" cy="927.42" r="6.25" fill="#ff0000"/><circle cx="1507.3" cy="934.83" r="6.25" fill="#ff0000"/><circle cx="1526.7" cy="942.27" r="6.25" fill="#ff0000"/><circle cx="1546.1" cy="949.75" r="6.25" fill="#ff0000"/><circle cx="1565.5" cy="957.25" r="6.25" fill="#ff0000"/><circle cx="1584.9" cy="964.79" r="6.25" fill="#ff0000"/><circle cx="1604.3" cy="972.36" r="6.25" fill="#ff0000"/><circle cx="1623.7" cy="979.96" r="6.25" fill="#ff0000"/><circle cx="1643.1" cy="987.6" r="6.25" fill="#ff0000"/><circle cx="1662.5" cy="995.26" r="6.25" fill="#ff0000"/><circle cx="1681.9" cy="1002.96" r="6.25" fill="#ff0000"/><circle cx="1701.3" cy="1010.69" r="6.25" fill="#ff0000"/>
<path d="M1022.3 1053.83L1024.25 1054.79L1026.19 1055.75L1028.14 1056.71L1030.08 1057.66L1032.03 1058.6L1033.97 1059.54L1035.92 1060.48L1037.86 1061.41L1039.81 1062.34L1041.75 1063.26L1043.7 1064.17L1045.64 1065.09L1047.59 1065.99L1049.54 1066.89L1051.48 1067.79L1053.43 1068.68L1055.37 1069.57L1057.32 1070.45L1059.26 1071.33L1061.21 1072.21L1063.15 1073.08L1065.1 1073.94L1067.04 1074.8L1068.99 1075.66L1070.93 1076.51L1072.88 1077.35L1074.82 1078.19L1076.77 1079.02L1078.72 1079.85L1080.66 1080.67L1082.61 1081.49L1084.55 1082.3L1086.5 1083.11L1088.44 1083.91L1090.39 1084.72L1092.33 1085.52L1094.28 1086.32L1096.22 1087.11L1098.17 1087.9L1100.11 1088.69L1102.06 1089.48L1104.01 1090.26L1105.95 1091.04L1107.9 1091.82L1109.84 1092.6L1111.79 1093.37L1113.73 1094.14L1115.68 1094.91L1117.62 1095.68L1119.57 1096.45L1121.51 1097.21L1123.46 1097.98L1125.4 1098.74L1127.35 1099.49L1129.29 1100.25L1131.24 1101.01L1133.19 1101.76L1135.13 1102.52L1137.08 1103.27L1139.02 1104.02L1140.97 1104.77L1142.91 1105.51L1144.86 1106.26L1146.8 1107.01L1148.75 1107.75L1150.69 1108.5L1152.64 1109.24L1154.58 1109.98L1156.53 1110.73L1158.48 1111.47L1160.42 1112.21L1162.37 1112.95L1164.31 1113.69L1166.26 1114.43L1168.2 1115.17L1170.15 1115.91L1172.09 1116.66L1174.04 1117.4L1175.98 1118.14L1177.93 1118.88L1179.87 1119.62L1181.82 1120.36L1183.76 1121.1L1185.71 1121.84L1187.66 1122.59L1189.6 1123.33L1191.55 1124.08L1193.49 1124.82L1195.44 1125.57L1197.38 1126.31L1199.33 1127.06L1201.27 1127.81L1203.22 1128.56L1205.16 1129.31L1207.11 1130.07L1209.05 1130.82L1211 1131.58L1212.95 1132.33L1214.89 1133.09L1216.84 1133.85L1218.78 1134.62L1220.73 1135.38L1222.67 1136.15L1224.62 1136.91L1226.56 1137.68L1228.51 1138.46L1230.45 1139.23L1232.4 1140L1234.34 1140.78L1236.29 1141.55L1238.23 1142.32L1240.18 1143.1L1242.13 1143.87L1244.07 1144.65L1246.02 1145.42L1247.96 1146.2L1249.91 1146.97L1251.85 1147.75L1253.8 1148.52L1255.74 1149.3L1257.69 1150.08L1259.63 1150.86L1261.58 1151.63L1263.52 1152.41L1265.47 1153.19L1267.42 1153.97L1269.36 1154.75L1271.31 1155.53L1273.25 1156.31L1275.2 1157.09L1277.14 1157.87L1279.09 1158.65L1281.03 1159.43L1282.98 1160.21L1284.92 1160.99L1286.87 1161.77L1288.81 1162.55L1290.76 1163.34L1292.7 1164.12L1294.65 1164.9L1296.6 1165.69L1298.54 1166.47L1300.49 1167.25L1302.43 1168.04L1304.38 1168.82L1306.32 1169.61L1308.27 1170.39L1310.21 1171.18L1312.16 1171.96L1314.1 1172.75L1316.05 1173.54L1317.99 1174.32L1319.94 1175.11L1321.89 1175.9L1323.83 1176.69L1325.78 1177.48L1327.72 1178.26L1329.67 1179.05L1331.61 1179.84L1333.56 1180.63L1335.5 1181.42L1337.45 1182.21L1339.39 1183L1341.34 1183.79L1343.28 1184.58L1345.23 1185.38L1347.17 1186.17L1349.12 1186.96L1351.07 1187.75L1353.01 1188.54L1354.96 1189.34L1356.9 1190.13L1358.85 1190.92L1360.79 1191.72L1362.74 1192.51L1364.68 1193.31L1366.63 1194.1L1368.57 1194.9L1370.52 1195.69L1372.46 1196.49L1374.41 1197.28L1374.41 871.21L1376.36 871.95L1378.3 872.69L1380.25 873.43L1382.19 874.18L1384.14 874.92L1386.08 875.66L1388.03 876.4L1389.98 877.15L1391.92 877.89L1393.87 878.63L1395.81 879.38L1397.76 880.12L1399.71 880.87L1401.65 881.61L1403.6 882.36L1405.54 883.11L1407.49 883.85L1409.43 884.6L1411.38 885.35L1413.33 886.1L1415.27 886.84L1417.22 887.59L1419.16 888.34L1421.11 889.09L1423.05 889.84L1425 890.59L1426.95 891.34L1428.89 892.09L1430.84 892.84L1432.78 893.6L1434.73 894.35L1436.67 895.1L1438.62 895.85L1440.57 896.61L1442.51 897.36L1444.46 898.11L1446.4 898.87L1448.35 899.62L1450.3 900.38L1452.24 901.13L1454.19 901.89L1456.13 902.65L1458.08 903.4L1460.02 904.16L1461.97 904.92L1463.92 905.68L1465.86 906.43L1467.81 907.19L1469.75 907.95L1471.7 908.71L1473.64 909.47L1475.59 910.23L1477.54 910.99L1479.48 911.75L1481.43 912.51L1483.37 913.27L1485.32 914.04L1487.26 914.8L1489.21 915.56L1491.16 916.33L1493.1 917.09L1495.05 917.85L1496.99 918.62L1498.94 919.38L1500.89 920.15L1502.83 920.91L1504.78 921.68L1506.72 922.44L1508.67 923.21L1510.61 923.98L1512.56 924.74L1514.51 925.51L1516.45 926.28L1518.4 927.05L1520.34 927.82L1522.29 928.59L1524.23 929.36L1526.18 930.13L1528.13 930.9L1530.07 931.67L1532.02 932.44L1533.96 933.21L1535.91 933.98L1537.86 934.75L1539.8 935.52L1541.75 936.3L1543.69 937.07L1545.64 937.84L1547.58 938.62L1549.53 939.39L1551.48 940.17L1553.42 940.94L1555.37 941.72L1557.31 942.5L1559.26 943.27L1561.2 944.05L1563.15 944.83L1565.1 945.6L1567.04 946.38L1568.99 947.16L1570.93 947.94L1572.88 948.72L1574.82 949.5L1576.77 950.28L1578.72 951.06L1580.66 951.84L1582.61 952.62L1584.55 953.4L1586.5 954.18L1588.45 954.97L1590.39 955.75L1592.34 956.53L1594.28 957.32L1596.23 958.1L1598.17 958.88L1600.12 959.67L1602.07 960.45L1604.01 961.24L1605.96 962.02L1607.9 962.81L1609.85 963.6L1611.79 964.38L1613.74 965.17L1615.69 965.96L1617.63 966.75L1619.58 967.54L1621.52 968.33L1623.47 969.12L1625.41 969.91L1627.36 970.7L1629.31 971.49L1631.25 972.28L1633.2 973.07L1635.14 973.86L1637.09 974.65L1639.04 975.44L1640.98 976.24L1642.93 977.03L1644.87 977.82L1646.82 978.62L1648.76 979.41L1650.71 980.21L1652.66 981L1654.6 981.8L1656.55 982.59L1658.49 983.39L1660.44 984.19L1662.38 984.98L1664.33 985.78L1666.28 986.58L1668.22 987.38L1670.17 988.18L1672.11 988.98L1674.06 989.78L1676 990.58L1677.95 991.38L1679.9 992.18L1681.84 992.98L1683.79 993.78L1685.73 994.58L1687.68 995.38L1689.63 996.18L1691.57 996.99L1693.52 997.79L1695.46 998.59L1697.41 999.4L1699.35 1000.2L1701.3 1001.01" fill="none" stroke="#00ff00" stroke-width="6.4" stroke-linejoin="round" stroke-linecap="butt"/>
<path d="M1022.3 1046.42L1029.12 1058.77L1015.47 1058.77Z" fill="#00ff00"/><path d="M1041.7 1055.82L1048.52 1068.17L1034.87 1068.17Z" fill="#00ff00"/><path d="M1061.1 1064.75L1067.92 1077.1L1054.27 1077.1Z" fill="#00ff00"/><path d="M1080.5 1073.19L1087.33 1085.54L1073.67 1085.54Z" fill="#00ff00"/><path d="M1099.9 1081.19L1106.73 1093.54L1093.08 1093.54Z" fill="#00ff00"/><path d="M1119.3 1088.93L1126.12 1101.28L1112.47 1101.28Z" fill="#00ff00"/><path d="M1138.7 1096.48L1145.52 1108.83L1131.87 1108.83Z" fill="#00ff00"/><path d="M1158.1 1103.92L1164.92 1116.27L1151.27 1116.27Z" fill="#00ff00"/><path d="M1177.5 1111.3L1184.33 1123.65L1170.67 1123.65Z" fill="#00ff00"/><path d="M1196.9 1118.72L1203.73 1131.07L1190.08 1131.07Z" fill="#00ff00"/><path d="M1216.3 1126.23L1223.12 1138.58L1209.47 1138.58Z" fill="#00ff00"/><path d="M1235.7 1133.9L1242.52 1146.25L1228.87 1146.25Z" fill="#00ff00"/><path d="M1255.1 1141.63L1261.92 1153.98L1248.27 1153.98Z" fill="#00ff00"/><path d="M1274.5 1149.4L1281.33 1161.75L1267.67 1161.75Z" fill="#00ff00"/><path d="M1293.9 1157.19L1300.73 1169.54L1287.08 1169.54Z" fill="#00ff00"/><path d="M1313.3 1165.02L1320.12 1177.37L1306.47 1177.37Z" fill="#00ff00"/><path d="M1332.7 1172.87L1339.52 1185.22L1325.87 1185.22Z" fill="#00ff00"/><path d="M1352.1 1180.76L1358.92 1193.11L1345.27 1193.11Z" fill="#00ff00"/><path d="M1371.5 1188.68L1378.33 1201.03L1364.67 1201.03Z" fill="#00ff00"/><path d="M1390.9 870.09L1397.73 882.44L1384.08 882.44Z" fill="#00ff00"/><path d="M1410.3 877.52L1417.12 889.87L1403.47 889.87Z" fill="#00ff00"/><path d="M1429.7 884.99L1436.52 897.34L1422.87 897.34Z" fill="#00ff00"/><path d="M1449.1 892.5L1455.92 904.85L1442.27 904.85Z" fill="#00ff00"/><path d="M1468.5 900.05L1475.33 912.4L1461.67 912.4Z" fill="#00ff00"/><path d="M1487.9 907.64L1494.73 919.99L1481.08 919.99Z" fill="#00ff00"/><path d="M1507.3 915.26L1514.12 927.61L1500.47 927.61Z" fill="#00ff00"/><path d="M1526.7 922.92L1533.52 935.27L1519.87 935.27Z" fill="#00ff00"/><path d="M1546.1 930.62L1552.92 942.97L1539.27 942.97Z" fill="#00ff00"/><path d="M1565.5 938.35L1572.33 950.7L1558.67 950.7Z" fill="#00ff00"/><path d="M1584.9 946.13L1591.73 958.48L1578.08 958.48Z" fill="#00ff00"/><path d="M1604.3 953.95L1611.12 966.3L1597.47 966.3Z" fill="#00ff00"/><path d="M1623.7 961.8L1630.52 974.15L1616.87 974.15Z" fill="#00ff00"/><path d="M1643.1 969.69L1649.92 982.04L1636.27 982.04Z" fill="#00ff00"/><path d="M1662.5 977.62L1669.33 989.97L1655.67 989.97Z" fill="#00ff00"/><path d="M1681.9 985.59L1688.73 997.94L1675.08 997.94Z" fill="#00ff00"/><path d="M1701.3 993.6L1708.12 1005.95L1694.47 1005.95Z" fill="#00ff00"/>
<path d="M1022.3 1035.83L1024.24 1036.78L1026.19 1037.73L1028.13 1038.68L1030.08 1039.62L1032.02 1040.55L1033.97 1041.49L1035.91 1042.41L1037.86 1043.33L1039.8 1044.25L1041.75 1045.16L1043.69 1046.07L1045.64 1046.97L1047.58 1047.87L1049.53 1048.76L1051.47 1049.64L1053.42 1050.53L1055.36 1051.4L1057.31 1052.27L1059.25 1053.14L1061.2 1054.01L1063.14 1054.86L1065.09 1055.72L1067.03 1056.57L1068.97 1057.41L1070.92 1058.25L1072.86 1059.09L1074.81 1059.92L1076.75 1060.75L1078.7 1061.57L1080.64 1062.39L1082.59 1063.21L1084.53 1064.02L1086.48 1064.83L1088.42 1065.64L1090.37 1066.45L1092.31 1067.25L1094.26 1068.05L1096.2 1068.85L1098.15 1069.65L1100.09 1070.45L1102.04 1071.24L1103.98 1072.03L1105.93 1072.82L1107.87 1073.61L1109.82 1074.4L1111.76 1075.18L1113.7 1075.97L1115.65 1076.75L1117.59 1077.53L1119.54 1078.31L1121.48 1079.08L1123.43 1079.86L1125.37 1080.63L1127.32 1081.4L1129.26 1082.17L1131.21 1082.94L1133.15 1083.71L1135.1 1084.48L1137.04 1085.25L1138.99 1086.01L1140.93 1086.78L1142.88 1087.54L1144.82 1088.3L1146.77 1089.06L1148.71 1089.82L1150.66 1090.58L1152.6 1091.34L1154.54 1092.1L1156.49 1092.86L1158.43 1093.61L1160.38 1094.37L1162.32 1095.12L1164.27 1095.88L1166.21 1096.63L1168.16 1097.39L1170.1 1098.14L1172.05 1098.89L1173.99 1099.65L1175.94 1100.4L1177.88 1101.15L1179.83 1101.91L1181.77 1102.66L1183.72 1103.41L1185.66 1104.16L1187.61 1104.92L1189.55 1105.67L1191.5 1106.42L1193.44 1107.18L1195.39 1107.93L1197.33 1108.68L1199.27 1109.44L1201.22 1110.19L1203.16 1110.95L1205.11 1111.7L1207.05 1112.46L1209 1113.22L1210.94 1113.97L1212.89 1114.73L1214.83 1115.49L1216.78 1116.25L1218.72 1117.01L1220.67 1117.77L1222.61 1118.53L1224.56 1119.3L1226.5 1120.06L1228.45 1120.82L1230.39 1121.59L1232.34 1122.36L1234.28 1123.13L1236.23 1123.9L1238.17 1124.67L1240.12 1125.44L1242.06 1126.21L1244 1126.99L1245.95 1127.76L1247.89 1128.54L1249.84 1129.32L1251.78 1130.1L1253.73 1130.88L1255.67 1131.66L1257.62 1132.44L1259.56 1133.22L1261.51 1134L1263.45 1134.79L1265.4 1135.57L1267.34 1136.35L1269.29 1137.13L1271.23 1137.91L1273.18 1138.7L1275.12 1139.48L1277.07 1140.26L1279.01 1141.05L1280.96 1141.83L1282.9 1142.61L1284.85 1143.4L1286.79 1144.18L1288.73 1144.97L1290.68 1145.75L1292.62 1146.54L1294.57 1147.32L1296.51 1148.11L1298.46 1148.89L1300.4 1149.68L1302.35 1150.46L1304.29 1151.25L1306.24 1152.04L1308.18 1152.82L1310.13 1153.61L1312.07 1154.4L1314.02 1155.19L1315.96 1155.98L1317.91 1156.76L1319.85 1157.55L1321.8 1158.34L1323.74 1159.13L1325.69 1159.92L1327.63 1160.71L1329.57 1161.5L1331.52 1162.29L1333.46 1163.08L1335.41 1163.87L1337.35 1164.66L1339.3 1165.45L1341.24 1166.24L1343.19 1167.03L1345.13 1167.82L1347.08 1168.62L1349.02 1169.41L1350.97 1170.2L1352.91 1170.99L1354.86 1171.79L1356.8 1172.58L1358.75 1173.37L1360.69 1174.17L1362.64 1174.96L1364.58 1175.75L1366.53 1176.55L1368.47 1177.34L1370.42 1178.14L1372.36 1178.93L1374.3 1179.73L1376.25 1180.52L1378.19 1181.32L1380.14 1182.11L1382.08 1182.91L1384.03 1183.71L1385.97 1184.5L1387.92 1185.3L1389.86 1186.1L1391.81 1186.9L1393.75 1187.69L1395.7 1188.49L1397.64 1189.29L1399.59 1190.09L1401.53 1190.89L1403.48 1191.68L1405.42 1192.48L1407.37 1193.28L1409.31 1194.08L1411.26 1194.88L1413.2 1195.68L1415.15 1196.48L1417.09 1197.28L1417.09 871.21L1419.04 871.95L1420.98 872.69L1422.93 873.43L1424.88 874.17L1426.82 874.92L1428.77 875.66L1430.72 876.4L1432.66 877.15L1434.61 877.89L1436.56 878.63L1438.5 879.38L1440.45 880.13L1442.4 880.87L1444.34 881.62L1446.29 882.37L1448.24 883.11L1450.18 883.86L1452.13 884.61L1454.08 885.36L1456.02 886.11L1457.97 886.86L1459.92 887.61L1461.86 888.36L1463.81 889.11L1465.76 889.87L1467.7 890.62L1469.65 891.37L1471.6 892.13L1473.54 892.88L1475.49 893.63L1477.44 894.39L1479.38 895.15L1481.33 895.9L1483.28 896.66L1485.22 897.42L1487.17 898.17L1489.12 898.93L1491.06 899.69L1493.01 900.45L1494.96 901.21L1496.9 901.97L1498.85 902.73L1500.8 903.49L1502.74 904.26L1504.69 905.02L1506.64 905.78L1508.58 906.54L1510.53 907.31L1512.48 908.07L1514.42 908.84L1516.37 909.6L1518.32 910.37L1520.26 911.14L1522.21 911.9L1524.16 912.67L1526.1 913.44L1528.05 914.21L1530 914.98L1531.94 915.74L1533.89 916.51L1535.84 917.28L1537.78 918.06L1539.73 918.83L1541.68 919.6L1543.62 920.37L1545.57 921.14L1547.52 921.92L1549.46 922.69L1551.41 923.46L1553.36 924.24L1555.3 925.01L1557.25 925.79L1559.19 926.57L1561.14 927.34L1563.09 928.12L1565.03 928.9L1566.98 929.68L1568.93 930.46L1570.87 931.23L1572.82 932.01L1574.77 932.8L1576.71 933.58L1578.66 934.36L1580.61 935.14L1582.55 935.92L1584.5 936.71L1586.45 937.49L1588.39 938.27L1590.34 939.06L1592.29 939.84L1594.23 940.63L1596.18 941.41L1598.13 942.2L1600.07 942.99L1602.02 943.78L1603.97 944.56L1605.91 945.35L1607.86 946.14L1609.81 946.93L1611.75 947.72L1613.7 948.51L1615.65 949.31L1617.59 950.1L1619.54 950.89L1621.49 951.68L1623.43 952.48L1625.38 953.27L1627.33 954.07L1629.27 954.86L1631.22 955.66L1633.17 956.45L1635.11 957.25L1637.06 958.05L1639.01 958.84L1640.95 959.64L1642.9 960.44L1644.85 961.24L1646.79 962.04L1648.74 962.84L1650.69 963.64L1652.63 964.44L1654.58 965.24L1656.53 966.04L1658.47 966.85L1660.42 967.65L1662.37 968.45L1664.31 969.26L1666.26 970.06L1668.21 970.87L1670.15 971.67L1672.1 972.48L1674.05 973.29L1675.99 974.1L1677.94 974.9L1679.89 975.71L1681.83 976.52L1683.78 977.33L1685.73 978.14L1687.67 978.95L1689.62 979.76L1691.57 980.57L1693.51 981.38L1695.46 982.2L1697.41 983.01L1699.35 983.82L1701.3 984.64" fill="none" stroke="#0000ff" stroke-width="6.4" stroke-linejoin="round" stroke-linecap="butt"/>
<path d="M1022.3 1043.24L1029.12 1030.89L1015.47 1030.89Z" fill="#0000ff"/><path d="M1041.7 1052.55L1048.52 1040.2L1034.87 1040.2Z" fill="#0000ff"/><path d="M1061.1 1061.37L1067.92 1049.02L1054.27 1049.02Z" fill="#0000ff"/><path d="M1080.5 1069.74L1087.33 1057.39L1073.67 1057.39Z" fill="#0000ff"/><path d="M1099.9 1077.78L1106.73 1065.43L1093.08 1065.43Z" fill="#0000ff"/><path d="M1119.3 1085.62L1126.12 1073.27L1112.47 1073.27Z" fill="#0000ff"/><path d="M1138.7 1093.31L1145.52 1080.96L1131.87 1080.96Z" fill="#0000ff"/><path d="M1158.1 1100.89L1164.92 1088.54L1151.27 1088.54Z" fill="#0000ff"/><path d="M1177.5 1108.42L1184.33 1096.07L1170.67 1096.07Z" fill="#0000ff"/><path d="M1196.9 1115.93L1203.73 1103.58L1190.08 1103.58Z" fill="#0000ff"/><path d="M1216.3 1123.47L1223.12 1111.12L1209.47 1111.12Z" fill="#0000ff"/><path d="M1235.7 1131.1L1242.52 1118.75L1228.87 1118.75Z" fill="#0000ff"/><path d="M1255.1 1138.84L1261.92 1126.49L1248.27 1126.49Z" fill="#0000ff"/><path d="M1274.5 1146.64L1281.33 1134.29L1267.67 1134.29Z" fill="#0000ff"/><path d="M1293.9 1154.46L1300.73 1142.11L1287.08 1142.11Z" fill="#0000ff"/><path d="M1313.3 1162.31L1320.12 1149.96L1306.47 1149.96Z" fill="#0000ff"/><path d="M1332.7 1170.18L1339.52 1157.83L1325.87 1157.83Z" fill="#0000ff"/><path d="M1352.1 1178.07L1358.92 1165.72L1345.27 1165.72Z" fill="#0000ff"/><path d="M1371.5 1185.99L1378.33 1173.64L1364.67 1173.64Z" fill="#0000ff"/><path d="M1390.9 1193.93L1397.73 1181.58L1384.08 1181.58Z" fill="#0000ff"/><path d="M1410.3 1201.9L1417.12 1189.55L1403.47 1189.55Z" fill="#0000ff"/><path d="M1429.7 883.42L1436.52 871.07L1422.87 871.07Z" fill="#0000ff"/><path d="M1449.1 890.85L1455.92 878.5L1442.27 878.5Z" fill="#0000ff"/><path d="M1468.5 898.34L1475.33 885.99L1461.67 885.99Z" fill="#0000ff"/><path d="M1487.9 905.87L1494.73 893.52L1481.08 893.52Z" fill="#0000ff"/><path d="M1507.3 913.45L1514.12 901.1L1500.47 901.1Z" fill="#0000ff"/><path d="M1526.7 921.08L1533.52 908.73L1519.87 908.73Z" fill="#0000ff"/><path d="M1546.1 928.76L1552.92 916.41L1539.27 916.41Z" fill="#0000ff"/><path d="M1565.5 936.49L1572.33 924.14L1558.67 924.14Z" fill="#0000ff"/><path d="M1584.9 944.28L1591.73 931.93L1578.08 931.93Z" fill="#0000ff"/><path d="M1604.3 952.11L1611.12 939.76L1597.47 939.76Z" fill="#0000ff"/><path d="M1623.7 959.99L1630.52 947.64L1616.87 947.64Z" fill="#0000ff"/><path d="M1643.1 967.93L1649.92 955.58L1636.27 955.58Z" fill="#0000ff"/><path d="M1662.5 975.92L1669.33 963.57L1655.67 963.57Z" fill="#0000ff"/><path d="M1681.9 983.96L1688.73 971.61L1675.08 971.61Z" fill="#0000ff"/><path d="M1701.3 992.05L1708.12 979.7L1694.47 979.7Z" fill="#0000ff"/>
<path d="M1022.3 1044.6L1024.25 1045.56L1026.19 1046.52L1028.14 1047.47L1030.08 1048.42L1032.03 1049.36L1033.97 1050.3L1035.92 1051.23L1037.86 1052.16L1039.81 1053.08L1041.75 1054L1043.7 1054.91L1045.64 1055.82L1047.59 1056.72L1049.53 1057.62L1051.48 1058.51L1053.42 1059.4L1055.37 1060.28L1057.31 1061.16L1059.26 1062.04L1061.2 1062.91L1063.15 1063.77L1065.09 1064.63L1067.04 1065.49L1068.98 1066.34L1070.93 1067.18L1072.87 1068.03L1074.82 1068.86L1076.76 1069.7L1078.71 1070.53L1080.65 1071.35L1082.6 1072.17L1084.54 1072.99L1086.49 1073.81L1088.43 1074.62L1090.38 1075.43L1092.32 1076.24L1094.27 1077.05L1096.21 1077.85L1098.16 1078.65L1100.1 1079.45L1102.05 1080.25L1103.99 1081.05L1105.94 1081.84L1107.88 1082.63L1109.83 1083.42L1111.77 1084.21L1113.72 1085L1115.66 1085.78L1117.61 1086.57L1119.55 1087.35L1121.5 1088.13L1123.44 1088.9L1125.39 1089.68L1127.33 1090.46L1129.28 1091.23L1131.22 1092L1133.17 1092.78L1135.11 1093.55L1137.06 1094.31L1139 1095.08L1140.95 1095.85L1142.89 1096.62L1144.84 1097.38L1146.79 1098.15L1148.73 1098.91L1150.68 1099.67L1152.62 1100.43L1154.57 1101.2L1156.51 1101.96L1158.46 1102.72L1160.4 1103.48L1162.35 1104.24L1164.29 1105L1166.24 1105.76L1168.18 1106.51L1170.13 1107.27L1172.07 1108.03L1174.02 1108.79L1175.96 1109.55L1177.91 1110.31L1179.85 1111.06L1181.8 1111.82L1183.74 1112.58L1185.69 1113.34L1187.63 1114.1L1189.58 1114.86L1191.52 1115.62L1193.47 1116.38L1195.41 1117.14L1197.36 1117.9L1199.3 1118.66L1201.25 1119.43L1203.19 1120.19L1205.14 1120.95L1207.08 1121.72L1209.03 1122.49L1210.97 1123.25L1212.92 1124.02L1214.86 1124.79L1216.81 1125.56L1218.75 1126.33L1220.7 1127.1L1222.64 1127.88L1224.59 1128.65L1226.53 1129.43L1228.48 1130.21L1230.42 1130.99L1232.37 1131.77L1234.31 1132.55L1236.26 1133.34L1238.2 1134.12L1240.15 1134.91L1242.09 1135.69L1244.04 1136.48L1245.98 1137.27L1247.93 1138.06L1249.87 1138.84L1251.82 1139.63L1253.76 1140.42L1255.71 1141.21L1257.65 1142L1259.6 1142.79L1261.54 1143.58L1263.49 1144.36L1265.43 1145.15L1267.38 1145.95L1269.32 1146.74L1271.27 1147.53L1273.22 1148.32L1275.16 1149.11L1277.11 1149.9L1279.05 1150.69L1281 1151.49L1282.94 1152.28L1284.89 1153.07L1286.83 1153.86L1288.78 1154.66L1290.72 1155.45L1292.67 1156.24L1294.61 1157.04L1296.56 1157.83L1298.5 1158.63L1300.45 1159.42L1302.39 1160.22L1304.34 1161.01L1306.28 1161.81L1308.23 1162.61L1310.17 1163.4L1312.12 1164.2L1314.06 1165L1316.01 1165.79L1317.95 1166.59L1319.9 1167.39L1321.84 1168.19L1323.79 1168.99L1325.73 1169.79L1327.68 1170.58L1329.62 1171.38L1331.57 1172.18L1333.51 1172.98L1335.46 1173.78L1337.4 1174.58L1339.35 1175.38L1341.29 1176.19L1343.24 1176.99L1345.18 1177.79L1347.13 1178.59L1349.07 1179.39L1351.02 1180.19L1352.96 1181L1354.91 1181.8L1356.85 1182.6L1358.8 1183.41L1360.74 1184.21L1362.69 1185.01L1364.63 1185.82L1366.58 1186.62L1368.52 1187.43L1370.47 1188.23L1372.41 1189.04L1374.36 1189.84L1376.3 1190.65L1378.25 1191.46L1380.19 1192.26L1382.14 1193.07L1384.08 1193.88L1386.03 1194.68L1387.97 1195.49L1389.92 1196.3L1391.86 1197.11L1393.81 1197.92L1393.81 871.21L1395.76 871.94L1397.7 872.67L1399.65 873.41L1401.59 874.14L1403.54 874.87L1405.49 875.61L1407.43 876.34L1409.38 877.07L1411.33 877.81L1413.27 878.54L1415.22 879.28L1417.16 880.02L1419.11 880.75L1421.06 881.49L1423 882.23L1424.95 882.96L1426.89 883.7L1428.84 884.44L1430.79 885.18L1432.73 885.92L1434.68 886.66L1436.63 887.4L1438.57 888.14L1440.52 888.88L1442.46 889.63L1444.41 890.37L1446.36 891.11L1448.3 891.85L1450.25 892.6L1452.19 893.34L1454.14 894.09L1456.09 894.83L1458.03 895.58L1459.98 896.32L1461.92 897.07L1463.87 897.81L1465.82 898.56L1467.76 899.31L1469.71 900.06L1471.66 900.8L1473.6 901.55L1475.55 902.3L1477.49 903.05L1479.44 903.8L1481.39 904.55L1483.33 905.3L1485.28 906.05L1487.22 906.81L1489.17 907.56L1491.12 908.31L1493.06 909.06L1495.01 909.82L1496.96 910.57L1498.9 911.33L1500.85 912.08L1502.79 912.84L1504.74 913.59L1506.69 914.35L1508.63 915.1L1510.58 915.86L1512.52 916.62L1514.47 917.38L1516.42 918.13L1518.36 918.89L1520.31 919.65L1522.26 920.41L1524.2 921.17L1526.15 921.93L1528.09 922.69L1530.04 923.45L1531.99 924.21L1533.93 924.98L1535.88 925.74L1537.82 926.5L1539.77 927.26L1541.72 928.03L1543.66 928.79L1545.61 929.56L1547.55 930.32L1549.5 931.09L1551.45 931.85L1553.39 932.62L1555.34 933.38L1557.29 934.15L1559.23 934.92L1561.18 935.69L1563.12 936.45L1565.07 937.22L1567.02 937.99L1568.96 938.76L1570.91 939.53L1572.85 940.3L1574.8 941.07L1576.75 941.85L1578.69 942.62L1580.64 943.39L1582.59 944.16L1584.53 944.94L1586.48 945.71L1588.42 946.49L1590.37 947.26L1592.32 948.03L1594.26 948.81L1596.21 949.59L1598.15 950.36L1600.1 951.14L1602.05 951.92L1603.99 952.7L1605.94 953.47L1607.89 954.25L1609.83 955.03L1611.78 955.81L1613.72 956.59L1615.67 957.37L1617.62 958.15L1619.56 958.93L1621.51 959.72L1623.45 960.5L1625.4 961.28L1627.35 962.06L1629.29 962.85L1631.24 963.63L1633.19 964.42L1635.13 965.2L1637.08 965.99L1639.02 966.77L1640.97 967.56L1642.92 968.34L1644.86 969.13L1646.81 969.92L1648.75 970.71L1650.7 971.49L1652.65 972.28L1654.59 973.07L1656.54 973.86L1658.48 974.65L1660.43 975.44L1662.38 976.23L1664.32 977.03L1666.27 977.82L1668.22 978.61L1670.16 979.4L1672.11 980.19L1674.05 980.99L1676 981.78L1677.95 982.58L1679.89 983.37L1681.84 984.17L1683.78 984.96L1685.73 985.76L1687.68 986.56L1689.62 987.35L1691.57 988.15L1693.52 988.95L1695.46 989.75L1697.41 990.54L1699.35 991.34L1701.3 992.14" fill="none" stroke="#00ffff" stroke-width="6.4" stroke-linejoin="round" stroke-linecap="butt"/>
<path d="M1022.3 1036.8L1027.83 1044.6L1022.3 1052.4L1016.77 1044.6Z" fill="#00ffff"/><path d="M1041.7 1046.18L1047.22 1053.98L1041.7 1061.78L1036.17 1053.98Z" fill="#00ffff"/><path d="M1061.1 1055.06L1066.62 1062.86L1061.1 1070.66L1055.57 1062.86Z" fill="#00ffff"/><path d="M1080.5 1063.49L1086.03 1071.29L1080.5 1079.09L1074.97 1071.29Z" fill="#00ffff"/><path d="M1099.9 1071.57L1105.43 1079.37L1099.9 1087.17L1094.38 1079.37Z" fill="#00ffff"/><path d="M1119.3 1079.44L1124.83 1087.24L1119.3 1095.04L1113.77 1087.24Z" fill="#00ffff"/><path d="M1138.7 1087.16L1144.22 1094.96L1138.7 1102.76L1133.17 1094.96Z" fill="#00ffff"/><path d="M1158.1 1094.78L1163.62 1102.58L1158.1 1110.38L1152.57 1102.58Z" fill="#00ffff"/><path d="M1177.5 1102.35L1183.03 1110.15L1177.5 1117.95L1171.97 1110.15Z" fill="#00ffff"/><path d="M1196.9 1109.92L1202.43 1117.72L1196.9 1125.52L1191.38 1117.72Z" fill="#00ffff"/><path d="M1216.3 1117.56L1221.83 1125.36L1216.3 1133.16L1210.77 1125.36Z" fill="#00ffff"/><path d="M1235.7 1125.31L1241.22 1133.11L1235.7 1140.91L1230.17 1133.11Z" fill="#00ffff"/><path d="M1255.1 1133.16L1260.62 1140.96L1255.1 1148.76L1249.57 1140.96Z" fill="#00ffff"/><path d="M1274.5 1141.04L1280.03 1148.84L1274.5 1156.64L1268.97 1148.84Z" fill="#00ffff"/><path d="M1293.9 1148.95L1299.43 1156.75L1293.9 1164.55L1288.38 1156.75Z" fill="#00ffff"/><path d="M1313.3 1156.88L1318.83 1164.68L1313.3 1172.48L1307.77 1164.68Z" fill="#00ffff"/><path d="M1332.7 1164.85L1338.22 1172.65L1332.7 1180.45L1327.17 1172.65Z" fill="#00ffff"/><path d="M1352.1 1172.84L1357.62 1180.64L1352.1 1188.44L1346.57 1180.64Z" fill="#00ffff"/><path d="M1371.5 1180.86L1377.03 1188.66L1371.5 1196.46L1365.97 1188.66Z" fill="#00ffff"/><path d="M1390.9 1188.91L1396.43 1196.71L1390.9 1204.51L1385.38 1196.71Z" fill="#00ffff"/><path d="M1410.3 869.62L1415.83 877.42L1410.3 885.22L1404.77 877.42Z" fill="#00ffff"/><path d="M1429.7 876.97L1435.22 884.77L1429.7 892.57L1424.17 884.77Z" fill="#00ffff"/><path d="M1449.1 884.36L1454.62 892.16L1449.1 899.96L1443.57 892.16Z" fill="#00ffff"/><path d="M1468.5 891.79L1474.03 899.59L1468.5 907.39L1462.97 899.59Z" fill="#00ffff"/><path d="M1487.9 899.27L1493.43 907.07L1487.9 914.87L1482.38 907.07Z" fill="#00ffff"/><path d="M1507.3 906.79L1512.83 914.59L1507.3 922.39L1501.77 914.59Z" fill="#00ffff"/><path d="M1526.7 914.35L1532.22 922.15L1526.7 929.95L1521.17 922.15Z" fill="#00ffff"/><path d="M1546.1 921.95L1551.62 929.75L1546.1 937.55L1540.57 929.75Z" fill="#00ffff"/><path d="M1565.5 929.59L1571.03 937.39L1565.5 945.19L1559.97 937.39Z" fill="#00ffff"/><path d="M1584.9 937.28L1590.43 945.08L1584.9 952.88L1579.38 945.08Z" fill="#00ffff"/><path d="M1604.3 945.02L1609.83 952.82L1604.3 960.62L1598.77 952.82Z" fill="#00ffff"/><path d="M1623.7 952.8L1629.22 960.6L1623.7 968.4L1618.17 960.6Z" fill="#00ffff"/><path d="M1643.1 960.62L1648.62 968.42L1643.1 976.22L1637.57 968.42Z" fill="#00ffff"/><path d="M1662.5 968.48L1668.03 976.28L1662.5 984.08L1656.97 976.28Z" fill="#00ffff"/><path d="M1681.9 976.39L1687.43 984.19L1681.9 991.99L1676.38 984.19Z" fill="#00ffff"/><path d="M1701.3 984.34L1706.83 992.14L1701.3 999.94L1695.77 992.14Z" fill="#00ffff"/>
<path d="M1022.3 1305.1v10.5M1119.3 1305.1v10.5M1216.3 1305.1v10.5M1313.3 1305.1v10.5M1410.3 1305.1v10.5M1507.3 1305.1v10.5M1604.3 1305.1v10.5M1701.3 1305.1v10.5M1070.8 1305.1v5.5M1167.8 1305.1v5.5M1264.8 1305.1v5.5M1361.8 1305.1v5.5M1458.8 1305.1v5.5M1555.8 1305.1v5.5M1652.8 1305.1v5.5M1022.3 1305.1h-10.5M1022.3 1214.65h-10.5M1022.3 1124.2h-10.5M1022.3 1033.75h-10.5M1022.3 943.3h-10.5M1022.3 852.85h-10.5M1022.3 762.4h-10.5M1022.3 1259.88h-5.5M1022.3 1169.42h-5.5M1022.3 1078.97h-5.5M1022.3 988.52h-5.5M1022.3 898.07h-5.5M1022.3 807.62h-5.5" stroke="#000" stroke-width="2.0" fill="none"/>
<text transform="translate(1003.2 1317.1)" font-family="'Liberation Sans', Arial, sans-serif" font-size="36" text-anchor="end" >-300</text>
<text transform="translate(1003.2 1226.65)" font-family="'Liberation Sans', Arial, sans-serif" font-size="36" text-anchor="end" >-200</text>
<text transform="translate(1003.2 1136.2)" font-family="'Liberation Sans', Arial, sans-serif" font-size="36" text-anchor="end" >-100</text>
<text transform="translate(1003.2 1045.75)" font-family="'Liberation Sans', Arial, sans-serif" font-size="36" text-anchor="end" >0</text>
<text transform="translate(1003.2 955.3)" font-family="'Liberation Sans', Arial, sans-serif" font-size="36" text-anchor="end" >100</text>
<text transform="translate(1003.2 864.85)" font-family="'Liberation Sans', Arial, sans-serif" font-size="36" text-anchor="end" >200</text>
<text transform="translate(1003.2 774.4)" font-family="'Liberation Sans', Arial, sans-serif" font-size="36" text-anchor="end" >300</text>
<text transform="translate(1022.3 1350.8) scale(1 1.04)" font-family="'Liberation Sans', Arial, sans-serif" font-size="35" text-anchor="middle" >11</text>
<text transform="translate(1119.3 1350.8) scale(1 1.04)" font-family="'Liberation Sans', Arial, sans-serif" font-size="35" text-anchor="middle" >12</text>
<text transform="translate(1216.3 1350.8) scale(1 1.04)" font-family="'Liberation Sans', Arial, sans-serif" font-size="35" text-anchor="middle" >13</text>
<text transform="translate(1313.3 1350.8) scale(1 1.04)" font-family="'Liberation Sans', Arial, sans-serif" font-size="35" text-anchor="middle" >14</text>
<text transform="translate(1410.3 1350.8) scale(1 1.04)" font-family="'Liberation Sans', Arial, sans-serif" font-size="35" text-anchor="middle" >15</text>
<text transform="translate(1507.3 1350.8) scale(1 1.04)" font-family="'Liberation Sans', Arial, sans-serif" font-size="35" text-anchor="middle" >16</text>
<text transform="translate(1604.3 1350.8) scale(1 1.04)" font-family="'Liberation Sans', Arial, sans-serif" font-size="35" text-anchor="middle" >17</text>
<text transform="translate(1701.3 1350.8) scale(1 1.04)" font-family="'Liberation Sans', Arial, sans-serif" font-size="35" text-anchor="middle" >18</text>
<text transform="translate(1362.5 1409.4) scale(1 1.03)" font-family="'Liberation Sans', Arial, sans-serif" font-size="38.9" text-anchor="middle" >Frequency(GHz)</text>
<text transform="translate(897.7 1024) rotate(-90)" font-family="'Liberation Sans', Arial, sans-serif" font-size="38.4" text-anchor="middle">Phase(deg)</text>
<text transform="translate(1327 1465)" font-family="'Liberation Serif', 'Times New Roman', serif" font-size="33" text-anchor="middle" >(d)</text>
<rect x="1535" y="1063.3" width="166.3" height="241.8" fill="#fff" stroke="#222" stroke-width="1.3"/>
<path d="M1540 1089.9H1626.2" stroke="#000000" stroke-width="6.5"/>
<rect x="1575.65" y="1083.15" width="13.5" height="13.5" fill="#000000"/>
<text transform="translate(1635 1103.3) scale(1 1.05)" font-family="'Liberation Sans', Arial, sans-serif" font-size="38" text-anchor="start" >0°</text>
<path d="M1540 1136.7H1626.2" stroke="#ff0000" stroke-width="6.5"/>
<circle cx="1582.4" cy="1136.7" r="6.75" fill="#ff0000"/>
<text transform="translate(1635 1150.1) scale(1 1.05)" font-family="'Liberation Sans', Arial, sans-serif" font-size="38" text-anchor="start" >10°</text>
<path d="M1540 1183.6H1626.2" stroke="#00ff00" stroke-width="6.5"/>
<path d="M1582.4 1175.9L1589.49 1188.73L1575.31 1188.73Z" fill="#00ff00"/>
<text transform="translate(1635 1197) scale(1 1.05)" font-family="'Liberation Sans', Arial, sans-serif" font-size="38" text-anchor="start" >20°</text>
<path d="M1540 1230.4H1626.2" stroke="#0000ff" stroke-width="6.5"/>
<path d="M1582.4 1238.1L1589.49 1225.27L1575.31 1225.27Z" fill="#0000ff"/>
<text transform="translate(1635 1243.8) scale(1 1.05)" font-family="'Liberation Sans', Arial, sans-serif" font-size="38" text-anchor="start" >30°</text>
<path d="M1540 1277.3H1626.2" stroke="#00ffff" stroke-width="6.5"/>
<path d="M1582.4 1269.2L1588.14 1277.3L1582.4 1285.4L1576.66 1277.3Z" fill="#00ffff"/>
<text transform="translate(1635 1290.7) scale(1 1.05)" font-family="'Liberation Sans', Arial, sans-serif" font-size="38" text-anchor="start" >40°</text>
<path d="M1533 1305.1H1701.3V1058" fill="none" stroke="#000" stroke-width="2.2"/>
</svg>
</body></html>
